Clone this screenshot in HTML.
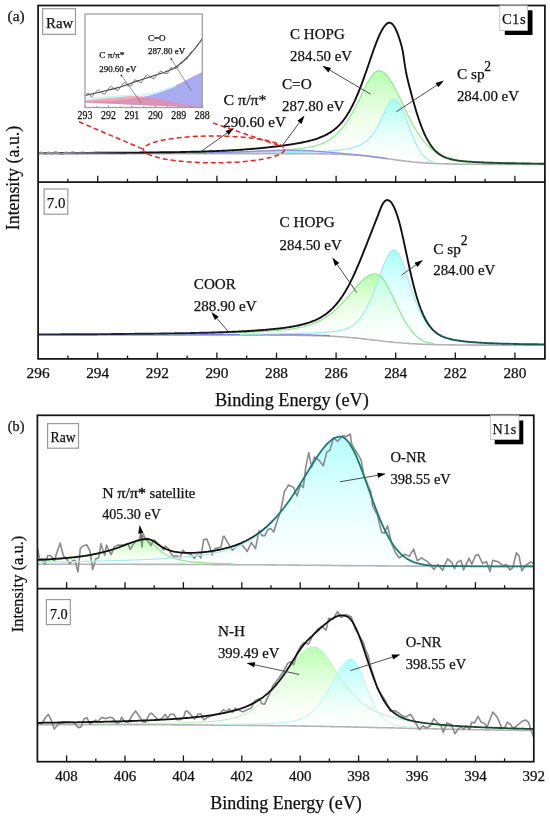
<!DOCTYPE html>
<html><head><meta charset="utf-8"><title>XPS C1s N1s</title>
<style>
html,body{margin:0;padding:0;background:#fff;}
body{width:550px;height:817px;overflow:hidden;}
svg{display:block;filter:blur(0.35px);}
text{font-family:"Liberation Serif", serif;fill:#111;stroke:#111;stroke-width:0.25px;}
</style></head><body>
<svg width="550" height="817" viewBox="0 0 550 817">
<rect x="0" y="0" width="550" height="817" fill="#fff"/>
<defs>
<linearGradient id="gG" x1="0" y1="0" x2="0" y2="1"><stop offset="0" stop-color="#a8ffa0" stop-opacity="0.85"/><stop offset="0.55" stop-color="#e2ffd8" stop-opacity="0.5"/><stop offset="1" stop-color="#ffffff" stop-opacity="0.1"/></linearGradient>
<linearGradient id="gC" x1="0" y1="0" x2="0" y2="1"><stop offset="0" stop-color="#98fffa" stop-opacity="0.85"/><stop offset="0.55" stop-color="#dafefe" stop-opacity="0.5"/><stop offset="1" stop-color="#ffffff" stop-opacity="0.1"/></linearGradient>
<linearGradient id="gCb" x1="0" y1="0" x2="0" y2="1"><stop offset="0" stop-color="#b6fcff" stop-opacity="1"/><stop offset="0.5" stop-color="#e2ffff" stop-opacity="1"/><stop offset="0.8" stop-color="#f6ffff" stop-opacity="1"/><stop offset="1" stop-color="#fdffff" stop-opacity="1"/></linearGradient>
<linearGradient id="gB" x1="0" y1="0" x2="0" y2="1"><stop offset="0" stop-color="#8c8cf0" stop-opacity="0.7"/><stop offset="1" stop-color="#c8c8f8" stop-opacity="0.4"/></linearGradient>
<linearGradient id="eA1" gradientUnits="userSpaceOnUse" x1="420" y1="0" x2="450" y2="0"><stop offset="0" stop-color="#111"/><stop offset="1" stop-color="#1c4a30"/></linearGradient>
<linearGradient id="eA2" gradientUnits="userSpaceOnUse" x1="38" y1="0" x2="545" y2="0"><stop offset="0" stop-color="#262650"/><stop offset="0.33" stop-color="#1c1c3a"/><stop offset="0.4" stop-color="#111"/><stop offset="0.743" stop-color="#111"/><stop offset="0.8" stop-color="#1e5656"/><stop offset="1" stop-color="#1e5656"/></linearGradient>
<linearGradient id="eB1" gradientUnits="userSpaceOnUse" x1="235" y1="0" x2="275" y2="0"><stop offset="0" stop-color="#111"/><stop offset="1" stop-color="#1d7a76"/></linearGradient>
<linearGradient id="eB2" gradientUnits="userSpaceOnUse" x1="385" y1="0" x2="420" y2="0"><stop offset="0" stop-color="#111"/><stop offset="1" stop-color="#1c4a2c"/></linearGradient>
<linearGradient id="gRawA" gradientUnits="userSpaceOnUse" x1="60" y1="0" x2="135" y2="0"><stop offset="0" stop-color="#929292" stop-opacity="1"/><stop offset="1" stop-color="#929292" stop-opacity="0"/></linearGradient>
<clipPath id="cA1"><rect x="38" y="5" width="507" height="177"/></clipPath>
<clipPath id="cA2"><rect x="38" y="182" width="507" height="176"/></clipPath>
<clipPath id="cB1"><rect x="37" y="415" width="496.5" height="173.4"/></clipPath>
<clipPath id="cB2"><rect x="37" y="588.4" width="496.5" height="173"/></clipPath>
<clipPath id="cIn"><rect x="85" y="14" width="117.3" height="93.5"/></clipPath>
</defs>
<g clip-path="url(#cA1)">
<path d="M166,153.3 L167,153.3 L168,153.3 L169,153.3 L170,153.3 L171,153.3 L172,153.3 L173,153.3 L174,153.3 L175,153.3 L176,153.3 L177,153.3 L178,153.3 L179,153.3 L180,153.3 L181,153.3 L182,153.2 L183,153.2 L184,153.2 L185,153.2 L186,153.2 L187,153.2 L188,153.2 L189,153.2 L190,153.2 L191,153.2 L192,153.1 L193,153.1 L194,153.1 L195,153.1 L196,153.1 L197,153.1 L198,153.1 L199,153.1 L200,153 L201,153 L202,153 L203,153 L204,153 L205,153 L206,152.9 L207,152.9 L208,152.9 L209,152.9 L210,152.9 L211,152.8 L212,152.8 L213,152.8 L214,152.8 L215,152.8 L216,152.7 L217,152.7 L218,152.7 L219,152.7 L220,152.6 L221,152.6 L222,152.6 L223,152.5 L224,152.5 L225,152.5 L226,152.4 L227,152.4 L228,152.4 L229,152.4 L230,152.3 L231,152.3 L232,152.2 L233,152.2 L234,152.2 L235,152.1 L236,152.1 L237,152.1 L238,152 L239,152 L240,151.9 L241,151.9 L242,151.9 L243,151.8 L244,151.8 L245,151.7 L246,151.7 L247,151.6 L248,151.6 L249,151.6 L250,151.5 L251,151.5 L252,151.4 L253,151.4 L254,151.3 L255,151.3 L256,151.2 L257,151.2 L258,151.1 L259,151.1 L260,151.1 L261,151 L262,151 L263,150.9 L264,150.9 L265,150.8 L266,150.8 L267,150.7 L268,150.7 L269,150.7 L270,150.6 L271,150.6 L272,150.5 L273,150.5 L274,150.5 L275,150.4 L276,150.4 L277,150.4 L278,150.3 L279,150.3 L280,150.3 L281,150.3 L282,150.3 L283,150.2 L284,150.2 L285,150.2 L286,150.2 L287,150.2 L288,150.2 L289,150.2 L290,150.2 L291,150.2 L292,150.2 L293,150.2 L294,150.2 L295,150.2 L296,150.2 L297,150.2 L298,150.3 L299,150.3 L300,150.3 L301,150.4 L302,150.4 L303,150.4 L304,150.5 L305,150.5 L306,150.6 L307,150.6 L308,150.7 L309,150.7 L310,150.8 L311,150.9 L312,150.9 L313,151 L314,151.1 L315,151.1 L316,151.2 L317,151.3 L318,151.3 L319,151.4 L320,151.5 L321,151.6 L322,151.7 L323,151.7 L324,151.8 L325,151.9 L326,152 L327,152.1 L328,152.2 L329,152.2 L330,152.3 L331,152.4 L332,152.5 L333,152.6 L334,152.7 L335,152.8 L336,152.8 L337,152.9 L338,153 L339,153.1 L340,153.2 L341,153.3 L342,153.4 L343,153.5 L344,153.6 L345,153.6 L346,153.7 L347,153.8 L348,153.9 L349,154 L350,154.1 L351,154.2 L352,154.3 L353,154.4 L354,154.5 L355,154.6 L356,154.7 L357,154.8 L358,154.9 L359,155 L360,155.1 L361,155.2 L362,155.3 L363,155.4 L364,155.5 L365,155.6 L366,155.8 L366,156 L364,155.8 L361,155.6 L358,155.3 L355,155.1 L352,154.9 L349,154.7 L346,154.6 L343,154.5 L340,154.3 L337,154.2 L334,154.1 L331,154.1 L328,154 L325,153.9 L322,153.9 L319,153.9 L316,153.8 L313,153.8 L310,153.8 L307,153.7 L304,153.7 L301,153.7 L298,153.7 L295,153.7 L292,153.7 L289,153.6 L286,153.6 L283,153.6 L280,153.6 L277,153.6 L274,153.6 L271,153.6 L268,153.6 L265,153.6 L262,153.6 L259,153.6 L256,153.6 L253,153.6 L250,153.6 L247,153.6 L244,153.6 L241,153.6 L238,153.6 L235,153.6 L232,153.6 L229,153.6 L226,153.6 L223,153.6 L220,153.6 L217,153.6 L214,153.6 L211,153.6 L208,153.6 L205,153.6 L202,153.6 L199,153.6 L196,153.6 L193,153.6 L190,153.6 L187,153.6 L184,153.6 L181,153.6 L178,153.6 L175,153.6 L172,153.6 L169,153.6 L166,153.6 Z" fill="url(#gB)" stroke="none"/>
<path d="M38,153.3 L39,153.3 L40,153.3 L41,153.3 L42,153.3 L43,153.3 L44,153.3 L45,153.3 L46,153.3 L47,153.3 L48,153.3 L49,153.3 L50,153.3 L51,153.3 L52,153.3 L53,153.3 L54,153.3 L55,153.3 L56,153.3 L57,153.2 L58,153.2 L59,153.2 L60,153.2 L61,153.2 L62,153.2 L63,153.2 L64,153.2 L65,153.2 L66,153.2 L67,153.2 L68,153.2 L69,153.2 L70,153.2 L71,153.2 L72,153.2 L73,153.2 L74,153.2 L75,153.2 L76,153.2 L77,153.2 L78,153.2 L79,153.2 L80,153.2 L81,153.2 L82,153.2 L83,153.2 L84,153.2 L85,153.2 L86,153.2 L87,153.2 L88,153.2 L89,153.2 L90,153.2 L91,153.2 L92,153.2 L93,153.2 L94,153.2 L95,153.2 L96,153.1 L97,153.1 L98,153.1 L99,153.1 L100,153.1 L101,153.1 L102,153.1 L103,153.1 L104,153.1 L105,153.1 L106,153.1 L107,153.1 L108,153.1 L109,153.1 L110,153.1 L111,153.1 L112,153.1 L113,153.1 L114,153.1 L115,153.1 L116,153.1 L117,153.1 L118,153.1 L119,153.1 L120,153.1 L121,153.1 L122,153.1 L123,153.1 L124,153 L125,153 L126,153 L127,153 L128,153 L129,153 L130,153 L131,153 L132,153 L133,153 L134,153 L135,153 L136,153 L137,153 L138,153 L139,153 L140,153 L141,153 L142,153 L143,153 L144,153 L145,152.9 L146,152.9 L147,152.9 L148,152.9 L149,152.9 L150,152.9 L151,152.9 L152,152.9 L153,152.9 L154,152.9 L155,152.9 L156,152.9 L157,152.9 L158,152.9 L159,152.9 L160,152.9 L161,152.9 L162,152.8 L163,152.8 L164,152.8 L165,152.8 L166,152.8 L167,152.8 L168,152.8 L169,152.8 L170,152.8 L171,152.8 L172,152.8 L173,152.8 L174,152.8 L175,152.7 L176,152.7 L177,152.7 L178,152.7 L179,152.7 L180,152.7 L181,152.7 L182,152.7 L183,152.7 L184,152.7 L185,152.7 L186,152.7 L187,152.6 L188,152.6 L189,152.6 L190,152.6 L191,152.6 L192,152.6 L193,152.6 L194,152.6 L195,152.6 L196,152.5 L197,152.5 L198,152.5 L199,152.5 L200,152.5 L201,152.5 L202,152.5 L203,152.5 L204,152.5 L205,152.4 L206,152.4 L207,152.4 L208,152.4 L209,152.4 L210,152.4 L211,152.4 L212,152.3 L213,152.3 L214,152.3 L215,152.3 L216,152.3 L217,152.3 L218,152.3 L219,152.2 L220,152.2 L221,152.2 L222,152.2 L223,152.2 L224,152.2 L225,152.1 L226,152.1 L227,152.1 L228,152.1 L229,152.1 L230,152 L231,152 L232,152 L233,152 L234,152 L235,151.9 L236,151.9 L237,151.9 L238,151.9 L239,151.8 L240,151.8 L241,151.8 L242,151.8 L243,151.7 L244,151.7 L245,151.7 L246,151.7 L247,151.6 L248,151.6 L249,151.6 L250,151.5 L251,151.5 L252,151.5 L253,151.5 L254,151.4 L255,151.4 L256,151.4 L257,151.3 L258,151.3 L259,151.3 L260,151.2 L261,151.2 L262,151.1 L263,151.1 L264,151.1 L265,151 L266,151 L267,150.9 L268,150.9 L269,150.8 L270,150.8 L271,150.7 L272,150.7 L273,150.6 L274,150.6 L275,150.5 L276,150.5 L277,150.4 L278,150.4 L279,150.3 L280,150.3 L281,150.2 L282,150.1 L283,150.1 L284,150 L285,149.9 L286,149.8 L287,149.8 L288,149.7 L289,149.6 L290,149.5 L291,149.4 L292,149.4 L293,149.3 L294,149.2 L295,149.1 L296,149 L297,148.9 L298,148.8 L299,148.6 L300,148.5 L301,148.4 L302,148.3 L303,148.1 L304,148 L305,147.8 L306,147.7 L307,147.5 L308,147.4 L309,147.2 L310,147 L311,146.8 L312,146.6 L313,146.3 L314,146.1 L315,145.8 L316,145.6 L317,145.3 L318,145 L319,144.7 L320,144.3 L321,144 L322,143.6 L323,143.2 L324,142.7 L325,142.3 L326,141.8 L327,141.2 L328,140.7 L329,140.1 L330,139.5 L331,138.8 L332,138.1 L333,137.3 L334,136.5 L335,135.7 L336,134.8 L337,133.9 L338,132.9 L339,131.9 L340,130.8 L341,129.6 L342,128.4 L343,127.2 L344,125.9 L345,124.5 L346,123.1 L347,121.6 L348,120.1 L349,118.5 L350,116.8 L351,115.1 L352,113.4 L353,111.6 L354,109.7 L355,107.9 L356,105.9 L357,104 L358,102 L359,100 L360,97.9 L361,95.9 L362,93.8 L363,91.8 L364,89.8 L365,87.8 L366,85.8 L367,83.9 L368,82.1 L369,80.4 L370,78.7 L371,77.2 L372,75.8 L373,74.6 L374,73.5 L375,72.5 L376,71.8 L377,71.3 L378,70.9 L379,70.8 L380,70.9 L381,71.1 L382,71.5 L383,72.1 L384,72.8 L385,73.7 L386,74.6 L387,75.8 L388,77 L389,78.4 L390,79.9 L391,81.4 L392,83.1 L393,84.8 L394,86.7 L395,88.5 L396,90.5 L397,92.5 L398,94.5 L399,96.5 L400,98.6 L401,100.7 L402,102.8 L403,104.9 L404,107 L405,109 L406,111.1 L407,113.1 L408,115.2 L409,117.1 L410,119.1 L411,121 L412,122.9 L413,124.7 L414,126.5 L415,128.2 L416,129.9 L417,131.5 L418,133.1 L419,134.7 L420,136.1 L421,137.5 L422,138.9 L423,140.2 L424,141.5 L425,142.7 L426,143.8 L427,144.9 L428,145.9 L429,146.9 L430,147.9 L431,148.7 L432,149.6 L433,150.4 L434,151.1 L435,151.8 L436,152.5 L437,153.1 L438,153.7 L439,154.3 L440,154.8 L441,155.3 L442,155.8 L443,156.2 L444,156.6 L445,157 L446,157.3 L447,157.7 L448,158 L449,158.3 L450,158.5 L451,158.8 L452,159 L453,159.3 L454,159.5 L455,159.7 L456,159.8 L457,160 L458,160.2 L459,160.3 L460,160.5 L461,160.6 L462,160.7 L463,160.8 L464,160.9 L465,161 L466,161.1 L467,161.2 L468,161.3 L469,161.4 L470,161.5 L471,161.5 L472,161.6 L473,161.7 L474,161.8 L475,161.8 L476,161.9 L477,161.9 L478,162 L479,162 L480,162.1 L481,162.1 L482,162.2 L483,162.2 L484,162.3 L485,162.3 L486,162.4 L487,162.4 L488,162.4 L489,162.5 L490,162.5 L491,162.5 L492,162.6 L493,162.6 L494,162.6 L495,162.7 L496,162.7 L497,162.7 L498,162.8 L499,162.8 L500,162.8 L501,162.8 L502,162.9 L503,162.9 L504,162.9 L505,162.9 L506,163 L507,163 L508,163 L509,163 L510,163 L511,163.1 L512,163.1 L513,163.1 L514,163.1 L515,163.1 L516,163.2 L517,163.2 L518,163.2 L519,163.2 L520,163.2 L521,163.3 L522,163.3 L523,163.3 L524,163.3 L525,163.3 L526,163.3 L527,163.3 L528,163.4 L529,163.4 L530,163.4 L531,163.4 L532,163.4 L533,163.4 L534,163.4 L535,163.5 L536,163.5 L537,163.5 L538,163.5 L539,163.5 L540,163.5 L541,163.5 L542,163.5 L543,163.5 L544,163.6 L545,163.6 L545,164.4 L545,164.4 L542,164.4 L539,164.4 L536,164.4 L533,164.4 L530,164.4 L527,164.4 L524,164.4 L521,164.4 L518,164.4 L515,164.4 L512,164.4 L509,164.4 L506,164.4 L503,164.4 L500,164.4 L497,164.4 L494,164.4 L491,164.4 L488,164.4 L485,164.4 L482,164.3 L479,164.3 L476,164.3 L473,164.3 L470,164.3 L467,164.2 L464,164.2 L461,164.2 L458,164.1 L455,164.1 L452,164 L449,164 L446,163.9 L443,163.8 L440,163.7 L437,163.6 L434,163.5 L431,163.3 L428,163.1 L425,162.9 L422,162.7 L419,162.5 L416,162.2 L413,161.9 L410,161.6 L407,161.3 L404,160.9 L401,160.6 L398,160.2 L395,159.7 L392,159.3 L389,158.9 L386,158.5 L383,158.1 L380,157.6 L377,157.3 L374,156.9 L371,156.5 L368,156.2 L365,155.9 L362,155.6 L359,155.4 L356,155.2 L353,155 L350,154.8 L347,154.6 L344,154.5 L341,154.4 L338,154.3 L335,154.2 L332,154.1 L329,154 L326,154 L323,153.9 L320,153.9 L317,153.8 L314,153.8 L311,153.8 L308,153.7 L305,153.7 L302,153.7 L299,153.7 L296,153.7 L293,153.7 L290,153.7 L287,153.6 L284,153.6 L281,153.6 L278,153.6 L275,153.6 L272,153.6 L269,153.6 L266,153.6 L263,153.6 L260,153.6 L257,153.6 L254,153.6 L251,153.6 L248,153.6 L245,153.6 L242,153.6 L239,153.6 L236,153.6 L233,153.6 L230,153.6 L227,153.6 L224,153.6 L221,153.6 L218,153.6 L215,153.6 L212,153.6 L209,153.6 L206,153.6 L203,153.6 L200,153.6 L197,153.6 L194,153.6 L191,153.6 L188,153.6 L185,153.6 L182,153.6 L179,153.6 L176,153.6 L173,153.6 L170,153.6 L167,153.6 L164,153.6 L161,153.6 L158,153.6 L155,153.6 L152,153.6 L149,153.6 L146,153.6 L143,153.6 L140,153.6 L137,153.6 L134,153.6 L131,153.6 L128,153.6 L125,153.6 L122,153.6 L119,153.6 L116,153.6 L113,153.6 L110,153.6 L107,153.6 L104,153.6 L101,153.6 L98,153.6 L95,153.6 L92,153.6 L89,153.6 L86,153.6 L83,153.6 L80,153.6 L77,153.6 L74,153.6 L71,153.6 L68,153.6 L65,153.6 L62,153.6 L59,153.6 L56,153.6 L53,153.6 L50,153.6 L47,153.6 L44,153.6 L41,153.6 L38,153.6 Z" fill="url(#gG)"/>
<path d="M157,153.3 L158,153.3 L159,153.3 L160,153.3 L161,153.3 L162,153.3 L163,153.3 L164,153.3 L165,153.3 L166,153.3 L167,153.3 L168,153.3 L169,153.3 L170,153.3 L171,153.3 L172,153.3 L173,153.3 L174,153.3 L175,153.3 L176,153.3 L177,153.3 L178,153.3 L179,153.3 L180,153.3 L181,153.3 L182,153.3 L183,153.3 L184,153.3 L185,153.3 L186,153.3 L187,153.3 L188,153.3 L189,153.3 L190,153.3 L191,153.3 L192,153.2 L193,153.2 L194,153.2 L195,153.2 L196,153.2 L197,153.2 L198,153.2 L199,153.2 L200,153.2 L201,153.2 L202,153.2 L203,153.2 L204,153.2 L205,153.2 L206,153.2 L207,153.2 L208,153.2 L209,153.2 L210,153.2 L211,153.2 L212,153.2 L213,153.2 L214,153.2 L215,153.2 L216,153.2 L217,153.1 L218,153.1 L219,153.1 L220,153.1 L221,153.1 L222,153.1 L223,153.1 L224,153.1 L225,153.1 L226,153.1 L227,153.1 L228,153.1 L229,153.1 L230,153.1 L231,153.1 L232,153.1 L233,153.1 L234,153 L235,153 L236,153 L237,153 L238,153 L239,153 L240,153 L241,153 L242,153 L243,153 L244,153 L245,153 L246,153 L247,153 L248,152.9 L249,152.9 L250,152.9 L251,152.9 L252,152.9 L253,152.9 L254,152.9 L255,152.9 L256,152.9 L257,152.9 L258,152.9 L259,152.8 L260,152.8 L261,152.8 L262,152.8 L263,152.8 L264,152.8 L265,152.8 L266,152.8 L267,152.8 L268,152.7 L269,152.7 L270,152.7 L271,152.7 L272,152.7 L273,152.7 L274,152.7 L275,152.6 L276,152.6 L277,152.6 L278,152.6 L279,152.6 L280,152.6 L281,152.5 L282,152.5 L283,152.5 L284,152.5 L285,152.5 L286,152.5 L287,152.4 L288,152.4 L289,152.4 L290,152.4 L291,152.4 L292,152.3 L293,152.3 L294,152.3 L295,152.3 L296,152.2 L297,152.2 L298,152.2 L299,152.2 L300,152.1 L301,152.1 L302,152.1 L303,152.1 L304,152 L305,152 L306,152 L307,151.9 L308,151.9 L309,151.9 L310,151.8 L311,151.8 L312,151.8 L313,151.7 L314,151.7 L315,151.6 L316,151.6 L317,151.6 L318,151.5 L319,151.5 L320,151.4 L321,151.4 L322,151.3 L323,151.3 L324,151.2 L325,151.2 L326,151.1 L327,151 L328,151 L329,150.9 L330,150.8 L331,150.8 L332,150.7 L333,150.6 L334,150.5 L335,150.4 L336,150.3 L337,150.3 L338,150.2 L339,150 L340,149.9 L341,149.8 L342,149.7 L343,149.6 L344,149.4 L345,149.3 L346,149.1 L347,149 L348,148.8 L349,148.6 L350,148.4 L351,148.1 L352,147.9 L353,147.6 L354,147.4 L355,147.1 L356,146.7 L357,146.4 L358,146 L359,145.6 L360,145.1 L361,144.6 L362,144 L363,143.4 L364,142.8 L365,142.1 L366,141.3 L367,140.5 L368,139.5 L369,138.6 L370,137.5 L371,136.3 L372,135.1 L373,133.8 L374,132.4 L375,130.8 L376,129.2 L377,127.5 L378,125.7 L379,123.8 L380,121.9 L381,119.8 L382,117.7 L383,115.5 L384,113.4 L385,111.2 L386,109.1 L387,107.1 L388,105.2 L389,103.5 L390,102 L391,100.8 L392,100 L393,99.5 L394,99.4 L395,99.6 L396,100.2 L397,101 L398,102.1 L399,103.5 L400,105.1 L401,107 L402,109.1 L403,111.3 L404,113.7 L405,116.2 L406,118.8 L407,121.4 L408,124.1 L409,126.8 L410,129.4 L411,132 L412,134.6 L413,137 L414,139.4 L415,141.7 L416,143.8 L417,145.8 L418,147.7 L419,149.4 L420,151 L421,152.5 L422,153.9 L423,155.1 L424,156.2 L425,157.2 L426,158 L427,158.8 L428,159.5 L429,160.1 L430,160.6 L431,161.1 L432,161.5 L433,161.8 L434,162.1 L435,162.4 L436,162.6 L437,162.8 L438,163 L439,163.1 L440,163.2 L441,163.4 L442,163.4 L443,163.5 L443,163.8 L442,163.8 L439,163.7 L436,163.5 L433,163.4 L430,163.2 L427,163.1 L424,162.9 L421,162.7 L418,162.4 L415,162.1 L412,161.8 L409,161.5 L406,161.2 L403,160.8 L400,160.4 L397,160 L394,159.6 L391,159.2 L388,158.8 L385,158.3 L382,157.9 L379,157.5 L376,157.1 L373,156.8 L370,156.4 L367,156.1 L364,155.8 L361,155.6 L358,155.3 L355,155.1 L352,154.9 L349,154.7 L346,154.6 L343,154.5 L340,154.3 L337,154.2 L334,154.1 L331,154.1 L328,154 L325,153.9 L322,153.9 L319,153.9 L316,153.8 L313,153.8 L310,153.8 L307,153.7 L304,153.7 L301,153.7 L298,153.7 L295,153.7 L292,153.7 L289,153.6 L286,153.6 L283,153.6 L280,153.6 L277,153.6 L274,153.6 L271,153.6 L268,153.6 L265,153.6 L262,153.6 L259,153.6 L256,153.6 L253,153.6 L250,153.6 L247,153.6 L244,153.6 L241,153.6 L238,153.6 L235,153.6 L232,153.6 L229,153.6 L226,153.6 L223,153.6 L220,153.6 L217,153.6 L214,153.6 L211,153.6 L208,153.6 L205,153.6 L202,153.6 L199,153.6 L196,153.6 L193,153.6 L190,153.6 L187,153.6 L184,153.6 L181,153.6 L178,153.6 L175,153.6 L172,153.6 L169,153.6 L166,153.6 L163,153.6 L160,153.6 L157,153.6 Z" fill="url(#gC)"/>
<path d="M38,153.6 L40,153.6 L42,153.6 L44,153.6 L46,153.6 L48,153.6 L50,153.6 L52,153.6 L54,153.6 L56,153.6 L58,153.6 L60,153.6 L62,153.6 L64,153.6 L66,153.6 L68,153.6 L70,153.6 L72,153.6 L74,153.6 L76,153.6 L78,153.6 L80,153.6 L82,153.6 L84,153.6 L86,153.6 L88,153.6 L90,153.6 L92,153.6 L94,153.6 L96,153.6 L98,153.6 L100,153.6 L102,153.6 L104,153.6 L106,153.6 L108,153.6 L110,153.6 L112,153.6 L114,153.6 L116,153.6 L118,153.6 L120,153.6 L122,153.6 L124,153.6 L126,153.6 L128,153.6 L130,153.6 L132,153.6 L134,153.6 L136,153.6 L138,153.6 L140,153.6 L142,153.6 L144,153.6 L146,153.6 L148,153.6 L150,153.6 L152,153.6 L154,153.6 L156,153.6 L158,153.6 L160,153.6 L162,153.6 L164,153.6 L166,153.6 L168,153.6 L170,153.6 L172,153.6 L174,153.6 L176,153.6 L178,153.6 L180,153.6 L182,153.6 L184,153.6 L186,153.6 L188,153.6 L190,153.6 L192,153.6 L194,153.6 L196,153.6 L198,153.6 L200,153.6 L202,153.6 L204,153.6 L206,153.6 L208,153.6 L210,153.6 L212,153.6 L214,153.6 L216,153.6 L218,153.6 L220,153.6 L222,153.6 L224,153.6 L226,153.6 L228,153.6 L230,153.6 L232,153.6 L234,153.6 L236,153.6 L238,153.6 L240,153.6 L242,153.6 L244,153.6 L246,153.6 L248,153.6 L250,153.6 L252,153.6 L254,153.6 L256,153.6 L258,153.6 L260,153.6 L262,153.6 L264,153.6 L266,153.6 L268,153.6 L270,153.6 L272,153.6 L274,153.6 L276,153.6 L278,153.6 L280,153.6 L282,153.6 L284,153.6 L286,153.6 L288,153.6 L290,153.7 L292,153.7 L294,153.7 L296,153.7 L298,153.7 L300,153.7 L302,153.7 L304,153.7 L306,153.7 L308,153.7 L310,153.8 L312,153.8 L314,153.8 L316,153.8 L318,153.8 L320,153.9 L322,153.9 L324,153.9 L326,154 L328,154 L330,154 L332,154.1 L334,154.1 L336,154.2 L338,154.3 L340,154.3 L342,154.4 L344,154.5 L346,154.6 L348,154.7 L350,154.8 L352,154.9 L354,155 L356,155.2 L358,155.3 L360,155.5 L362,155.6 L364,155.8 L366,156 L368,156.2 L370,156.4 L372,156.7 L374,156.9 L376,157.1 L378,157.4 L380,157.6 L382,157.9 L384,158.2 L386,158.5 L388,158.8 L390,159 L392,159.3 L394,159.6 L396,159.9 L398,160.2 L400,160.4 L402,160.7 L404,160.9 L406,161.2 L408,161.4 L410,161.6 L412,161.8 L414,162 L416,162.2 L418,162.4 L420,162.6 L422,162.7 L424,162.9 L426,163 L428,163.1 L430,163.2 L432,163.4 L434,163.5 L436,163.5 L438,163.6 L440,163.7 L442,163.8 L444,163.8 L446,163.9 L448,163.9 L450,164 L452,164 L454,164.1 L456,164.1 L458,164.1 L460,164.2 L462,164.2 L464,164.2 L466,164.2 L468,164.3 L470,164.3 L472,164.3 L474,164.3 L476,164.3 L478,164.3 L480,164.3 L482,164.3 L484,164.4 L486,164.4 L488,164.4 L490,164.4 L492,164.4 L494,164.4 L496,164.4 L498,164.4 L500,164.4 L502,164.4 L504,164.4 L506,164.4 L508,164.4 L510,164.4 L512,164.4 L514,164.4 L516,164.4 L518,164.4 L520,164.4 L522,164.4 L524,164.4 L526,164.4 L528,164.4 L530,164.4 L532,164.4 L534,164.4 L536,164.4 L538,164.4 L540,164.4 L542,164.4 L544,164.4" fill="none" stroke="#b4b4b4" stroke-width="1.6"/>
<path d="M192,152.6 L193,152.6 L194,152.6 L195,152.6 L196,152.5 L197,152.5 L198,152.5 L199,152.5 L200,152.5 L201,152.5 L202,152.5 L203,152.5 L204,152.5 L205,152.4 L206,152.4 L207,152.4 L208,152.4 L209,152.4 L210,152.4 L211,152.4 L212,152.3 L213,152.3 L214,152.3 L215,152.3 L216,152.3 L217,152.3 L218,152.3 L219,152.2 L220,152.2 L221,152.2 L222,152.2 L223,152.2 L224,152.2 L225,152.1 L226,152.1 L227,152.1 L228,152.1 L229,152.1 L230,152 L231,152 L232,152 L233,152 L234,152 L235,151.9 L236,151.9 L237,151.9 L238,151.9 L239,151.8 L240,151.8 L241,151.8 L242,151.8 L243,151.7 L244,151.7 L245,151.7 L246,151.7 L247,151.6 L248,151.6 L249,151.6 L250,151.5 L251,151.5 L252,151.5 L253,151.5 L254,151.4 L255,151.4 L256,151.4 L257,151.3 L258,151.3 L259,151.3 L260,151.2 L261,151.2 L262,151.1 L263,151.1 L264,151.1 L265,151 L266,151 L267,150.9 L268,150.9 L269,150.8 L270,150.8 L271,150.7 L272,150.7 L273,150.6 L274,150.6 L275,150.5 L276,150.5 L277,150.4 L278,150.4 L279,150.3 L280,150.3 L281,150.2 L282,150.1 L283,150.1 L284,150 L285,149.9 L286,149.8 L287,149.8 L288,149.7 L289,149.6 L290,149.5 L291,149.4 L292,149.4 L293,149.3 L294,149.2 L295,149.1 L296,149 L297,148.9 L298,148.8 L299,148.6 L300,148.5 L301,148.4 L302,148.3 L303,148.1 L304,148 L305,147.8 L306,147.7 L307,147.5 L308,147.4 L309,147.2 L310,147 L311,146.8 L312,146.6 L313,146.3 L314,146.1 L315,145.8 L316,145.6 L317,145.3 L318,145 L319,144.7 L320,144.3 L321,144 L322,143.6 L323,143.2 L324,142.7 L325,142.3 L326,141.8 L327,141.2 L328,140.7 L329,140.1 L330,139.5 L331,138.8 L332,138.1 L333,137.3 L334,136.5 L335,135.7 L336,134.8 L337,133.9 L338,132.9 L339,131.9 L340,130.8 L341,129.6 L342,128.4 L343,127.2 L344,125.9 L345,124.5 L346,123.1 L347,121.6 L348,120.1 L349,118.5 L350,116.8 L351,115.1 L352,113.4 L353,111.6 L354,109.7 L355,107.9 L356,105.9 L357,104 L358,102 L359,100 L360,97.9 L361,95.9 L362,93.8 L363,91.8 L364,89.8 L365,87.8 L366,85.8 L367,83.9 L368,82.1 L369,80.4 L370,78.7 L371,77.2 L372,75.8 L373,74.6 L374,73.5 L375,72.5 L376,71.8 L377,71.3 L378,70.9 L379,70.8 L380,70.9 L381,71.1 L382,71.5 L383,72.1 L384,72.8 L385,73.7 L386,74.6 L387,75.8 L388,77 L389,78.4 L390,79.9 L391,81.4 L392,83.1 L393,84.8 L394,86.7 L395,88.5 L396,90.5 L397,92.5 L398,94.5 L399,96.5 L400,98.6 L401,100.7 L402,102.8 L403,104.9 L404,107 L405,109 L406,111.1 L407,113.1 L408,115.2 L409,117.1 L410,119.1 L411,121 L412,122.9 L413,124.7 L414,126.5 L415,128.2 L416,129.9 L417,131.5 L418,133.1 L419,134.7 L420,136.1 L421,137.5 L422,138.9 L423,140.2 L424,141.5 L425,142.7 L426,143.8 L427,144.9 L428,145.9 L429,146.9 L430,147.9 L431,148.7 L432,149.6 L433,150.4 L434,151.1 L435,151.8 L436,152.5 L437,153.1 L438,153.7 L439,154.3 L440,154.8 L441,155.3 L442,155.8 L443,156.2 L444,156.6 L445,157 L446,157.3 L447,157.7 L448,158 L449,158.3 L450,158.5 L451,158.8 L452,159 L453,159.3 L454,159.5 L455,159.7 L456,159.8 L457,160 L458,160.2 L459,160.3 L460,160.5 L461,160.6 L462,160.7 L463,160.8 L464,160.9 L465,161 L466,161.1 L467,161.2 L468,161.3 L469,161.4 L470,161.5 L471,161.5 L472,161.6 L473,161.7 L474,161.8 L475,161.8 L476,161.9 L477,161.9 L478,162 L479,162 L480,162.1 L481,162.1 L482,162.2 L483,162.2 L484,162.3 L485,162.3 L486,162.4 L487,162.4 L488,162.4 L489,162.5 L490,162.5 L491,162.5 L492,162.6 L493,162.6 L494,162.6 L495,162.7 L496,162.7 L497,162.7 L498,162.8 L499,162.8 L500,162.8 L501,162.8 L502,162.9 L503,162.9 L504,162.9 L505,162.9 L506,163 L507,163 L508,163 L509,163 L510,163 L511,163.1 L512,163.1 L513,163.1 L514,163.1 L515,163.1 L516,163.2 L517,163.2 L518,163.2 L519,163.2 L520,163.2 L521,163.3 L522,163.3 L523,163.3 L524,163.3 L525,163.3 L526,163.3 L527,163.3 L528,163.4 L529,163.4 L530,163.4 L531,163.4 L532,163.4" fill="none" stroke="#8ee88e" stroke-width="1.2"/>
<path d="M277,152.6 L278,152.6 L279,152.6 L280,152.6 L281,152.5 L282,152.5 L283,152.5 L284,152.5 L285,152.5 L286,152.5 L287,152.4 L288,152.4 L289,152.4 L290,152.4 L291,152.4 L292,152.3 L293,152.3 L294,152.3 L295,152.3 L296,152.2 L297,152.2 L298,152.2 L299,152.2 L300,152.1 L301,152.1 L302,152.1 L303,152.1 L304,152 L305,152 L306,152 L307,151.9 L308,151.9 L309,151.9 L310,151.8 L311,151.8 L312,151.8 L313,151.7 L314,151.7 L315,151.6 L316,151.6 L317,151.6 L318,151.5 L319,151.5 L320,151.4 L321,151.4 L322,151.3 L323,151.3 L324,151.2 L325,151.2 L326,151.1 L327,151 L328,151 L329,150.9 L330,150.8 L331,150.8 L332,150.7 L333,150.6 L334,150.5 L335,150.4 L336,150.3 L337,150.3 L338,150.2 L339,150 L340,149.9 L341,149.8 L342,149.7 L343,149.6 L344,149.4 L345,149.3 L346,149.1 L347,149 L348,148.8 L349,148.6 L350,148.4 L351,148.1 L352,147.9 L353,147.6 L354,147.4 L355,147.1 L356,146.7 L357,146.4 L358,146 L359,145.6 L360,145.1 L361,144.6 L362,144 L363,143.4 L364,142.8 L365,142.1 L366,141.3 L367,140.5 L368,139.5 L369,138.6 L370,137.5 L371,136.3 L372,135.1 L373,133.8 L374,132.4 L375,130.8 L376,129.2 L377,127.5 L378,125.7 L379,123.8 L380,121.9 L381,119.8 L382,117.7 L383,115.5 L384,113.4 L385,111.2 L386,109.1 L387,107.1 L388,105.2 L389,103.5 L390,102 L391,100.8 L392,100 L393,99.5 L394,99.4 L395,99.6 L396,100.2 L397,101 L398,102.1 L399,103.5 L400,105.1 L401,107 L402,109.1 L403,111.3 L404,113.7 L405,116.2 L406,118.8 L407,121.4 L408,124.1 L409,126.8 L410,129.4 L411,132 L412,134.6 L413,137 L414,139.4 L415,141.7 L416,143.8 L417,145.8 L418,147.7 L419,149.4 L420,151 L421,152.5 L422,153.9 L423,155.1 L424,156.2 L425,157.2 L426,158 L427,158.8 L428,159.5 L429,160.1 L430,160.6 L431,161.1 L432,161.5 L433,161.8 L434,162.1 L435,162.4" fill="none" stroke="#9eeeee" stroke-width="1.2"/>
<path d="M38,153.5 L39,153.5 L40,153.5 L41,153.5 L42,153.5 L43,153.5 L44,153.5 L45,153.5 L46,153.5 L47,153.5 L48,153.5 L49,153.5 L50,153.5 L51,153.5 L52,153.5 L53,153.5 L54,153.5 L55,153.5 L56,153.5 L57,153.5 L58,153.5 L59,153.5 L60,153.5 L61,153.5 L62,153.5 L63,153.5 L64,153.5 L65,153.5 L66,153.5 L67,153.5 L68,153.5 L69,153.5 L70,153.5 L71,153.5 L72,153.5 L73,153.5 L74,153.5 L75,153.5 L76,153.5 L77,153.5 L78,153.5 L79,153.5 L80,153.5 L81,153.5 L82,153.5 L83,153.5 L84,153.5 L85,153.5 L86,153.5 L87,153.5 L88,153.5 L89,153.5 L90,153.5 L91,153.5 L92,153.5 L93,153.5 L94,153.5 L95,153.5 L96,153.5 L97,153.5 L98,153.5 L99,153.5 L100,153.5 L101,153.5 L102,153.5 L103,153.5 L104,153.5 L105,153.5 L106,153.5 L107,153.5 L108,153.5 L109,153.5 L110,153.5 L111,153.5 L112,153.5 L113,153.5 L114,153.5 L115,153.5 L116,153.5 L117,153.5 L118,153.5 L119,153.5 L120,153.5 L121,153.5 L122,153.5 L123,153.5 L124,153.5 L125,153.5 L126,153.5 L127,153.4 L128,153.4 L129,153.4 L130,153.4 L131,153.4 L132,153.4 L133,153.4 L134,153.4 L135,153.4 L136,153.4 L137,153.4 L138,153.4 L139,153.4 L140,153.4 L141,153.4 L142,153.4 L143,153.4 L144,153.4 L145,153.4 L146,153.4 L147,153.4 L148,153.4 L149,153.4 L150,153.4 L151,153.4 L152,153.4 L153,153.4 L154,153.4 L155,153.4 L156,153.4 L157,153.4 L158,153.4 L159,153.4 L160,153.4 L161,153.4 L162,153.4 L163,153.4 L164,153.3 L165,153.3 L166,153.3 L167,153.3 L168,153.3 L169,153.3 L170,153.3 L171,153.3 L172,153.3 L173,153.3 L174,153.3 L175,153.3 L176,153.3 L177,153.3 L178,153.3 L179,153.3 L180,153.3 L181,153.3 L182,153.2 L183,153.2 L184,153.2 L185,153.2 L186,153.2 L187,153.2 L188,153.2 L189,153.2 L190,153.2 L191,153.2 L192,153.1 L193,153.1 L194,153.1 L195,153.1 L196,153.1 L197,153.1 L198,153.1 L199,153.1 L200,153 L201,153 L202,153 L203,153 L204,153 L205,153 L206,152.9 L207,152.9 L208,152.9 L209,152.9 L210,152.9 L211,152.8 L212,152.8 L213,152.8 L214,152.8 L215,152.8 L216,152.7 L217,152.7 L218,152.7 L219,152.7 L220,152.6 L221,152.6 L222,152.6 L223,152.5 L224,152.5 L225,152.5 L226,152.4 L227,152.4 L228,152.4 L229,152.4 L230,152.3 L231,152.3 L232,152.2 L233,152.2 L234,152.2 L235,152.1 L236,152.1 L237,152.1 L238,152 L239,152 L240,151.9 L241,151.9 L242,151.9 L243,151.8 L244,151.8 L245,151.7 L246,151.7 L247,151.6 L248,151.6 L249,151.6 L250,151.5 L251,151.5 L252,151.4 L253,151.4 L254,151.3 L255,151.3 L256,151.2 L257,151.2 L258,151.1 L259,151.1 L260,151.1 L261,151 L262,151 L263,150.9 L264,150.9 L265,150.8 L266,150.8 L267,150.7 L268,150.7 L269,150.7 L270,150.6 L271,150.6 L272,150.5 L273,150.5 L274,150.5 L275,150.4 L276,150.4 L277,150.4 L278,150.3 L279,150.3 L280,150.3 L281,150.3 L282,150.3 L283,150.2 L284,150.2 L285,150.2 L286,150.2 L287,150.2 L288,150.2 L289,150.2 L290,150.2 L291,150.2 L292,150.2 L293,150.2 L294,150.2 L295,150.2 L296,150.2 L297,150.2 L298,150.3 L299,150.3 L300,150.3 L301,150.4 L302,150.4 L303,150.4 L304,150.5 L305,150.5 L306,150.6 L307,150.6 L308,150.7 L309,150.7 L310,150.8 L311,150.9 L312,150.9 L313,151 L314,151.1 L315,151.1 L316,151.2 L317,151.3 L318,151.3 L319,151.4 L320,151.5 L321,151.6 L322,151.7 L323,151.7 L324,151.8 L325,151.9 L326,152 L327,152.1 L328,152.2 L329,152.2 L330,152.3 L331,152.4 L332,152.5 L333,152.6 L334,152.7 L335,152.8 L336,152.8 L337,152.9 L338,153 L339,153.1 L340,153.2 L341,153.3 L342,153.4 L343,153.5 L344,153.6 L345,153.6 L346,153.7 L347,153.8 L348,153.9 L349,154 L350,154.1 L351,154.2 L352,154.3 L353,154.4 L354,154.5 L355,154.6 L356,154.7 L357,154.8 L358,154.9 L359,155 L360,155.1 L361,155.2 L362,155.3 L363,155.4 L364,155.5 L365,155.6 L366,155.8 L367,155.9 L368,156 L369,156.1 L370,156.2 L371,156.4 L372,156.5 L373,156.6 L374,156.8 L375,156.9 L376,157 L377,157.2 L378,157.3 L379,157.4 L380,157.6 L381,157.7 L382,157.8 L383,158 L384,158.1 L385,158.3 L386,158.4 L387,158.6 L388,158.7" fill="none" stroke="#9090e6" stroke-width="1.3"/>
<path d="M38,153.1 L39,153.1 L40,153.1 L41,153.1 L42,153.1 L43,153 L44,153 L45,153 L46,153 L47,153 L48,153 L49,153 L50,153 L51,153 L52,153 L53,153 L54,153 L55,153 L56,153 L57,153 L58,153 L59,153 L60,153 L61,153 L62,153 L63,153 L64,153 L65,153 L66,153 L67,153 L68,153 L69,153 L70,153 L71,152.9 L72,152.9 L73,152.9 L74,152.9 L75,152.9 L76,152.9 L77,152.9 L78,152.9 L79,152.9 L80,152.9 L81,152.9 L82,152.9 L83,152.9 L84,152.9 L85,152.9 L86,152.9 L87,152.9 L88,152.9 L89,152.9 L90,152.9 L91,152.9 L92,152.9 L93,152.9 L94,152.8 L95,152.8 L96,152.8 L97,152.8 L98,152.8 L99,152.8 L100,152.8 L101,152.8 L102,152.8 L103,152.8 L104,152.8 L105,152.8 L106,152.8 L107,152.8 L108,152.8 L109,152.8 L110,152.8 L111,152.8 L112,152.7 L113,152.7 L114,152.7 L115,152.7 L116,152.7 L117,152.7 L118,152.7 L119,152.7 L120,152.7 L121,152.7 L122,152.7 L123,152.7 L124,152.7 L125,152.7 L126,152.7 L127,152.6 L128,152.6 L129,152.6 L130,152.6 L131,152.6 L132,152.6 L133,152.6 L134,152.6 L135,152.6 L136,152.6 L137,152.6 L138,152.6 L139,152.6 L140,152.5 L141,152.5 L142,152.5 L143,152.5 L144,152.5 L145,152.5 L146,152.5 L147,152.5 L148,152.5 L149,152.5 L150,152.4 L151,152.4 L152,152.4 L153,152.4 L154,152.4 L155,152.4 L156,152.4 L157,152.4 L158,152.4 L159,152.4 L160,152.3 L161,152.3 L162,152.3 L163,152.3 L164,152.3 L165,152.3 L166,152.3 L167,152.3 L168,152.2 L169,152.2 L170,152.2 L171,152.2 L172,152.2 L173,152.2 L174,152.1 L175,152.1 L176,152.1 L177,152.1 L178,152.1 L179,152.1 L180,152.1 L181,152 L182,152 L183,152 L184,152 L185,152 L186,151.9 L187,151.9 L188,151.9 L189,151.9 L190,151.9 L191,151.8 L192,151.8 L193,151.8 L194,151.8 L195,151.7 L196,151.7 L197,151.7 L198,151.7 L199,151.6 L200,151.6 L201,151.6 L202,151.5 L203,151.5 L204,151.5 L205,151.5 L206,151.4 L207,151.4 L208,151.4 L209,151.3 L210,151.3 L211,151.3 L212,151.2 L213,151.2 L214,151.1 L215,151.1 L216,151.1 L217,151 L218,151 L219,150.9 L220,150.9 L221,150.9 L222,150.8 L223,150.8 L224,150.7 L225,150.7 L226,150.6 L227,150.6 L228,150.5 L229,150.5 L230,150.4 L231,150.4 L232,150.3 L233,150.2 L234,150.2 L235,150.1 L236,150.1 L237,150 L238,149.9 L239,149.9 L240,149.8 L241,149.7 L242,149.7 L243,149.6 L244,149.5 L245,149.4 L246,149.4 L247,149.3 L248,149.2 L249,149.1 L250,149.1 L251,149 L252,148.9 L253,148.8 L254,148.7 L255,148.6 L256,148.6 L257,148.5 L258,148.4 L259,148.3 L260,148.2 L261,148.1 L262,148 L263,147.9 L264,147.8 L265,147.7 L266,147.6 L267,147.5 L268,147.4 L269,147.3 L270,147.1 L271,147 L272,146.9 L273,146.8 L274,146.7 L275,146.6 L276,146.5 L277,146.3 L278,146.2 L279,146.1 L280,146 L281,145.8 L282,145.7 L283,145.6 L284,145.4 L285,145.3 L286,145.1 L287,145 L288,144.9 L289,144.7 L290,144.6 L291,144.4 L292,144.2 L293,144.1 L294,143.9 L295,143.8 L296,143.6 L297,143.4 L298,143.2 L299,143.1 L300,142.9 L301,142.7 L302,142.5 L303,142.3 L304,142.1 L305,141.9 L306,141.7 L307,141.4 L308,141.2 L309,141 L310,140.7 L311,140.4 L312,140.2 L313,139.9 L314,139.6 L315,139.3 L316,139 L317,138.6 L318,138.3 L319,137.9 L320,137.5 L321,137.1 L322,136.7 L323,136.2 L324,135.8 L325,135.3 L326,134.8 L327,134.3 L328,133.7 L329,133.2 L330,132.6 L331,131.9 L332,131.3 L333,130.6 L334,129.8 L335,129 L336,128.2 L337,127.3 L338,126.4 L339,125.4 L340,124.4 L341,123.2 L342,122.1 L343,120.8 L344,119.5 L345,118.2 L346,116.7 L347,115.2 L348,113.6 L349,112 L350,110.2 L351,108.4 L352,106.5 L353,104.5 L354,102.4 L355,100.3 L356,98 L357,95.7 L358,93.3 L359,90.9 L360,88.4 L361,85.8 L362,83.1 L363,80.4 L364,77.6 L365,74.8 L366,72 L367,69.1 L368,66.2 L369,63.2 L370,60.3 L371,57.4 L372,54.5 L373,51.6 L374,48.8 L375,46.1 L376,43.4 L377,40.8 L378,38.4 L379,36 L380,33.8 L381,31.8 L382,29.9 L383,28.2 L384,26.7 L385,25.5 L386,24.4 L387,23.6 L388,23 L389,22.7 L390,22.8 L391,23.1 L392,23.8 L393,24.8 L394,26.2 L395,27.8 L396,29.8 L397,32.1 L398,34.6 L399,37.5 L400,40.6 L401,44 L402,47.6 L403,52.6 L404,59.4 L405,66.2 L406,72 L407,76.8 L408,81 L409,84.9 L410,88.8 L411,92.6 L412,96.4 L413,100.1 L414,103.6 L415,107.1 L416,110.5 L417,113.7 L418,116.8 L419,119.8 L420,122.7 L421,125.4 L422,128 L423,130.5 L424,132.8 L425,135 L426,137.1 L427,139 L428,140.8 L429,142.5 L430,144.1 L431,145.6 L432,146.9 L433,148.2 L434,149.4 L435,150.4 L436,151.4 L437,152.3 L438,153.2 L439,153.9 L440,154.6 L441,155.3 L442,155.9 L443,156.4 L444,156.9 L445,157.3 L446,157.7 L447,158.1 L448,158.4 L449,158.7 L450,159 L451,159.3 L452,159.5 L453,159.7 L454,159.9 L455,160.1 L456,160.3 L457,160.5 L458,160.6 L459,160.7 L460,160.9 L461,161 L462,161.1 L463,161.2 L464,161.3 L465,161.4 L466,161.5 L467,161.6 L468,161.6 L469,161.7 L470,161.8 L471,161.8 L472,161.9 L473,162 L474,162 L475,162.1 L476,162.1 L477,162.2 L478,162.2 L479,162.3 L480,162.3 L481,162.4 L482,162.4 L483,162.5 L484,162.5 L485,162.6 L486,162.6 L487,162.6 L488,162.7 L489,162.7 L490,162.7 L491,162.8 L492,162.8 L493,162.8 L494,162.9 L495,162.9 L496,162.9 L497,162.9 L498,163 L499,163 L500,163 L501,163.1 L502,163.1 L503,163.1 L504,163.1 L505,163.1 L506,163.2 L507,163.2 L508,163.2 L509,163.2 L510,163.2 L511,163.3 L512,163.3 L513,163.3 L514,163.3 L515,163.3 L516,163.4 L517,163.4 L518,163.4 L519,163.4 L520,163.4 L521,163.4 L522,163.5 L523,163.5 L524,163.5 L525,163.5 L526,163.5 L527,163.5 L528,163.5 L529,163.5 L530,163.6 L531,163.6 L532,163.6 L533,163.6 L534,163.6 L535,163.6 L536,163.6 L537,163.6 L538,163.6 L539,163.7 L540,163.7 L541,163.7 L542,163.7 L543,163.7 L544,163.7 L545,163.7" fill="none" stroke="url(#eA1)" stroke-width="1.9"/>
<path d="M38,153.7 L41.5,152.7 L45,153.9 L48.5,152.8 L52,153.5 L55.5,152.3 L59,153.3 L62.5,153.8 L66,152.7 L69.5,153.4 L73,152.3 L76.5,153.6 L80,153 L83.5,152.4 L87,153.5 L90.5,152.7 L94,153.2 L97.5,152.4 L101,153.1 L104.5,152.7 L108,153 L111.5,152.4 L115,152.9 L118.5,152.6 L122,153.3 L125.5,152.3 L129,153.5 L132.5,152.4" fill="none" stroke="url(#gRawA)" stroke-width="2.3"/>
</g>
<g clip-path="url(#cA2)">
<path d="M38,334.6 L39,334.6 L40,334.6 L41,334.6 L42,334.6 L43,334.6 L44,334.6 L45,334.6 L46,334.6 L47,334.6 L48,334.6 L49,334.6 L50,334.6 L51,334.6 L52,334.6 L53,334.6 L54,334.6 L55,334.6 L56,334.6 L57,334.6 L58,334.6 L59,334.6 L60,334.6 L61,334.6 L62,334.6 L63,334.6 L64,334.6 L65,334.6 L66,334.6 L67,334.6 L68,334.6 L69,334.6 L70,334.6 L71,334.5 L72,334.5 L73,334.5 L74,334.5 L75,334.5 L76,334.5 L77,334.5 L78,334.5 L79,334.5 L80,334.5 L81,334.5 L82,334.5 L83,334.5 L84,334.5 L85,334.5 L86,334.5 L87,334.5 L88,334.5 L89,334.5 L90,334.5 L91,334.5 L92,334.5 L93,334.5 L94,334.5 L95,334.5 L96,334.5 L97,334.4 L98,334.4 L99,334.4 L100,334.4 L101,334.4 L102,334.4 L103,334.4 L104,334.4 L105,334.4 L106,334.4 L107,334.4 L108,334.4 L109,334.4 L110,334.4 L111,334.4 L112,334.4 L113,334.4 L114,334.4 L115,334.4 L116,334.4 L117,334.3 L118,334.3 L119,334.3 L120,334.3 L121,334.3 L122,334.3 L123,334.3 L124,334.3 L125,334.3 L126,334.3 L127,334.3 L128,334.3 L129,334.3 L130,334.3 L131,334.3 L132,334.3 L133,334.3 L134,334.2 L135,334.2 L136,334.2 L137,334.2 L138,334.2 L139,334.2 L140,334.2 L141,334.2 L142,334.2 L143,334.2 L144,334.2 L145,334.2 L146,334.2 L147,334.2 L148,334.1 L149,334.1 L150,334.1 L151,334.1 L152,334.1 L153,334.1 L154,334.1 L155,334.1 L156,334.1 L157,334.1 L158,334.1 L159,334 L160,334 L161,334 L162,334 L163,334 L164,334 L165,334 L166,334 L167,334 L168,334 L169,334 L170,333.9 L171,333.9 L172,333.9 L173,333.9 L174,333.9 L175,333.9 L176,333.9 L177,333.9 L178,333.8 L179,333.8 L180,333.8 L181,333.8 L182,333.8 L183,333.8 L184,333.8 L185,333.8 L186,333.7 L187,333.7 L188,333.7 L189,333.7 L190,333.7 L191,333.7 L192,333.7 L193,333.6 L194,333.6 L195,333.6 L196,333.6 L197,333.6 L198,333.6 L199,333.6 L200,333.5 L201,333.5 L202,333.5 L203,333.5 L204,333.5 L205,333.4 L206,333.4 L207,333.4 L208,333.4 L209,333.4 L210,333.4 L211,333.3 L212,333.3 L213,333.3 L214,333.3 L215,333.3 L216,333.2 L217,333.2 L218,333.2 L219,333.2 L220,333.1 L221,333.1 L222,333.1 L223,333.1 L224,333 L225,333 L226,333 L227,333 L228,332.9 L229,332.9 L230,332.9 L231,332.9 L232,332.8 L233,332.8 L234,332.8 L235,332.7 L236,332.7 L237,332.7 L238,332.6 L239,332.6 L240,332.6 L241,332.5 L242,332.5 L243,332.5 L244,332.4 L245,332.4 L246,332.4 L247,332.3 L248,332.3 L249,332.2 L250,332.2 L251,332.1 L252,332.1 L253,332.1 L254,332 L255,332 L256,331.9 L257,331.9 L258,331.8 L259,331.8 L260,331.7 L261,331.7 L262,331.6 L263,331.6 L264,331.5 L265,331.4 L266,331.4 L267,331.3 L268,331.3 L269,331.2 L270,331.1 L271,331 L272,331 L273,330.9 L274,330.8 L275,330.7 L276,330.7 L277,330.6 L278,330.5 L279,330.4 L280,330.3 L281,330.2 L282,330.1 L283,330 L284,329.9 L285,329.8 L286,329.7 L287,329.6 L288,329.4 L289,329.3 L290,329.2 L291,329 L292,328.9 L293,328.7 L294,328.6 L295,328.4 L296,328.2 L297,328.1 L298,327.9 L299,327.7 L300,327.5 L301,327.3 L302,327 L303,326.8 L304,326.5 L305,326.3 L306,326 L307,325.7 L308,325.4 L309,325.1 L310,324.8 L311,324.5 L312,324.1 L313,323.7 L314,323.3 L315,322.9 L316,322.5 L317,322.1 L318,321.6 L319,321.1 L320,320.6 L321,320.1 L322,319.5 L323,319 L324,318.4 L325,317.8 L326,317.1 L327,316.5 L328,315.8 L329,315.1 L330,314.3 L331,313.6 L332,312.8 L333,312 L334,311.1 L335,310.3 L336,309.4 L337,308.5 L338,307.5 L339,306.6 L340,305.6 L341,304.6 L342,303.5 L343,302.5 L344,301.4 L345,300.3 L346,299.2 L347,298 L348,296.9 L349,295.7 L350,294.6 L351,293.4 L352,292.2 L353,291 L354,289.8 L355,288.7 L356,287.5 L357,286.3 L358,285.2 L359,284.1 L360,283 L361,282 L362,280.9 L363,280 L364,279 L365,278.2 L366,277.4 L367,276.7 L368,276 L369,275.4 L370,274.9 L371,274.5 L372,274.2 L373,274 L374,273.9 L375,273.9 L376,274 L377,274.3 L378,274.7 L379,275.3 L380,276 L381,276.9 L382,278 L383,279.2 L384,280.5 L385,282 L386,283.6 L387,285.3 L388,287.1 L389,288.9 L390,290.9 L391,292.9 L392,295 L393,297 L394,299.2 L395,301.3 L396,303.4 L397,305.6 L398,307.7 L399,309.8 L400,311.8 L401,313.8 L402,315.8 L403,317.7 L404,319.5 L405,321.3 L406,322.9 L407,324.6 L408,326.1 L409,327.6 L410,329 L411,330.3 L412,331.5 L413,332.7 L414,333.8 L415,334.8 L416,335.7 L417,336.6 L418,337.4 L419,338.1 L420,338.8 L421,339.4 L422,340 L423,340.5 L424,341 L425,341.4 L426,341.8 L427,342.1 L428,342.5 L429,342.7 L430,343 L431,343.2 L432,343.4 L433,343.6 L434,343.8 L435,343.9 L436,344 L437,344.1 L438,344.2 L439,344.3 L440,344.4 L441,344.5 L441,344.7 L440,344.7 L437,344.7 L434,344.6 L431,344.5 L428,344.4 L425,344.3 L422,344.2 L419,344.1 L416,343.9 L413,343.7 L410,343.6 L407,343.4 L404,343.2 L401,342.9 L398,342.7 L395,342.4 L392,342.1 L389,341.8 L386,341.5 L383,341.1 L380,340.8 L377,340.4 L374,340.1 L371,339.7 L368,339.4 L365,339 L362,338.7 L359,338.4 L356,338.1 L353,337.8 L350,337.5 L347,337.3 L344,337 L341,336.8 L338,336.6 L335,336.5 L332,336.3 L329,336.2 L326,336 L323,335.9 L320,335.8 L317,335.7 L314,335.6 L311,335.6 L308,335.5 L305,335.5 L302,335.4 L299,335.4 L296,335.3 L293,335.3 L290,335.3 L287,335.2 L284,335.2 L281,335.2 L278,335.2 L275,335.2 L272,335.2 L269,335.1 L266,335.1 L263,335.1 L260,335.1 L257,335.1 L254,335.1 L251,335.1 L248,335.1 L245,335.1 L242,335.1 L239,335.1 L236,335.1 L233,335.1 L230,335.1 L227,335.1 L224,335.1 L221,335.1 L218,335.1 L215,335.1 L212,335.1 L209,335.1 L206,335.1 L203,335.1 L200,335.1 L197,335.1 L194,335.1 L191,335.1 L188,335.1 L185,335.1 L182,335.1 L179,335.1 L176,335.1 L173,335.1 L170,335.1 L167,335.1 L164,335.1 L161,335.1 L158,335.1 L155,335.1 L152,335.1 L149,335.1 L146,335.1 L143,335.1 L140,335.1 L137,335.1 L134,335.1 L131,335.1 L128,335.1 L125,335.1 L122,335.1 L119,335.1 L116,335.1 L113,335.1 L110,335.1 L107,335.1 L104,335.1 L101,335.1 L98,335.1 L95,335.1 L92,335.1 L89,335.1 L86,335.1 L83,335.1 L80,335.1 L77,335.1 L74,335.1 L71,335.1 L68,335.1 L65,335.1 L62,335.1 L59,335.1 L56,335.1 L53,335.1 L50,335.1 L47,335.1 L44,335.1 L41,335.1 L38,335.1 Z" fill="url(#gG)"/>
<path d="M116,334.8 L117,334.8 L118,334.8 L119,334.8 L120,334.8 L121,334.8 L122,334.8 L123,334.8 L124,334.8 L125,334.8 L126,334.8 L127,334.8 L128,334.8 L129,334.8 L130,334.8 L131,334.8 L132,334.8 L133,334.8 L134,334.8 L135,334.8 L136,334.8 L137,334.8 L138,334.8 L139,334.8 L140,334.8 L141,334.8 L142,334.8 L143,334.8 L144,334.8 L145,334.8 L146,334.8 L147,334.8 L148,334.8 L149,334.8 L150,334.8 L151,334.7 L152,334.7 L153,334.7 L154,334.7 L155,334.7 L156,334.7 L157,334.7 L158,334.7 L159,334.7 L160,334.7 L161,334.7 L162,334.7 L163,334.7 L164,334.7 L165,334.7 L166,334.7 L167,334.7 L168,334.7 L169,334.7 L170,334.7 L171,334.7 L172,334.7 L173,334.7 L174,334.7 L175,334.7 L176,334.7 L177,334.7 L178,334.7 L179,334.7 L180,334.7 L181,334.7 L182,334.6 L183,334.6 L184,334.6 L185,334.6 L186,334.6 L187,334.6 L188,334.6 L189,334.6 L190,334.6 L191,334.6 L192,334.6 L193,334.6 L194,334.6 L195,334.6 L196,334.6 L197,334.6 L198,334.6 L199,334.6 L200,334.6 L201,334.6 L202,334.6 L203,334.6 L204,334.5 L205,334.5 L206,334.5 L207,334.5 L208,334.5 L209,334.5 L210,334.5 L211,334.5 L212,334.5 L213,334.5 L214,334.5 L215,334.5 L216,334.5 L217,334.5 L218,334.5 L219,334.5 L220,334.4 L221,334.4 L222,334.4 L223,334.4 L224,334.4 L225,334.4 L226,334.4 L227,334.4 L228,334.4 L229,334.4 L230,334.4 L231,334.4 L232,334.4 L233,334.4 L234,334.3 L235,334.3 L236,334.3 L237,334.3 L238,334.3 L239,334.3 L240,334.3 L241,334.3 L242,334.3 L243,334.3 L244,334.3 L245,334.2 L246,334.2 L247,334.2 L248,334.2 L249,334.2 L250,334.2 L251,334.2 L252,334.2 L253,334.2 L254,334.1 L255,334.1 L256,334.1 L257,334.1 L258,334.1 L259,334.1 L260,334.1 L261,334.1 L262,334 L263,334 L264,334 L265,334 L266,334 L267,334 L268,334 L269,333.9 L270,333.9 L271,333.9 L272,333.9 L273,333.9 L274,333.9 L275,333.8 L276,333.8 L277,333.8 L278,333.8 L279,333.8 L280,333.8 L281,333.7 L282,333.7 L283,333.7 L284,333.7 L285,333.7 L286,333.6 L287,333.6 L288,333.6 L289,333.6 L290,333.5 L291,333.5 L292,333.5 L293,333.5 L294,333.4 L295,333.4 L296,333.4 L297,333.4 L298,333.3 L299,333.3 L300,333.3 L301,333.3 L302,333.2 L303,333.2 L304,333.2 L305,333.1 L306,333.1 L307,333.1 L308,333 L309,333 L310,333 L311,332.9 L312,332.9 L313,332.9 L314,332.8 L315,332.8 L316,332.7 L317,332.7 L318,332.6 L319,332.6 L320,332.5 L321,332.5 L322,332.4 L323,332.4 L324,332.3 L325,332.2 L326,332.2 L327,332.1 L328,332 L329,331.9 L330,331.9 L331,331.8 L332,331.7 L333,331.6 L334,331.4 L335,331.3 L336,331.2 L337,331 L338,330.9 L339,330.7 L340,330.5 L341,330.3 L342,330 L343,329.8 L344,329.5 L345,329.2 L346,328.8 L347,328.4 L348,328 L349,327.5 L350,327 L351,326.5 L352,325.8 L353,325.2 L354,324.4 L355,323.6 L356,322.7 L357,321.8 L358,320.8 L359,319.6 L360,318.4 L361,317.1 L362,315.8 L363,314.3 L364,312.7 L365,311 L366,309.2 L367,307.3 L368,305.3 L369,303.2 L370,301 L371,298.7 L372,296.4 L373,293.9 L374,291.4 L375,288.8 L376,286.1 L377,283.4 L378,280.6 L379,277.9 L380,275.1 L381,272.4 L382,269.7 L383,267 L384,264.5 L385,262.1 L386,259.8 L387,257.7 L388,255.7 L389,254.1 L390,252.7 L391,251.5 L392,250.7 L393,250.3 L394,250.1 L395,250.3 L396,250.9 L397,251.9 L398,253.2 L399,254.9 L400,256.8 L401,259 L402,261.5 L403,264.1 L404,266.9 L405,269.9 L406,272.8 L407,275.9 L408,279 L409,282 L410,285.1 L411,288.1 L412,291.1 L413,294 L414,296.8 L415,299.5 L416,302.1 L417,304.7 L418,307.1 L419,309.4 L420,311.6 L421,313.6 L422,315.6 L423,317.5 L424,319.2 L425,320.9 L426,322.4 L427,323.8 L428,325.2 L429,326.4 L430,327.6 L431,328.6 L432,329.6 L433,330.5 L434,331.4 L435,332.2 L436,332.9 L437,333.6 L438,334.2 L439,334.7 L440,335.3 L441,335.7 L442,336.2 L443,336.6 L444,337 L445,337.3 L446,337.7 L447,338 L448,338.3 L449,338.5 L450,338.8 L451,339 L452,339.2 L453,339.4 L454,339.6 L455,339.8 L456,340 L457,340.1 L458,340.3 L459,340.4 L460,340.6 L461,340.7 L462,340.8 L463,341 L464,341.1 L465,341.2 L466,341.3 L467,341.4 L468,341.5 L469,341.6 L470,341.7 L471,341.8 L472,341.8 L473,341.9 L474,342 L475,342.1 L476,342.2 L477,342.2 L478,342.3 L479,342.4 L480,342.4 L481,342.5 L482,342.5 L483,342.6 L484,342.7 L485,342.7 L486,342.8 L487,342.8 L488,342.9 L489,342.9 L490,343 L491,343 L492,343 L493,343.1 L494,343.1 L495,343.2 L496,343.2 L497,343.2 L498,343.3 L499,343.3 L500,343.4 L501,343.4 L502,343.4 L503,343.5 L504,343.5 L505,343.5 L506,343.5 L507,343.6 L508,343.6 L509,343.6 L510,343.7 L511,343.7 L512,343.7 L513,343.7 L514,343.8 L515,343.8 L516,343.8 L517,343.8 L518,343.8 L519,343.9 L520,343.9 L521,343.9 L522,343.9 L523,343.9 L524,344 L525,344 L526,344 L527,344 L528,344 L529,344 L530,344.1 L531,344.1 L532,344.1 L533,344.1 L534,344.1 L535,344.1 L536,344.2 L537,344.2 L538,344.2 L539,344.2 L540,344.2 L541,344.2 L542,344.2 L543,344.3 L544,344.3 L545,344.3 L545,345.2 L545,345.2 L542,345.2 L539,345.2 L536,345.2 L533,345.2 L530,345.2 L527,345.2 L524,345.2 L521,345.2 L518,345.2 L515,345.2 L512,345.2 L509,345.2 L506,345.2 L503,345.2 L500,345.2 L497,345.1 L494,345.1 L491,345.1 L488,345.1 L485,345.1 L482,345.1 L479,345.1 L476,345.1 L473,345.1 L470,345.1 L467,345 L464,345 L461,345 L458,345 L455,345 L452,344.9 L449,344.9 L446,344.8 L443,344.8 L440,344.7 L437,344.7 L434,344.6 L431,344.5 L428,344.4 L425,344.3 L422,344.2 L419,344.1 L416,343.9 L413,343.7 L410,343.6 L407,343.4 L404,343.2 L401,342.9 L398,342.7 L395,342.4 L392,342.1 L389,341.8 L386,341.5 L383,341.1 L380,340.8 L377,340.4 L374,340.1 L371,339.7 L368,339.4 L365,339 L362,338.7 L359,338.4 L356,338.1 L353,337.8 L350,337.5 L347,337.3 L344,337 L341,336.8 L338,336.6 L335,336.5 L332,336.3 L329,336.2 L326,336 L323,335.9 L320,335.8 L317,335.7 L314,335.6 L311,335.6 L308,335.5 L305,335.5 L302,335.4 L299,335.4 L296,335.3 L293,335.3 L290,335.3 L287,335.2 L284,335.2 L281,335.2 L278,335.2 L275,335.2 L272,335.2 L269,335.1 L266,335.1 L263,335.1 L260,335.1 L257,335.1 L254,335.1 L251,335.1 L248,335.1 L245,335.1 L242,335.1 L239,335.1 L236,335.1 L233,335.1 L230,335.1 L227,335.1 L224,335.1 L221,335.1 L218,335.1 L215,335.1 L212,335.1 L209,335.1 L206,335.1 L203,335.1 L200,335.1 L197,335.1 L194,335.1 L191,335.1 L188,335.1 L185,335.1 L182,335.1 L179,335.1 L176,335.1 L173,335.1 L170,335.1 L167,335.1 L164,335.1 L161,335.1 L158,335.1 L155,335.1 L152,335.1 L149,335.1 L146,335.1 L143,335.1 L140,335.1 L137,335.1 L134,335.1 L131,335.1 L128,335.1 L125,335.1 L122,335.1 L119,335.1 L116,335.1 Z" fill="url(#gC)"/>
<path d="M38,335.1 L40,335.1 L42,335.1 L44,335.1 L46,335.1 L48,335.1 L50,335.1 L52,335.1 L54,335.1 L56,335.1 L58,335.1 L60,335.1 L62,335.1 L64,335.1 L66,335.1 L68,335.1 L70,335.1 L72,335.1 L74,335.1 L76,335.1 L78,335.1 L80,335.1 L82,335.1 L84,335.1 L86,335.1 L88,335.1 L90,335.1 L92,335.1 L94,335.1 L96,335.1 L98,335.1 L100,335.1 L102,335.1 L104,335.1 L106,335.1 L108,335.1 L110,335.1 L112,335.1 L114,335.1 L116,335.1 L118,335.1 L120,335.1 L122,335.1 L124,335.1 L126,335.1 L128,335.1 L130,335.1 L132,335.1 L134,335.1 L136,335.1 L138,335.1 L140,335.1 L142,335.1 L144,335.1 L146,335.1 L148,335.1 L150,335.1 L152,335.1 L154,335.1 L156,335.1 L158,335.1 L160,335.1 L162,335.1 L164,335.1 L166,335.1 L168,335.1 L170,335.1 L172,335.1 L174,335.1 L176,335.1 L178,335.1 L180,335.1 L182,335.1 L184,335.1 L186,335.1 L188,335.1 L190,335.1 L192,335.1 L194,335.1 L196,335.1 L198,335.1 L200,335.1 L202,335.1 L204,335.1 L206,335.1 L208,335.1 L210,335.1 L212,335.1 L214,335.1 L216,335.1 L218,335.1 L220,335.1 L222,335.1 L224,335.1 L226,335.1 L228,335.1 L230,335.1 L232,335.1 L234,335.1 L236,335.1 L238,335.1 L240,335.1 L242,335.1 L244,335.1 L246,335.1 L248,335.1 L250,335.1 L252,335.1 L254,335.1 L256,335.1 L258,335.1 L260,335.1 L262,335.1 L264,335.1 L266,335.1 L268,335.1 L270,335.2 L272,335.2 L274,335.2 L276,335.2 L278,335.2 L280,335.2 L282,335.2 L284,335.2 L286,335.2 L288,335.2 L290,335.3 L292,335.3 L294,335.3 L296,335.3 L298,335.4 L300,335.4 L302,335.4 L304,335.4 L306,335.5 L308,335.5 L310,335.5 L312,335.6 L314,335.6 L316,335.7 L318,335.7 L320,335.8 L322,335.9 L324,335.9 L326,336 L328,336.1 L330,336.2 L332,336.3 L334,336.4 L336,336.5 L338,336.6 L340,336.8 L342,336.9 L344,337 L346,337.2 L348,337.4 L350,337.5 L352,337.7 L354,337.9 L356,338.1 L358,338.3 L360,338.5 L362,338.7 L364,338.9 L366,339.1 L368,339.4 L370,339.6 L372,339.8 L374,340.1 L376,340.3 L378,340.5 L380,340.8 L382,341 L384,341.2 L386,341.5 L388,341.7 L390,341.9 L392,342.1 L394,342.3 L396,342.5 L398,342.7 L400,342.8 L402,343 L404,343.2 L406,343.3 L408,343.4 L410,343.6 L412,343.7 L414,343.8 L416,343.9 L418,344 L420,344.1 L422,344.2 L424,344.3 L426,344.3 L428,344.4 L430,344.5 L432,344.5 L434,344.6 L436,344.6 L438,344.7 L440,344.7 L442,344.8 L444,344.8 L446,344.8 L448,344.9 L450,344.9 L452,344.9 L454,344.9 L456,345 L458,345 L460,345 L462,345 L464,345 L466,345 L468,345.1 L470,345.1 L472,345.1 L474,345.1 L476,345.1 L478,345.1 L480,345.1 L482,345.1 L484,345.1 L486,345.1 L488,345.1 L490,345.1 L492,345.1 L494,345.1 L496,345.1 L498,345.1 L500,345.2 L502,345.2 L504,345.2 L506,345.2 L508,345.2 L510,345.2 L512,345.2 L514,345.2 L516,345.2 L518,345.2 L520,345.2 L522,345.2 L524,345.2 L526,345.2 L528,345.2 L530,345.2 L532,345.2 L534,345.2 L536,345.2 L538,345.2 L540,345.2 L542,345.2 L544,345.2" fill="none" stroke="#b4b4b4" stroke-width="1.6"/>
<path d="M38,334.5 L40,334.5 L42,334.5 L44,334.5 L46,334.5 L48,334.5 L50,334.5 L52,334.5 L54,334.5 L56,334.5 L58,334.5 L60,334.5 L62,334.5 L64,334.5 L66,334.5 L68,334.5 L70,334.5 L72,334.5 L74,334.5 L76,334.5 L78,334.5 L80,334.5 L82,334.5 L84,334.5 L86,334.5 L88,334.5 L90,334.5 L92,334.5 L94,334.5 L96,334.5 L98,334.5 L100,334.5 L102,334.5 L104,334.5 L106,334.5 L108,334.5 L110,334.5 L112,334.5 L114,334.5 L116,334.5 L118,334.5 L120,334.5 L122,334.5 L124,334.5 L126,334.5 L128,334.5 L130,334.5 L132,334.5 L134,334.5 L136,334.5 L138,334.5 L140,334.5 L142,334.5 L144,334.5 L146,334.5 L148,334.5 L150,334.5 L152,334.5 L154,334.5 L156,334.5 L158,334.5 L160,334.5 L162,334.5 L164,334.5 L166,334.5 L168,334.5 L170,334.5 L172,334.5 L174,334.5 L176,334.5 L178,334.5 L180,334.5 L182,334.5 L184,334.5 L186,334.5 L188,334.5 L190,334.5 L192,334.5 L194,334.5 L196,334.5 L198,334.5 L200,334.5 L202,334.5 L204,334.5 L206,334.5 L208,334.5 L210,334.5 L212,334.5 L214,334.5 L216,334.5 L218,334.5 L220,334.5 L222,334.5 L224,334.5 L226,334.5 L228,334.5 L230,334.5 L232,334.5 L234,334.5 L236,334.5 L238,334.5 L240,334.5 L242,334.5 L244,334.5 L246,334.5 L248,334.5 L250,334.5 L252,334.5 L254,334.5 L256,334.5 L258,334.5 L260,334.5 L262,334.5 L264,334.5 L266,334.5 L268,334.5 L270,334.6 L272,334.6 L274,334.6 L276,334.6 L278,334.6 L280,334.6 L282,334.6 L284,334.6 L286,334.6 L288,334.6 L290,334.7 L292,334.7 L294,334.7 L296,334.7 L298,334.8 L300,334.8 L302,334.8 L304,334.8 L306,334.9 L308,334.9 L310,334.9 L312,335 L314,335 L316,335.1 L318,335.1 L320,335.2 L322,335.3 L324,335.3 L326,335.4 L328,335.5 L330,335.6" fill="none" stroke="#7c7cec" stroke-width="1.1"/>
<path d="M130,334.3 L131,334.3 L132,334.3 L133,334.3 L134,334.2 L135,334.2 L136,334.2 L137,334.2 L138,334.2 L139,334.2 L140,334.2 L141,334.2 L142,334.2 L143,334.2 L144,334.2 L145,334.2 L146,334.2 L147,334.2 L148,334.1 L149,334.1 L150,334.1 L151,334.1 L152,334.1 L153,334.1 L154,334.1 L155,334.1 L156,334.1 L157,334.1 L158,334.1 L159,334 L160,334 L161,334 L162,334 L163,334 L164,334 L165,334 L166,334 L167,334 L168,334 L169,334 L170,333.9 L171,333.9 L172,333.9 L173,333.9 L174,333.9 L175,333.9 L176,333.9 L177,333.9 L178,333.8 L179,333.8 L180,333.8 L181,333.8 L182,333.8 L183,333.8 L184,333.8 L185,333.8 L186,333.7 L187,333.7 L188,333.7 L189,333.7 L190,333.7 L191,333.7 L192,333.7 L193,333.6 L194,333.6 L195,333.6 L196,333.6 L197,333.6 L198,333.6 L199,333.6 L200,333.5 L201,333.5 L202,333.5 L203,333.5 L204,333.5 L205,333.4 L206,333.4 L207,333.4 L208,333.4 L209,333.4 L210,333.4 L211,333.3 L212,333.3 L213,333.3 L214,333.3 L215,333.3 L216,333.2 L217,333.2 L218,333.2 L219,333.2 L220,333.1 L221,333.1 L222,333.1 L223,333.1 L224,333 L225,333 L226,333 L227,333 L228,332.9 L229,332.9 L230,332.9 L231,332.9 L232,332.8 L233,332.8 L234,332.8 L235,332.7 L236,332.7 L237,332.7 L238,332.6 L239,332.6 L240,332.6 L241,332.5 L242,332.5 L243,332.5 L244,332.4 L245,332.4 L246,332.4 L247,332.3 L248,332.3 L249,332.2 L250,332.2 L251,332.1 L252,332.1 L253,332.1 L254,332 L255,332 L256,331.9 L257,331.9 L258,331.8 L259,331.8 L260,331.7 L261,331.7 L262,331.6 L263,331.6 L264,331.5 L265,331.4 L266,331.4 L267,331.3 L268,331.3 L269,331.2 L270,331.1 L271,331 L272,331 L273,330.9 L274,330.8 L275,330.7 L276,330.7 L277,330.6 L278,330.5 L279,330.4 L280,330.3 L281,330.2 L282,330.1 L283,330 L284,329.9 L285,329.8 L286,329.7 L287,329.6 L288,329.4 L289,329.3 L290,329.2 L291,329 L292,328.9 L293,328.7 L294,328.6 L295,328.4 L296,328.2 L297,328.1 L298,327.9 L299,327.7 L300,327.5 L301,327.3 L302,327 L303,326.8 L304,326.5 L305,326.3 L306,326 L307,325.7 L308,325.4 L309,325.1 L310,324.8 L311,324.5 L312,324.1 L313,323.7 L314,323.3 L315,322.9 L316,322.5 L317,322.1 L318,321.6 L319,321.1 L320,320.6 L321,320.1 L322,319.5 L323,319 L324,318.4 L325,317.8 L326,317.1 L327,316.5 L328,315.8 L329,315.1 L330,314.3 L331,313.6 L332,312.8 L333,312 L334,311.1 L335,310.3 L336,309.4 L337,308.5 L338,307.5 L339,306.6 L340,305.6 L341,304.6 L342,303.5 L343,302.5 L344,301.4 L345,300.3 L346,299.2 L347,298 L348,296.9 L349,295.7 L350,294.6 L351,293.4 L352,292.2 L353,291 L354,289.8 L355,288.7 L356,287.5 L357,286.3 L358,285.2 L359,284.1 L360,283 L361,282 L362,280.9 L363,280 L364,279 L365,278.2 L366,277.4 L367,276.7 L368,276 L369,275.4 L370,274.9 L371,274.5 L372,274.2 L373,274 L374,273.9 L375,273.9 L376,274 L377,274.3 L378,274.7 L379,275.3 L380,276 L381,276.9 L382,278 L383,279.2 L384,280.5 L385,282 L386,283.6 L387,285.3 L388,287.1 L389,288.9 L390,290.9 L391,292.9 L392,295 L393,297 L394,299.2 L395,301.3 L396,303.4 L397,305.6 L398,307.7 L399,309.8 L400,311.8 L401,313.8 L402,315.8 L403,317.7 L404,319.5 L405,321.3 L406,322.9 L407,324.6 L408,326.1 L409,327.6 L410,329 L411,330.3 L412,331.5 L413,332.7 L414,333.8 L415,334.8 L416,335.7 L417,336.6 L418,337.4 L419,338.1 L420,338.8 L421,339.4 L422,340 L423,340.5 L424,341 L425,341.4 L426,341.8 L427,342.1 L428,342.5 L429,342.7 L430,343 L431,343.2 L432,343.4 L433,343.6 L434,343.8" fill="none" stroke="#8ee88e" stroke-width="1.2"/>
<path d="M240,334.3 L241,334.3 L242,334.3 L243,334.3 L244,334.3 L245,334.2 L246,334.2 L247,334.2 L248,334.2 L249,334.2 L250,334.2 L251,334.2 L252,334.2 L253,334.2 L254,334.1 L255,334.1 L256,334.1 L257,334.1 L258,334.1 L259,334.1 L260,334.1 L261,334.1 L262,334 L263,334 L264,334 L265,334 L266,334 L267,334 L268,334 L269,333.9 L270,333.9 L271,333.9 L272,333.9 L273,333.9 L274,333.9 L275,333.8 L276,333.8 L277,333.8 L278,333.8 L279,333.8 L280,333.8 L281,333.7 L282,333.7 L283,333.7 L284,333.7 L285,333.7 L286,333.6 L287,333.6 L288,333.6 L289,333.6 L290,333.5 L291,333.5 L292,333.5 L293,333.5 L294,333.4 L295,333.4 L296,333.4 L297,333.4 L298,333.3 L299,333.3 L300,333.3 L301,333.3 L302,333.2 L303,333.2 L304,333.2 L305,333.1 L306,333.1 L307,333.1 L308,333 L309,333 L310,333 L311,332.9 L312,332.9 L313,332.9 L314,332.8 L315,332.8 L316,332.7 L317,332.7 L318,332.6 L319,332.6 L320,332.5 L321,332.5 L322,332.4 L323,332.4 L324,332.3 L325,332.2 L326,332.2 L327,332.1 L328,332 L329,331.9 L330,331.9 L331,331.8 L332,331.7 L333,331.6 L334,331.4 L335,331.3 L336,331.2 L337,331 L338,330.9 L339,330.7 L340,330.5 L341,330.3 L342,330 L343,329.8 L344,329.5 L345,329.2 L346,328.8 L347,328.4 L348,328 L349,327.5 L350,327 L351,326.5 L352,325.8 L353,325.2 L354,324.4 L355,323.6 L356,322.7 L357,321.8 L358,320.8 L359,319.6 L360,318.4 L361,317.1 L362,315.8 L363,314.3 L364,312.7 L365,311 L366,309.2 L367,307.3 L368,305.3 L369,303.2 L370,301 L371,298.7 L372,296.4 L373,293.9 L374,291.4 L375,288.8 L376,286.1 L377,283.4 L378,280.6 L379,277.9 L380,275.1 L381,272.4 L382,269.7 L383,267 L384,264.5 L385,262.1 L386,259.8 L387,257.7 L388,255.7 L389,254.1 L390,252.7 L391,251.5 L392,250.7 L393,250.3 L394,250.1 L395,250.3 L396,250.9 L397,251.9 L398,253.2 L399,254.9 L400,256.8 L401,259 L402,261.5 L403,264.1 L404,266.9 L405,269.9 L406,272.8 L407,275.9 L408,279 L409,282 L410,285.1 L411,288.1 L412,291.1 L413,294 L414,296.8 L415,299.5 L416,302.1 L417,304.7 L418,307.1 L419,309.4 L420,311.6 L421,313.6 L422,315.6 L423,317.5 L424,319.2 L425,320.9 L426,322.4 L427,323.8 L428,325.2 L429,326.4 L430,327.6 L431,328.6 L432,329.6 L433,330.5 L434,331.4 L435,332.2 L436,332.9 L437,333.6 L438,334.2 L439,334.7 L440,335.3 L441,335.7 L442,336.2 L443,336.6 L444,337 L445,337.3 L446,337.7 L447,338 L448,338.3 L449,338.5 L450,338.8 L451,339 L452,339.2 L453,339.4 L454,339.6 L455,339.8 L456,340 L457,340.1 L458,340.3 L459,340.4 L460,340.6 L461,340.7 L462,340.8 L463,341 L464,341.1 L465,341.2 L466,341.3 L467,341.4 L468,341.5 L469,341.6 L470,341.7 L471,341.8 L472,341.8 L473,341.9 L474,342 L475,342.1 L476,342.2 L477,342.2 L478,342.3 L479,342.4 L480,342.4 L481,342.5 L482,342.5 L483,342.6 L484,342.7 L485,342.7 L486,342.8 L487,342.8 L488,342.9 L489,342.9 L490,343 L491,343 L492,343 L493,343.1 L494,343.1 L495,343.2 L496,343.2 L497,343.2 L498,343.3 L499,343.3 L500,343.4 L501,343.4 L502,343.4 L503,343.5 L504,343.5 L505,343.5 L506,343.5 L507,343.6 L508,343.6 L509,343.6 L510,343.7 L511,343.7 L512,343.7 L513,343.7 L514,343.8 L515,343.8 L516,343.8 L517,343.8 L518,343.8 L519,343.9 L520,343.9 L521,343.9 L522,343.9 L523,343.9 L524,344 L525,344 L526,344 L527,344 L528,344 L529,344 L530,344.1 L531,344.1 L532,344.1 L533,344.1 L534,344.1 L535,344.1 L536,344.2 L537,344.2 L538,344.2 L539,344.2 L540,344.2 L541,344.2 L542,344.2 L543,344.3 L544,344.3 L545,344.3" fill="none" stroke="#9eeeee" stroke-width="1.2"/>
<path d="M38,334.4 L39,334.4 L40,334.4 L41,334.4 L42,334.4 L43,334.4 L44,334.4 L45,334.4 L46,334.4 L47,334.4 L48,334.4 L49,334.4 L50,334.4 L51,334.4 L52,334.4 L53,334.4 L54,334.4 L55,334.4 L56,334.4 L57,334.4 L58,334.4 L59,334.4 L60,334.4 L61,334.3 L62,334.3 L63,334.3 L64,334.3 L65,334.3 L66,334.3 L67,334.3 L68,334.3 L69,334.3 L70,334.3 L71,334.3 L72,334.3 L73,334.3 L74,334.3 L75,334.3 L76,334.3 L77,334.3 L78,334.3 L79,334.3 L80,334.3 L81,334.2 L82,334.2 L83,334.2 L84,334.2 L85,334.2 L86,334.2 L87,334.2 L88,334.2 L89,334.2 L90,334.2 L91,334.2 L92,334.2 L93,334.2 L94,334.2 L95,334.2 L96,334.2 L97,334.2 L98,334.1 L99,334.1 L100,334.1 L101,334.1 L102,334.1 L103,334.1 L104,334.1 L105,334.1 L106,334.1 L107,334.1 L108,334.1 L109,334.1 L110,334.1 L111,334.1 L112,334 L113,334 L114,334 L115,334 L116,334 L117,334 L118,334 L119,334 L120,334 L121,334 L122,334 L123,334 L124,334 L125,333.9 L126,333.9 L127,333.9 L128,333.9 L129,333.9 L130,333.9 L131,333.9 L132,333.9 L133,333.9 L134,333.9 L135,333.8 L136,333.8 L137,333.8 L138,333.8 L139,333.8 L140,333.8 L141,333.8 L142,333.8 L143,333.8 L144,333.8 L145,333.7 L146,333.7 L147,333.7 L148,333.7 L149,333.7 L150,333.7 L151,333.7 L152,333.7 L153,333.7 L154,333.6 L155,333.6 L156,333.6 L157,333.6 L158,333.6 L159,333.6 L160,333.6 L161,333.5 L162,333.5 L163,333.5 L164,333.5 L165,333.5 L166,333.5 L167,333.5 L168,333.4 L169,333.4 L170,333.4 L171,333.4 L172,333.4 L173,333.4 L174,333.4 L175,333.3 L176,333.3 L177,333.3 L178,333.3 L179,333.3 L180,333.3 L181,333.2 L182,333.2 L183,333.2 L184,333.2 L185,333.2 L186,333.1 L187,333.1 L188,333.1 L189,333.1 L190,333.1 L191,333 L192,333 L193,333 L194,333 L195,333 L196,332.9 L197,332.9 L198,332.9 L199,332.9 L200,332.8 L201,332.8 L202,332.8 L203,332.8 L204,332.7 L205,332.7 L206,332.7 L207,332.7 L208,332.6 L209,332.6 L210,332.6 L211,332.5 L212,332.5 L213,332.5 L214,332.5 L215,332.4 L216,332.4 L217,332.4 L218,332.3 L219,332.3 L220,332.3 L221,332.2 L222,332.2 L223,332.2 L224,332.1 L225,332.1 L226,332.1 L227,332 L228,332 L229,331.9 L230,331.9 L231,331.9 L232,331.8 L233,331.8 L234,331.7 L235,331.7 L236,331.6 L237,331.6 L238,331.6 L239,331.5 L240,331.5 L241,331.4 L242,331.4 L243,331.3 L244,331.3 L245,331.2 L246,331.2 L247,331.1 L248,331 L249,331 L250,330.9 L251,330.9 L252,330.8 L253,330.7 L254,330.7 L255,330.6 L256,330.5 L257,330.5 L258,330.4 L259,330.3 L260,330.3 L261,330.2 L262,330.1 L263,330 L264,329.9 L265,329.9 L266,329.8 L267,329.7 L268,329.6 L269,329.5 L270,329.4 L271,329.3 L272,329.2 L273,329.1 L274,329 L275,328.9 L276,328.8 L277,328.7 L278,328.6 L279,328.5 L280,328.4 L281,328.2 L282,328.1 L283,328 L284,327.9 L285,327.7 L286,327.6 L287,327.4 L288,327.3 L289,327.1 L290,327 L291,326.8 L292,326.6 L293,326.5 L294,326.3 L295,326.1 L296,325.9 L297,325.7 L298,325.5 L299,325.3 L300,325 L301,324.8 L302,324.6 L303,324.3 L304,324 L305,323.8 L306,323.5 L307,323.2 L308,322.9 L309,322.6 L310,322.2 L311,321.9 L312,321.5 L313,321.1 L314,320.7 L315,320.3 L316,319.8 L317,319.4 L318,318.9 L319,318.3 L320,317.8 L321,317.2 L322,316.6 L323,316 L324,315.4 L325,314.7 L326,314 L327,313.2 L328,312.4 L329,311.6 L330,310.7 L331,309.8 L332,308.9 L333,307.9 L334,306.8 L335,305.7 L336,304.6 L337,303.4 L338,302.2 L339,300.9 L340,299.5 L341,298.1 L342,296.7 L343,295.2 L344,293.6 L345,292 L346,290.3 L347,288.5 L348,286.7 L349,284.9 L350,282.9 L351,280.9 L352,278.9 L353,276.8 L354,274.7 L355,272.5 L356,270.2 L357,267.9 L358,265.6 L359,263.2 L360,260.8 L361,258.4 L362,255.9 L363,253.4 L364,250.9 L365,248.4 L366,245.8 L367,243.3 L368,240.7 L369,238.2 L370,235.6 L371,233.1 L372,230.6 L373,228 L374,225.5 L375,222.9 L376,220.4 L377,217.9 L378,215.3 L379,212.7 L380,210.1 L381,207.5 L382,205.3 L383,203.5 L384,202 L385,201 L386,200.3 L387,200 L388,200.1 L389,200.5 L390,201.2 L391,202.2 L392,203.5 L393,205.2 L394,207.1 L395,209.3 L396,211.9 L397,214.7 L398,217.9 L399,221.3 L400,225.1 L401,229.1 L402,233.4 L403,237.8 L404,242.4 L405,247 L406,251.7 L407,256.4 L408,261.1 L409,265.7 L410,270.3 L411,274.7 L412,279 L413,283.1 L414,287 L415,290.8 L416,294.4 L417,297.8 L418,301 L419,304 L420,306.8 L421,309.5 L422,312 L423,314.3 L424,316.4 L425,318.5 L426,320.3 L427,322.1 L428,323.7 L429,325.1 L430,326.5 L431,327.7 L432,328.9 L433,330 L434,330.9 L435,331.8 L436,332.6 L437,333.4 L438,334.1 L439,334.7 L440,335.2 L441,335.8 L442,336.3 L443,336.7 L444,337.1 L445,337.5 L446,337.8 L447,338.2 L448,338.4 L449,338.7 L450,339 L451,339.2 L452,339.5 L453,339.7 L454,339.9 L455,340.1 L456,340.2 L457,340.4 L458,340.6 L459,340.7 L460,340.8 L461,341 L462,341.1 L463,341.2 L464,341.4 L465,341.5 L466,341.6 L467,341.7 L468,341.8 L469,341.9 L470,342 L471,342.1 L472,342.1 L473,342.2 L474,342.3 L475,342.4 L476,342.4 L477,342.5 L478,342.6 L479,342.6 L480,342.7 L481,342.8 L482,342.8 L483,342.9 L484,342.9 L485,343 L486,343 L487,343.1 L488,343.1 L489,343.2 L490,343.2 L491,343.3 L492,343.3 L493,343.3 L494,343.4 L495,343.4 L496,343.5 L497,343.5 L498,343.5 L499,343.6 L500,343.6 L501,343.6 L502,343.7 L503,343.7 L504,343.7 L505,343.7 L506,343.8 L507,343.8 L508,343.8 L509,343.8 L510,343.9 L511,343.9 L512,343.9 L513,343.9 L514,344 L515,344 L516,344 L517,344 L518,344 L519,344.1 L520,344.1 L521,344.1 L522,344.1 L523,344.1 L524,344.2 L525,344.2 L526,344.2 L527,344.2 L528,344.2 L529,344.2 L530,344.2 L531,344.3 L532,344.3 L533,344.3 L534,344.3 L535,344.3 L536,344.3 L537,344.3 L538,344.4 L539,344.4 L540,344.4 L541,344.4 L542,344.4 L543,344.4 L544,344.4 L545,344.4" fill="none" stroke="url(#eA2)" stroke-width="1.9"/>
</g>
<g clip-path="url(#cB1)">
<path d="M37,562.2 L38,562.2 L39,562.2 L40,562.2 L41,562.2 L42,562.1 L43,562.1 L44,562.1 L45,562.1 L46,562.1 L47,562.1 L48,562.1 L49,562 L50,562 L51,562 L52,562 L53,562 L54,562 L55,562 L56,561.9 L57,561.9 L58,561.9 L59,561.9 L60,561.9 L61,561.9 L62,561.8 L63,561.8 L64,561.8 L65,561.8 L66,561.8 L67,561.8 L68,561.7 L69,561.7 L70,561.7 L71,561.7 L72,561.7 L73,561.7 L74,561.6 L75,561.6 L76,561.6 L77,561.6 L78,561.6 L79,561.5 L80,561.5 L81,561.5 L82,561.5 L83,561.5 L84,561.4 L85,561.4 L86,561.4 L87,561.4 L88,561.3 L89,561.3 L90,561.3 L91,561.3 L92,561.3 L93,561.2 L94,561.2 L95,561.2 L96,561.2 L97,561.1 L98,561.1 L99,561.1 L100,561.1 L101,561 L102,561 L103,561 L104,561 L105,560.9 L106,560.9 L107,560.9 L108,560.9 L109,560.8 L110,560.8 L111,560.8 L112,560.7 L113,560.7 L114,560.7 L115,560.6 L116,560.6 L117,560.6 L118,560.6 L119,560.5 L120,560.5 L121,560.5 L122,560.4 L123,560.4 L124,560.4 L125,560.3 L126,560.3 L127,560.3 L128,560.2 L129,560.2 L130,560.1 L131,560.1 L132,560.1 L133,560 L134,560 L135,560 L136,559.9 L137,559.9 L138,559.8 L139,559.8 L140,559.8 L141,559.7 L142,559.7 L143,559.6 L144,559.6 L145,559.5 L146,559.5 L147,559.4 L148,559.4 L149,559.4 L150,559.3 L151,559.3 L152,559.2 L153,559.2 L154,559.1 L155,559.1 L156,559 L157,558.9 L158,558.9 L159,558.8 L160,558.8 L161,558.7 L162,558.7 L163,558.6 L164,558.6 L165,558.5 L166,558.4 L167,558.4 L168,558.3 L169,558.2 L170,558.2 L171,558.1 L172,558 L173,558 L174,557.9 L175,557.8 L176,557.7 L177,557.7 L178,557.6 L179,557.5 L180,557.4 L181,557.3 L182,557.3 L183,557.2 L184,557.1 L185,557 L186,556.9 L187,556.8 L188,556.7 L189,556.6 L190,556.5 L191,556.4 L192,556.3 L193,556.2 L194,556.1 L195,556 L196,555.9 L197,555.8 L198,555.6 L199,555.5 L200,555.4 L201,555.2 L202,555.1 L203,555 L204,554.8 L205,554.7 L206,554.5 L207,554.4 L208,554.2 L209,554 L210,553.9 L211,553.7 L212,553.5 L213,553.3 L214,553.1 L215,553 L216,552.7 L217,552.5 L218,552.3 L219,552.1 L220,551.9 L221,551.6 L222,551.4 L223,551.1 L224,550.9 L225,550.6 L226,550.3 L227,550 L228,549.7 L229,549.4 L230,549.1 L231,548.8 L232,548.5 L233,548.1 L234,547.8 L235,547.4 L236,547 L237,546.6 L238,546.2 L239,545.8 L240,545.3 L241,544.9 L242,544.4 L243,544 L244,543.5 L245,543 L246,542.4 L247,541.9 L248,541.3 L249,540.8 L250,540.2 L251,539.6 L252,538.9 L253,538.3 L254,537.6 L255,537 L256,536.3 L257,535.5 L258,534.8 L259,534 L260,533.2 L261,532.4 L262,531.6 L263,530.8 L264,529.9 L265,529 L266,528.1 L267,527.2 L268,526.2 L269,525.2 L270,524.2 L271,523.2 L272,522.1 L273,521.1 L274,520 L275,518.9 L276,517.7 L277,516.5 L278,515.4 L279,514.1 L280,512.9 L281,511.6 L282,510.4 L283,509.1 L284,507.7 L285,506.4 L286,505 L287,503.6 L288,502.2 L289,500.8 L290,499.3 L291,497.9 L292,496.4 L293,494.9 L294,493.3 L295,491.8 L296,490.3 L297,488.7 L298,487.1 L299,485.5 L300,483.9 L301,482.3 L302,480.7 L303,479.1 L304,477.4 L305,475.8 L306,474.2 L307,472.6 L308,470.9 L309,469.3 L310,467.7 L311,466.1 L312,464.5 L313,463 L314,461.4 L315,459.9 L316,458.4 L317,456.9 L318,455.4 L319,454 L320,452.6 L321,451.3 L322,450 L323,448.7 L324,447.5 L325,446.3 L326,445.2 L327,444.2 L328,443.2 L329,442.2 L330,441.4 L331,440.6 L332,439.9 L333,439.2 L334,438.7 L335,438.2 L336,437.8 L337,437.4 L338,437.2 L339,437 L340,436.9 L341,436.9 L342,437.1 L343,437.4 L344,437.9 L345,438.6 L346,439.4 L347,440.4 L348,441.5 L349,442.8 L350,444.3 L351,445.8 L352,447.5 L353,449.4 L354,451.3 L355,453.4 L356,455.6 L357,457.9 L358,460.2 L359,462.7 L360,465.2 L361,467.8 L362,470.4 L363,473.1 L364,475.9 L365,478.7 L366,481.4 L367,484.3 L368,487.1 L369,489.9 L370,492.7 L371,495.5 L372,498.3 L373,501.1 L374,503.8 L375,506.5 L376,509.2 L377,511.8 L378,514.3 L379,516.8 L380,519.3 L381,521.7 L382,524 L383,526.2 L384,528.4 L385,530.5 L386,532.5 L387,534.5 L388,536.3 L389,538.1 L390,539.9 L391,541.5 L392,543.1 L393,544.6 L394,546 L395,547.4 L396,548.7 L397,549.9 L398,551.1 L399,552.2 L400,553.2 L401,554.2 L402,555.1 L403,555.9 L404,556.7 L405,557.5 L406,558.2 L407,558.9 L408,559.5 L409,560 L410,560.6 L411,561 L412,561.5 L413,561.9 L414,562.3 L415,562.7 L416,563 L417,563.3 L418,563.6 L419,563.8 L420,564 L421,564.3 L422,564.4 L423,564.6 L424,564.8 L425,564.9 L426,565.1 L427,565.2 L428,565.3 L429,565.4 L430,565.5 L431,565.6 L432,565.6 L433,565.7 L434,565.8 L435,565.8 L436,565.9 L437,565.9 L438,566 L438,566.2 L436,566.2 L433,566.2 L430,566.2 L427,566.2 L424,566.2 L421,566.1 L418,566.1 L415,566.1 L412,566.1 L409,566.1 L406,566.1 L403,566 L400,566 L397,566 L394,566 L391,566 L388,565.9 L385,565.9 L382,565.9 L379,565.9 L376,565.9 L373,565.8 L370,565.8 L367,565.8 L364,565.8 L361,565.7 L358,565.7 L355,565.7 L352,565.7 L349,565.6 L346,565.6 L343,565.6 L340,565.5 L337,565.5 L334,565.5 L331,565.5 L328,565.4 L325,565.4 L322,565.4 L319,565.3 L316,565.3 L313,565.3 L310,565.2 L307,565.2 L304,565.2 L301,565.2 L298,565.1 L295,565.1 L292,565.1 L289,565 L286,565 L283,565 L280,565 L277,564.9 L274,564.9 L271,564.9 L268,564.9 L265,564.8 L262,564.8 L259,564.8 L256,564.8 L253,564.8 L250,564.7 L247,564.7 L244,564.7 L241,564.7 L238,564.7 L235,564.7 L232,564.6 L229,564.6 L226,564.6 L223,564.6 L220,564.6 L217,564.6 L214,564.5 L211,564.5 L208,564.5 L205,564.5 L202,564.5 L199,564.5 L196,564.5 L193,564.5 L190,564.5 L187,564.5 L184,564.4 L181,564.4 L178,564.4 L175,564.4 L172,564.4 L169,564.4 L166,564.4 L163,564.4 L160,564.4 L157,564.4 L154,564.4 L151,564.4 L148,564.4 L145,564.4 L142,564.4 L139,564.4 L136,564.4 L133,564.4 L130,564.3 L127,564.3 L124,564.3 L121,564.3 L118,564.3 L115,564.3 L112,564.3 L109,564.3 L106,564.3 L103,564.3 L100,564.3 L97,564.3 L94,564.3 L91,564.3 L88,564.3 L85,564.3 L82,564.3 L79,564.3 L76,564.3 L73,564.3 L70,564.3 L67,564.3 L64,564.3 L61,564.3 L58,564.3 L55,564.3 L52,564.3 L49,564.3 L46,564.3 L43,564.3 L40,564.3 L37,564.3 Z" fill="url(#gCb)"/>
<path d="M37,561 L38,560.9 L39,560.9 L40,560.8 L41,560.8 L42,560.7 L43,560.7 L44,560.6 L45,560.5 L46,560.5 L47,560.4 L48,560.3 L49,560.3 L50,560.2 L51,560.1 L52,560.1 L53,560 L54,559.9 L55,559.8 L56,559.8 L57,559.7 L58,559.6 L59,559.5 L60,559.4 L61,559.3 L62,559.2 L63,559.1 L64,559 L65,558.9 L66,558.8 L67,558.7 L68,558.6 L69,558.5 L70,558.4 L71,558.3 L72,558.1 L73,558 L74,557.9 L75,557.8 L76,557.6 L77,557.5 L78,557.3 L79,557.2 L80,557.1 L81,556.9 L82,556.7 L83,556.6 L84,556.4 L85,556.2 L86,556.1 L87,555.9 L88,555.7 L89,555.5 L90,555.3 L91,555.1 L92,554.9 L93,554.7 L94,554.5 L95,554.2 L96,554 L97,553.8 L98,553.5 L99,553.3 L100,553 L101,552.8 L102,552.5 L103,552.2 L104,552 L105,551.7 L106,551.4 L107,551.1 L108,550.8 L109,550.5 L110,550.2 L111,549.9 L112,549.5 L113,549.2 L114,548.9 L115,548.5 L116,548.2 L117,547.8 L118,547.5 L119,547.1 L120,546.8 L121,546.4 L122,546.1 L123,545.7 L124,545.4 L125,545 L126,544.7 L127,544.4 L128,544 L129,543.7 L130,543.4 L131,543.1 L132,542.8 L133,542.5 L134,542.2 L135,542 L136,541.8 L137,541.5 L138,541.3 L139,541.2 L140,541 L141,540.9 L142,540.8 L143,540.7 L144,540.6 L145,540.6 L146,540.5 L147,540.6 L148,540.8 L149,541.2 L150,541.7 L151,542.4 L152,543.2 L153,544 L154,544.9 L155,545.9 L156,546.8 L157,547.8 L158,548.7 L159,549.6 L160,550.5 L161,551.3 L162,552.1 L163,552.8 L164,553.5 L165,554.1 L166,554.7 L167,555.3 L168,555.8 L169,556.3 L170,556.8 L171,557.2 L172,557.6 L173,558 L174,558.3 L175,558.6 L176,558.9 L177,559.2 L178,559.5 L179,559.7 L180,559.9 L181,560.1 L182,560.3 L183,560.5 L184,560.7 L185,560.9 L186,561 L187,561.2 L188,561.3 L189,561.4 L190,561.6 L191,561.7 L192,561.8 L193,561.9 L194,562 L195,562.1 L196,562.2 L197,562.3 L198,562.3 L199,562.4 L200,562.5 L201,562.6 L202,562.6 L203,562.7 L204,562.8 L205,562.8 L206,562.9 L207,562.9 L208,563 L209,563 L210,563.1 L211,563.1 L212,563.2 L213,563.2 L214,563.2 L215,563.3 L216,563.3 L217,563.4 L218,563.4 L219,563.4 L220,563.5 L221,563.5 L222,563.5 L223,563.6 L224,563.6 L225,563.6 L226,563.6 L227,563.7 L228,563.7 L229,563.7 L230,563.8 L231,563.8 L232,563.8 L233,563.8 L234,563.9 L235,563.9 L236,563.9 L237,563.9 L238,563.9 L239,564 L240,564 L241,564 L242,564 L243,564 L244,564.1 L245,564.1 L246,564.1 L247,564.1 L248,564.1 L249,564.1 L250,564.2 L251,564.2 L252,564.2 L253,564.2 L254,564.2 L255,564.3 L256,564.3 L257,564.3 L258,564.3 L259,564.3 L260,564.3 L261,564.3 L262,564.4 L263,564.4 L264,564.4 L265,564.4 L266,564.4 L267,564.4 L268,564.5 L269,564.5 L270,564.5 L271,564.5 L272,564.5 L273,564.5 L274,564.5 L275,564.6 L276,564.6 L277,564.6 L278,564.6 L279,564.6 L280,564.6 L281,564.6 L282,564.6 L283,564.7 L284,564.7 L285,564.7 L286,564.7 L287,564.7 L288,564.7 L289,564.7 L290,564.8 L291,564.8 L292,564.8 L293,564.8 L294,564.8 L295,564.8 L296,564.8 L297,564.8 L298,564.9 L299,564.9 L300,564.9 L301,564.9 L302,564.9 L303,564.9 L304,564.9 L304,565.2 L304,565.2 L301,565.2 L298,565.1 L295,565.1 L292,565.1 L289,565 L286,565 L283,565 L280,565 L277,564.9 L274,564.9 L271,564.9 L268,564.9 L265,564.8 L262,564.8 L259,564.8 L256,564.8 L253,564.8 L250,564.7 L247,564.7 L244,564.7 L241,564.7 L238,564.7 L235,564.7 L232,564.6 L229,564.6 L226,564.6 L223,564.6 L220,564.6 L217,564.6 L214,564.5 L211,564.5 L208,564.5 L205,564.5 L202,564.5 L199,564.5 L196,564.5 L193,564.5 L190,564.5 L187,564.5 L184,564.4 L181,564.4 L178,564.4 L175,564.4 L172,564.4 L169,564.4 L166,564.4 L163,564.4 L160,564.4 L157,564.4 L154,564.4 L151,564.4 L148,564.4 L145,564.4 L142,564.4 L139,564.4 L136,564.4 L133,564.4 L130,564.3 L127,564.3 L124,564.3 L121,564.3 L118,564.3 L115,564.3 L112,564.3 L109,564.3 L106,564.3 L103,564.3 L100,564.3 L97,564.3 L94,564.3 L91,564.3 L88,564.3 L85,564.3 L82,564.3 L79,564.3 L76,564.3 L73,564.3 L70,564.3 L67,564.3 L64,564.3 L61,564.3 L58,564.3 L55,564.3 L52,564.3 L49,564.3 L46,564.3 L43,564.3 L40,564.3 L37,564.3 Z" fill="url(#gG)"/>
<path d="M37,564.3 L39,564.3 L41,564.3 L43,564.3 L45,564.3 L47,564.3 L49,564.3 L51,564.3 L53,564.3 L55,564.3 L57,564.3 L59,564.3 L61,564.3 L63,564.3 L65,564.3 L67,564.3 L69,564.3 L71,564.3 L73,564.3 L75,564.3 L77,564.3 L79,564.3 L81,564.3 L83,564.3 L85,564.3 L87,564.3 L89,564.3 L91,564.3 L93,564.3 L95,564.3 L97,564.3 L99,564.3 L101,564.3 L103,564.3 L105,564.3 L107,564.3 L109,564.3 L111,564.3 L113,564.3 L115,564.3 L117,564.3 L119,564.3 L121,564.3 L123,564.3 L125,564.3 L127,564.3 L129,564.3 L131,564.3 L133,564.4 L135,564.4 L137,564.4 L139,564.4 L141,564.4 L143,564.4 L145,564.4 L147,564.4 L149,564.4 L151,564.4 L153,564.4 L155,564.4 L157,564.4 L159,564.4 L161,564.4 L163,564.4 L165,564.4 L167,564.4 L169,564.4 L171,564.4 L173,564.4 L175,564.4 L177,564.4 L179,564.4 L181,564.4 L183,564.4 L185,564.4 L187,564.5 L189,564.5 L191,564.5 L193,564.5 L195,564.5 L197,564.5 L199,564.5 L201,564.5 L203,564.5 L205,564.5 L207,564.5 L209,564.5 L211,564.5 L213,564.5 L215,564.6 L217,564.6 L219,564.6 L221,564.6 L223,564.6 L225,564.6 L227,564.6 L229,564.6 L231,564.6 L233,564.6 L235,564.7 L237,564.7 L239,564.7 L241,564.7 L243,564.7 L245,564.7 L247,564.7 L249,564.7 L251,564.7 L253,564.8 L255,564.8 L257,564.8 L259,564.8 L261,564.8 L263,564.8 L265,564.8 L267,564.9 L269,564.9 L271,564.9 L273,564.9 L275,564.9 L277,564.9 L279,565 L281,565 L283,565 L285,565 L287,565 L289,565 L291,565.1 L293,565.1 L295,565.1 L297,565.1 L299,565.1 L301,565.2 L303,565.2 L305,565.2 L307,565.2 L309,565.2 L311,565.3 L313,565.3 L315,565.3 L317,565.3 L319,565.3 L321,565.4 L323,565.4 L325,565.4 L327,565.4 L329,565.4 L331,565.5 L333,565.5 L335,565.5 L337,565.5 L339,565.5 L341,565.5 L343,565.6 L345,565.6 L347,565.6 L349,565.6 L351,565.6 L353,565.7 L355,565.7 L357,565.7 L359,565.7 L361,565.7 L363,565.7 L365,565.8 L367,565.8 L369,565.8 L371,565.8 L373,565.8 L375,565.8 L377,565.9 L379,565.9 L381,565.9 L383,565.9 L385,565.9 L387,565.9 L389,566 L391,566 L393,566 L395,566 L397,566 L399,566 L401,566 L403,566 L405,566.1 L407,566.1 L409,566.1 L411,566.1 L413,566.1 L415,566.1 L417,566.1 L419,566.1 L421,566.1 L423,566.1 L425,566.2 L427,566.2 L429,566.2 L431,566.2 L433,566.2 L435,566.2 L437,566.2 L439,566.2 L441,566.2 L443,566.2 L445,566.2 L447,566.2 L449,566.3 L451,566.3 L453,566.3 L455,566.3 L457,566.3 L459,566.3 L461,566.3 L463,566.3 L465,566.3 L467,566.3 L469,566.3 L471,566.3 L473,566.3 L475,566.3 L477,566.3 L479,566.3 L481,566.3 L483,566.3 L485,566.3 L487,566.3 L489,566.3 L491,566.3 L493,566.4 L495,566.4 L497,566.4 L499,566.4 L501,566.4 L503,566.4 L505,566.4 L507,566.4 L509,566.4 L511,566.4 L513,566.4 L515,566.4 L517,566.4 L519,566.4 L521,566.4 L523,566.4 L525,566.4 L527,566.4 L529,566.4 L531,566.4 L533,566.4" fill="none" stroke="#b4b4b4" stroke-width="1.6"/>
<path d="M37,561 L38,560.9 L39,560.9 L40,560.8 L41,560.8 L42,560.7 L43,560.7 L44,560.6 L45,560.5 L46,560.5 L47,560.4 L48,560.3 L49,560.3 L50,560.2 L51,560.1 L52,560.1 L53,560 L54,559.9 L55,559.8 L56,559.8 L57,559.7 L58,559.6 L59,559.5 L60,559.4 L61,559.3 L62,559.2 L63,559.1 L64,559 L65,558.9 L66,558.8 L67,558.7 L68,558.6 L69,558.5 L70,558.4 L71,558.3 L72,558.1 L73,558 L74,557.9 L75,557.8 L76,557.6 L77,557.5 L78,557.3 L79,557.2 L80,557.1 L81,556.9 L82,556.7 L83,556.6 L84,556.4 L85,556.2 L86,556.1 L87,555.9 L88,555.7 L89,555.5 L90,555.3 L91,555.1 L92,554.9 L93,554.7 L94,554.5 L95,554.2 L96,554 L97,553.8 L98,553.5 L99,553.3 L100,553 L101,552.8 L102,552.5 L103,552.2 L104,552 L105,551.7 L106,551.4 L107,551.1 L108,550.8 L109,550.5 L110,550.2 L111,549.9 L112,549.5 L113,549.2 L114,548.9 L115,548.5 L116,548.2 L117,547.8 L118,547.5 L119,547.1 L120,546.8 L121,546.4 L122,546.1 L123,545.7 L124,545.4 L125,545 L126,544.7 L127,544.4 L128,544 L129,543.7 L130,543.4 L131,543.1 L132,542.8 L133,542.5 L134,542.2 L135,542 L136,541.8 L137,541.5 L138,541.3 L139,541.2 L140,541 L141,540.9 L142,540.8 L143,540.7 L144,540.6 L145,540.6 L146,540.5 L147,540.6 L148,540.8 L149,541.2 L150,541.7 L151,542.4 L152,543.2 L153,544 L154,544.9 L155,545.9 L156,546.8 L157,547.8 L158,548.7 L159,549.6 L160,550.5 L161,551.3 L162,552.1 L163,552.8 L164,553.5 L165,554.1 L166,554.7 L167,555.3 L168,555.8 L169,556.3 L170,556.8 L171,557.2 L172,557.6 L173,558 L174,558.3 L175,558.6 L176,558.9 L177,559.2 L178,559.5 L179,559.7 L180,559.9 L181,560.1 L182,560.3 L183,560.5 L184,560.7 L185,560.9 L186,561 L187,561.2 L188,561.3 L189,561.4 L190,561.6 L191,561.7 L192,561.8 L193,561.9 L194,562 L195,562.1 L196,562.2 L197,562.3 L198,562.3 L199,562.4 L200,562.5 L201,562.6 L202,562.6 L203,562.7 L204,562.8 L205,562.8 L206,562.9 L207,562.9 L208,563 L209,563 L210,563.1 L211,563.1 L212,563.2 L213,563.2 L214,563.2 L215,563.3 L216,563.3 L217,563.4 L218,563.4 L219,563.4 L220,563.5 L221,563.5 L222,563.5 L223,563.6 L224,563.6 L225,563.6 L226,563.6 L227,563.7 L228,563.7 L229,563.7 L230,563.8 L231,563.8 L232,563.8 L233,563.8" fill="none" stroke="#8ee88e" stroke-width="1.2"/>
<path d="M37,548 L37.8,549.5 L39.5,559 L41.9,559 L44.9,564.3 L47.8,555.5 L50.2,555.5 L52.5,557.6 L54.3,560.8 L56.7,553.1 L60.2,543 L63.2,555.5 L66.7,559 L69.7,563.7 L72.6,560.8 L75,560.2 L78,572 L80.3,548.4 L83.3,546 L86.8,544.8 L89.8,550.7 L92.7,569.6 L95.7,559 L98.6,557.8 L101,543.6 L103,550.5 L104.7,555.2 L106.5,545.1 L108.9,550.5 L111.2,554.6 L114.2,546.9 L117.7,545.1 L121.3,545.1 L125.4,544.6 L127.8,543.4 L130.1,549.3 L133.1,544.6 L135.5,541.6 L139,540.4 L140.8,533.9 L142,546.9 L143.1,533.9 L145.5,538.6 L148.5,541.6 L150.8,545.7 L153.8,539.8 L156.7,542.2 L159.1,544.6 L161.5,546.9 L163.2,549.9 L165.3,546.1 L168.3,548.5 L171.2,553.8 L173.6,556.7 L176.5,555.6 L180.1,557.9 L183,550.2 L185.4,552.6 L188.4,553.8 L191.3,554.4 L194.3,558.5 L196.6,555 L199,555.6 L200.8,557.9 L203.7,539.6 L206.7,539 L209.6,546.1 L212,555 L215,548.5 L217.9,547.9 L220.9,547.3 L223.2,536.6 L224.1,536.1 L227.7,542.6 L232.4,550.3 L236.5,546.2 L241.3,543.8 L247.2,551.5 L251.3,542.6 L255.5,548.6 L259,530.8 L262,535.6 L264.9,535.6 L267.9,529.6 L270.8,528.5 L273.8,532 L276.7,522.6 L280.3,511.9 L282.6,501.3 L284.4,491.2 L285.5,489.9 L288.6,485 L293.5,487.4 L297.1,496 L300.2,485 L303.3,487.4 L305.8,467.2 L308.7,452.6 L311.6,467.2 L314.5,457 L319.2,460.5 L323.3,465.7 L326.9,451.9 L329.8,450.5 L333.5,438.1 L337.8,441.3 L342.2,435.9 L346.5,436.6 L350.2,434 L351.6,443.9 L355,450 L358.2,454.8 L361.1,459.9 L363.9,475.1 L368.2,486.1 L370.6,491 L372.6,506 L377.3,514.9 L381.6,532.4 L384.5,533.1 L387.5,525.8 L391.8,544 L395.5,552.7 L399.1,557.8 L404.9,554.2 L409.3,556.4 L413.6,549.1 L417.3,560.7 L421.6,557.8 L428.2,562.2 L434,569.5 L437.6,564.4 L442.7,570.2 L447.6,558.8 L451.8,562.7 L454.5,568.7 L457.3,562.2 L460.9,560.4 L463.6,570 L469.1,558.2 L471.8,564.5 L475.5,555.5 L478.2,554.5 L482.7,563.6 L486.4,561.5 L490,571.5 L492.7,560.4 L498.2,561.8 L502.7,565.5 L506.4,564.5 L510,570 L512.7,567.6 L516.4,552.7 L519.1,556 L521.8,570.9 L525.5,565.5 L530.9,561.8 L533.5,563.6" fill="none" stroke="#8a8a8a" stroke-width="1.6" stroke-linejoin="round"/>
<path d="M37,562.2 L38,562.2 L39,562.2 L40,562.2 L41,562.2 L42,562.1 L43,562.1 L44,562.1 L45,562.1 L46,562.1 L47,562.1 L48,562.1 L49,562 L50,562 L51,562 L52,562 L53,562 L54,562 L55,562 L56,561.9 L57,561.9 L58,561.9 L59,561.9 L60,561.9 L61,561.9 L62,561.8 L63,561.8 L64,561.8 L65,561.8 L66,561.8 L67,561.8 L68,561.7 L69,561.7 L70,561.7 L71,561.7 L72,561.7 L73,561.7 L74,561.6 L75,561.6 L76,561.6 L77,561.6 L78,561.6 L79,561.5 L80,561.5 L81,561.5 L82,561.5 L83,561.5 L84,561.4 L85,561.4 L86,561.4 L87,561.4 L88,561.3 L89,561.3 L90,561.3 L91,561.3 L92,561.3 L93,561.2 L94,561.2 L95,561.2 L96,561.2 L97,561.1 L98,561.1 L99,561.1 L100,561.1 L101,561 L102,561 L103,561 L104,561 L105,560.9 L106,560.9 L107,560.9 L108,560.9 L109,560.8 L110,560.8 L111,560.8 L112,560.7 L113,560.7 L114,560.7 L115,560.6 L116,560.6 L117,560.6 L118,560.6 L119,560.5 L120,560.5 L121,560.5 L122,560.4 L123,560.4 L124,560.4 L125,560.3 L126,560.3 L127,560.3 L128,560.2 L129,560.2 L130,560.1 L131,560.1 L132,560.1 L133,560 L134,560 L135,560 L136,559.9 L137,559.9 L138,559.8 L139,559.8 L140,559.8 L141,559.7 L142,559.7 L143,559.6 L144,559.6 L145,559.5 L146,559.5 L147,559.4 L148,559.4 L149,559.4 L150,559.3 L151,559.3 L152,559.2 L153,559.2 L154,559.1 L155,559.1 L156,559 L157,558.9 L158,558.9 L159,558.8 L160,558.8 L161,558.7 L162,558.7 L163,558.6 L164,558.6 L165,558.5 L166,558.4 L167,558.4 L168,558.3 L169,558.2 L170,558.2 L171,558.1 L172,558 L173,558 L174,557.9 L175,557.8 L176,557.7 L177,557.7 L178,557.6 L179,557.5 L180,557.4 L181,557.3 L182,557.3 L183,557.2 L184,557.1 L185,557 L186,556.9 L187,556.8 L188,556.7 L189,556.6 L190,556.5 L191,556.4 L192,556.3 L193,556.2 L194,556.1 L195,556 L196,555.9 L197,555.8 L198,555.6 L199,555.5 L200,555.4 L201,555.2 L202,555.1 L203,555 L204,554.8 L205,554.7 L206,554.5 L207,554.4 L208,554.2 L209,554 L210,553.9 L211,553.7 L212,553.5 L213,553.3 L214,553.1 L215,553 L216,552.7 L217,552.5 L218,552.3 L219,552.1 L220,551.9 L221,551.6 L222,551.4 L223,551.1 L224,550.9 L225,550.6 L226,550.3 L227,550 L228,549.7 L229,549.4 L230,549.1 L231,548.8 L232,548.5 L233,548.1 L234,547.8 L235,547.4 L236,547 L237,546.6 L238,546.2 L239,545.8 L240,545.3 L241,544.9 L242,544.4 L243,544 L244,543.5 L245,543 L246,542.4 L247,541.9 L248,541.3 L249,540.8 L250,540.2 L251,539.6 L252,538.9 L253,538.3 L254,537.6 L255,537 L256,536.3 L257,535.5 L258,534.8 L259,534 L260,533.2 L261,532.4 L262,531.6 L263,530.8 L264,529.9 L265,529 L266,528.1 L267,527.2 L268,526.2 L269,525.2 L270,524.2 L271,523.2 L272,522.1 L273,521.1 L274,520 L275,518.9 L276,517.7 L277,516.5 L278,515.4 L279,514.1 L280,512.9 L281,511.6 L282,510.4 L283,509.1 L284,507.7 L285,506.4 L286,505 L287,503.6 L288,502.2 L289,500.8 L290,499.3 L291,497.9 L292,496.4 L293,494.9 L294,493.3 L295,491.8 L296,490.3 L297,488.7 L298,487.1 L299,485.5 L300,483.9 L301,482.3 L302,480.7 L303,479.1 L304,477.4 L305,475.8 L306,474.2 L307,472.6 L308,470.9 L309,469.3 L310,467.7 L311,466.1 L312,464.5 L313,463 L314,461.4 L315,459.9 L316,458.4 L317,456.9 L318,455.4 L319,454 L320,452.6 L321,451.3 L322,450 L323,448.7 L324,447.5 L325,446.3 L326,445.2 L327,444.2 L328,443.2 L329,442.2 L330,441.4 L331,440.6 L332,439.9 L333,439.2 L334,438.7 L335,438.2 L336,437.8 L337,437.4 L338,437.2 L339,437 L340,436.9 L341,436.9 L342,437.1 L343,437.4 L344,437.9 L345,438.6 L346,439.4 L347,440.4 L348,441.5 L349,442.8 L350,444.3 L351,445.8 L352,447.5 L353,449.4 L354,451.3 L355,453.4 L356,455.6 L357,457.9 L358,460.2 L359,462.7 L360,465.2 L361,467.8 L362,470.4 L363,473.1 L364,475.9 L365,478.7 L366,481.4 L367,484.3 L368,487.1 L369,489.9 L370,492.7 L371,495.5 L372,498.3 L373,501.1 L374,503.8 L375,506.5 L376,509.2 L377,511.8 L378,514.3 L379,516.8 L380,519.3 L381,521.7 L382,524 L383,526.2 L384,528.4 L385,530.5 L386,532.5 L387,534.5 L388,536.3 L389,538.1 L390,539.9 L391,541.5 L392,543.1 L393,544.6 L394,546 L395,547.4 L396,548.7 L397,549.9 L398,551.1 L399,552.2 L400,553.2 L401,554.2 L402,555.1 L403,555.9 L404,556.7 L405,557.5 L406,558.2 L407,558.9 L408,559.5 L409,560 L410,560.6 L411,561 L412,561.5 L413,561.9 L414,562.3 L415,562.7 L416,563 L417,563.3 L418,563.6 L419,563.8 L420,564 L421,564.3 L422,564.4 L423,564.6 L424,564.8 L425,564.9 L426,565.1 L427,565.2 L428,565.3" fill="none" stroke="#a6ecf0" stroke-width="1.2"/>
<path d="M37,559.9 L38,559.9 L39,559.8 L40,559.8 L41,559.7 L42,559.7 L43,559.6 L44,559.5 L45,559.5 L46,559.4 L47,559.4 L48,559.3 L49,559.3 L50,559.2 L51,559.1 L52,559.1 L53,559 L54,558.9 L55,558.9 L56,558.8 L57,558.7 L58,558.6 L59,558.6 L60,558.5 L61,558.4 L62,558.3 L63,558.2 L64,558.2 L65,558.1 L66,558 L67,557.9 L68,557.8 L69,557.7 L70,557.6 L71,557.5 L72,557.4 L73,557.3 L74,557.2 L75,557.1 L76,557 L77,556.8 L78,556.7 L79,556.6 L80,556.5 L81,556.3 L82,556.2 L83,556.1 L84,555.9 L85,555.8 L86,555.6 L87,555.5 L88,555.3 L89,555.1 L90,555 L91,554.8 L92,554.6 L93,554.4 L94,554.2 L95,554 L96,553.8 L97,553.6 L98,553.4 L99,553.2 L100,553 L101,552.7 L102,552.5 L103,552.2 L104,552 L105,551.7 L106,551.5 L107,551.2 L108,550.9 L109,550.6 L110,550.3 L111,550 L112,549.7 L113,549.4 L114,549 L115,548.7 L116,548.4 L117,548 L118,547.6 L119,547.3 L120,546.9 L121,546.5 L122,546.2 L123,545.8 L124,545.4 L125,545 L126,544.6 L127,544.2 L128,543.9 L129,543.5 L130,543.1 L131,542.7 L132,542.4 L133,542 L134,541.7 L135,541.3 L136,541 L137,540.7 L138,540.4 L139,540.2 L140,539.9 L141,539.7 L142,539.5 L143,539.3 L144,539.2 L145,539.1 L146,539 L147,538.9 L148,539 L149,539.2 L150,539.5 L151,539.9 L152,540.4 L153,541 L154,541.6 L155,542.3 L156,543 L157,543.7 L158,544.4 L159,545.1 L160,545.8 L161,546.4 L162,547 L163,547.6 L164,548.1 L165,548.6 L166,549 L167,549.5 L168,549.8 L169,550.2 L170,550.5 L171,550.8 L172,551.1 L173,551.3 L174,551.6 L175,551.8 L176,551.9 L177,552.1 L178,552.2 L179,552.4 L180,552.5 L181,552.6 L182,552.6 L183,552.7 L184,552.8 L185,552.8 L186,552.9 L187,552.9 L188,552.9 L189,552.9 L190,552.9 L191,552.9 L192,552.9 L193,552.8 L194,552.8 L195,552.8 L196,552.7 L197,552.7 L198,552.6 L199,552.5 L200,552.5 L201,552.4 L202,552.3 L203,552.2 L204,552.1 L205,552 L206,551.9 L207,551.8 L208,551.6 L209,551.5 L210,551.4 L211,551.2 L212,551.1 L213,550.9 L214,550.7 L215,550.6 L216,550.4 L217,550.2 L218,550 L219,549.8 L220,549.6 L221,549.4 L222,549.2 L223,548.9 L224,548.7 L225,548.4 L226,548.2 L227,547.9 L228,547.6 L229,547.4 L230,547.1 L231,546.8 L232,546.4 L233,546.1 L234,545.8 L235,545.4 L236,545.1 L237,544.7 L238,544.3 L239,543.9 L240,543.5 L241,543.1 L242,542.6 L243,542.2 L244,541.7 L245,541.2 L246,540.8 L247,540.2 L248,539.7 L249,539.2 L250,538.6 L251,538 L252,537.4 L253,536.8 L254,536.2 L255,535.6 L256,534.9 L257,534.2 L258,533.5 L259,532.8 L260,532.1 L261,531.3 L262,530.5 L263,529.7 L264,528.9 L265,528 L266,527.2 L267,526.3 L268,525.4 L269,524.4 L270,523.5 L271,522.5 L272,521.5 L273,520.5 L274,519.4 L275,518.4 L276,517.3 L277,516.2 L278,515 L279,513.8 L280,512.7 L281,511.4 L282,510.2 L283,509 L284,507.7 L285,506.4 L286,505 L287,503.7 L288,502.3 L289,500.9 L290,499.5 L291,498.1 L292,496.6 L293,495.1 L294,493.7 L295,492.1 L296,490.6 L297,489.1 L298,487.5 L299,485.9 L300,484.4 L301,482.8 L302,481.1 L303,479.5 L304,477.9 L305,476.3 L306,474.6 L307,473 L308,471.4 L309,469.7 L310,468.1 L311,466.5 L312,464.9 L313,463.3 L314,461.7 L315,460.2 L316,458.6 L317,457.1 L318,455.6 L319,454.2 L320,452.7 L321,451.3 L322,450 L323,448.7 L324,447.5 L325,446.3 L326,445.1 L327,444 L328,443 L329,442.1 L330,441.2 L331,440.4 L332,439.6 L333,439 L334,438.4 L335,437.9 L336,437.5 L337,437.1 L338,436.9 L339,436.7 L340,436.7 L341,436.7 L342,436.9 L343,437.3 L344,437.8 L345,438.5 L346,439.4 L347,440.4 L348,441.5 L349,442.8 L350,444.3 L351,445.9 L352,447.6 L353,449.5 L354,451.4 L355,453.5 L356,455.7 L357,458 L358,460.3 L359,462.8 L360,465.3 L361,467.9 L362,470.6 L363,473.3 L364,476 L365,478.8 L366,481.6 L367,484.4 L368,487.2 L369,490 L370,492.8 L371,495.6 L372,498.4 L373,501.2 L374,503.9 L375,506.6 L376,509.2 L377,511.8 L378,514.3 L379,516.8 L380,519.3 L381,521.6 L382,523.9 L383,526.2 L384,528.3 L385,530.4 L386,532.4 L387,534.4 L388,536.2 L389,538 L390,539.8 L391,541.4 L392,543 L393,544.5 L394,545.9 L395,547.3 L396,548.6 L397,549.8 L398,551 L399,552 L400,553.1 L401,554.1 L402,555 L403,555.8 L404,556.6 L405,557.4 L406,558.1 L407,558.7 L408,559.3 L409,559.9 L410,560.4 L411,560.9 L412,561.4 L413,561.8 L414,562.2 L415,562.5 L416,562.9 L417,563.2 L418,563.5 L419,563.7 L420,563.9 L421,564.2 L422,564.4 L423,564.5 L424,564.7 L425,564.8 L426,565 L427,565.1 L428,565.2 L429,565.3 L430,565.4 L431,565.5 L432,565.6 L433,565.6 L434,565.7 L435,565.7 L436,565.8 L437,565.8 L438,565.9 L439,565.9 L440,565.9 L441,566 L442,566 L443,566 L444,566 L445,566.1 L446,566.1 L447,566.1 L448,566.1 L449,566.1 L450,566.1 L451,566.2 L452,566.2 L453,566.2 L454,566.2 L455,566.2 L456,566.2 L457,566.2 L458,566.2 L459,566.2 L460,566.2 L461,566.2 L462,566.2 L463,566.2 L464,566.2 L465,566.2 L466,566.2 L467,566.2 L468,566.2 L469,566.2 L470,566.3 L471,566.3 L472,566.3 L473,566.3 L474,566.3 L475,566.3 L476,566.3 L477,566.3 L478,566.3 L479,566.3 L480,566.3 L481,566.3 L482,566.3 L483,566.3 L484,566.3 L485,566.3 L486,566.3 L487,566.3 L488,566.3 L489,566.3 L490,566.3 L491,566.3 L492,566.3 L493,566.3 L494,566.3 L495,566.3 L496,566.3 L497,566.3 L498,566.3 L499,566.3 L500,566.3 L501,566.3 L502,566.3 L503,566.3 L504,566.3 L505,566.3 L506,566.3 L507,566.3 L508,566.3 L509,566.3 L510,566.3 L511,566.3 L512,566.3 L513,566.3 L514,566.3 L515,566.3 L516,566.3 L517,566.3 L518,566.3 L519,566.3 L520,566.3 L521,566.3 L522,566.4 L523,566.4 L524,566.4 L525,566.4 L526,566.4 L527,566.4 L528,566.4 L529,566.4 L530,566.4 L531,566.4 L532,566.4 L533,566.4 L534,566.4" fill="none" stroke="url(#eB1)" stroke-width="1.8"/>
</g>
<g clip-path="url(#cB2)">
<path d="M37,724.1 L38,724.1 L39,724.1 L40,724.1 L41,724.1 L42,724.1 L43,724.1 L44,724.1 L45,724 L46,724 L47,724 L48,724 L49,724 L50,724 L51,724 L52,724 L53,724 L54,724 L55,724 L56,724 L57,724 L58,724 L59,724 L60,724 L61,724 L62,724 L63,724 L64,724 L65,724 L66,724 L67,724 L68,724 L69,724 L70,724 L71,724 L72,724 L73,723.9 L74,723.9 L75,723.9 L76,723.9 L77,723.9 L78,723.9 L79,723.9 L80,723.9 L81,723.9 L82,723.9 L83,723.9 L84,723.9 L85,723.9 L86,723.9 L87,723.9 L88,723.9 L89,723.9 L90,723.9 L91,723.9 L92,723.9 L93,723.9 L94,723.8 L95,723.8 L96,723.8 L97,723.8 L98,723.8 L99,723.8 L100,723.8 L101,723.8 L102,723.8 L103,723.8 L104,723.8 L105,723.8 L106,723.8 L107,723.8 L108,723.8 L109,723.8 L110,723.8 L111,723.7 L112,723.7 L113,723.7 L114,723.7 L115,723.7 L116,723.7 L117,723.7 L118,723.7 L119,723.7 L120,723.7 L121,723.7 L122,723.7 L123,723.7 L124,723.6 L125,723.6 L126,723.6 L127,723.6 L128,723.6 L129,723.6 L130,723.6 L131,723.6 L132,723.6 L133,723.6 L134,723.6 L135,723.5 L136,723.5 L137,723.5 L138,723.5 L139,723.5 L140,723.5 L141,723.5 L142,723.5 L143,723.5 L144,723.5 L145,723.4 L146,723.4 L147,723.4 L148,723.4 L149,723.4 L150,723.4 L151,723.4 L152,723.4 L153,723.3 L154,723.3 L155,723.3 L156,723.3 L157,723.3 L158,723.3 L159,723.3 L160,723.2 L161,723.2 L162,723.2 L163,723.2 L164,723.2 L165,723.2 L166,723.1 L167,723.1 L168,723.1 L169,723.1 L170,723.1 L171,723 L172,723 L173,723 L174,723 L175,723 L176,722.9 L177,722.9 L178,722.9 L179,722.9 L180,722.8 L181,722.8 L182,722.8 L183,722.8 L184,722.7 L185,722.7 L186,722.7 L187,722.7 L188,722.6 L189,722.6 L190,722.6 L191,722.5 L192,722.5 L193,722.5 L194,722.4 L195,722.4 L196,722.3 L197,722.3 L198,722.3 L199,722.2 L200,722.2 L201,722.1 L202,722.1 L203,722 L204,722 L205,721.9 L206,721.8 L207,721.8 L208,721.7 L209,721.6 L210,721.6 L211,721.5 L212,721.4 L213,721.3 L214,721.2 L215,721.1 L216,721 L217,720.9 L218,720.8 L219,720.7 L220,720.6 L221,720.5 L222,720.3 L223,720.2 L224,720 L225,719.9 L226,719.7 L227,719.5 L228,719.3 L229,719.1 L230,718.9 L231,718.7 L232,718.4 L233,718.2 L234,717.9 L235,717.6 L236,717.3 L237,717 L238,716.7 L239,716.4 L240,716 L241,715.6 L242,715.2 L243,714.8 L244,714.4 L245,713.9 L246,713.4 L247,712.9 L248,712.4 L249,711.8 L250,711.2 L251,710.6 L252,710 L253,709.3 L254,708.7 L255,707.9 L256,707.2 L257,706.4 L258,705.6 L259,704.8 L260,704 L261,703.1 L262,702.2 L263,701.2 L264,700.3 L265,699.3 L266,698.2 L267,697.2 L268,696.1 L269,695 L270,693.8 L271,692.7 L272,691.5 L273,690.3 L274,689 L275,687.8 L276,686.5 L277,685.2 L278,683.9 L279,682.5 L280,681.2 L281,679.8 L282,678.4 L283,677.1 L284,675.7 L285,674.3 L286,672.9 L287,671.5 L288,670.1 L289,668.7 L290,667.4 L291,666 L292,664.7 L293,663.3 L294,662 L295,660.8 L296,659.5 L297,658.3 L298,657.2 L299,656.1 L300,655 L301,654 L302,653 L303,652.1 L304,651.3 L305,650.5 L306,649.8 L307,649.2 L308,648.6 L309,648.2 L310,647.8 L311,647.5 L312,647.3 L313,647.2 L314,647.1 L315,647.2 L316,647.4 L317,647.7 L318,648.2 L319,648.8 L320,649.6 L321,650.4 L322,651.4 L323,652.4 L324,653.6 L325,654.8 L326,656.1 L327,657.5 L328,658.9 L329,660.3 L330,661.9 L331,663.4 L332,664.9 L333,666.5 L334,668.1 L335,669.6 L336,671.2 L337,672.8 L338,674.3 L339,675.9 L340,677.4 L341,678.9 L342,680.3 L343,681.8 L344,683.2 L345,684.5 L346,685.9 L347,687.2 L348,688.5 L349,689.7 L350,690.9 L351,692.1 L352,693.2 L353,694.3 L354,695.4 L355,696.4 L356,697.4 L357,698.4 L358,699.3 L359,700.2 L360,701.1 L361,701.9 L362,702.8 L363,703.5 L364,704.3 L365,705 L366,705.7 L367,706.4 L368,707.1 L369,707.7 L370,708.3 L371,708.9 L372,709.5 L373,710 L374,710.6 L375,711.1 L376,711.5 L377,712 L378,712.5 L379,712.9 L380,713.3 L381,713.7 L382,714.1 L383,714.5 L384,714.9 L385,715.2 L386,715.6 L387,715.9 L388,716.2 L389,716.5 L390,716.8 L391,717.1 L392,717.4 L393,717.6 L394,717.9 L395,718.1 L396,718.4 L397,718.6 L398,718.8 L399,719.1 L400,719.3 L401,719.5 L402,719.7 L403,719.9 L404,720.1 L405,720.3 L406,720.4 L407,720.6 L408,720.8 L409,721 L410,721.1 L411,721.3 L412,721.4 L413,721.6 L414,721.7 L415,721.9 L416,722 L417,722.2 L418,722.3 L419,722.4 L420,722.6 L421,722.7 L422,722.8 L423,722.9 L424,723 L425,723.2 L426,723.3 L427,723.4 L428,723.5 L429,723.6 L430,723.7 L431,723.8 L432,723.9 L433,724 L434,724.1 L435,724.2 L436,724.3 L437,724.4 L438,724.5 L439,724.6 L440,724.6 L441,724.7 L442,724.8 L443,724.9 L444,725 L445,725.1 L446,725.1 L447,725.2 L448,725.3 L449,725.4 L450,725.4 L451,725.5 L452,725.6 L453,725.7 L454,725.7 L455,725.8 L456,725.9 L457,725.9 L458,726 L459,726.1 L460,726.1 L461,726.2 L462,726.2 L463,726.3 L464,726.4 L465,726.4 L466,726.5 L467,726.5 L468,726.6 L469,726.6 L470,726.7 L471,726.7 L472,726.8 L473,726.9 L474,726.9 L475,727 L476,727 L477,727.1 L478,727.1 L479,727.2 L480,727.2 L481,727.2 L482,727.3 L483,727.3 L484,727.4 L485,727.4 L486,727.5 L487,727.5 L488,727.6 L489,727.6 L490,727.6 L491,727.7 L492,727.7 L493,727.8 L494,727.8 L495,727.8 L496,727.9 L497,727.9 L498,728 L499,728 L500,728 L501,728.1 L502,728.1 L503,728.1 L504,728.2 L505,728.2 L506,728.2 L507,728.3 L508,728.3 L509,728.3 L510,728.4 L511,728.4 L512,728.4 L513,728.5 L514,728.5 L515,728.5 L516,728.6 L517,728.6 L518,728.6 L519,728.6 L520,728.7 L521,728.7 L522,728.7 L523,728.8 L524,728.8 L525,728.8 L526,728.8 L527,728.9 L528,728.9 L529,728.9 L530,728.9 L531,729 L532,729 L533,729 L534,729 L534,730.5 L532,730.5 L529,730.5 L526,730.4 L523,730.4 L520,730.4 L517,730.3 L514,730.3 L511,730.3 L508,730.2 L505,730.2 L502,730.1 L499,730.1 L496,730 L493,730 L490,729.9 L487,729.9 L484,729.8 L481,729.8 L478,729.7 L475,729.7 L472,729.6 L469,729.6 L466,729.5 L463,729.5 L460,729.4 L457,729.4 L454,729.3 L451,729.2 L448,729.2 L445,729.1 L442,729 L439,729 L436,728.9 L433,728.9 L430,728.8 L427,728.7 L424,728.7 L421,728.6 L418,728.5 L415,728.4 L412,728.4 L409,728.3 L406,728.2 L403,728.2 L400,728.1 L397,728 L394,728 L391,727.9 L388,727.8 L385,727.7 L382,727.7 L379,727.6 L376,727.5 L373,727.5 L370,727.4 L367,727.3 L364,727.3 L361,727.2 L358,727.1 L355,727.1 L352,727 L349,726.9 L346,726.9 L343,726.8 L340,726.8 L337,726.7 L334,726.6 L331,726.6 L328,726.5 L325,726.5 L322,726.4 L319,726.3 L316,726.3 L313,726.2 L310,726.2 L307,726.1 L304,726.1 L301,726 L298,726 L295,725.9 L292,725.9 L289,725.9 L286,725.8 L283,725.8 L280,725.7 L277,725.7 L274,725.7 L271,725.6 L268,725.6 L265,725.5 L262,725.5 L259,725.5 L256,725.4 L253,725.4 L250,725.4 L247,725.3 L244,725.3 L241,725.3 L238,725.3 L235,725.2 L232,725.2 L229,725.2 L226,725.2 L223,725.1 L220,725.1 L217,725.1 L214,725.1 L211,725.1 L208,725 L205,725 L202,725 L199,725 L196,725 L193,724.9 L190,724.9 L187,724.9 L184,724.9 L181,724.9 L178,724.9 L175,724.9 L172,724.8 L169,724.8 L166,724.8 L163,724.8 L160,724.8 L157,724.8 L154,724.8 L151,724.8 L148,724.8 L145,724.8 L142,724.7 L139,724.7 L136,724.7 L133,724.7 L130,724.7 L127,724.7 L124,724.7 L121,724.7 L118,724.7 L115,724.7 L112,724.7 L109,724.7 L106,724.7 L103,724.7 L100,724.6 L97,724.6 L94,724.6 L91,724.6 L88,724.6 L85,724.6 L82,724.6 L79,724.6 L76,724.6 L73,724.6 L70,724.6 L67,724.6 L64,724.6 L61,724.6 L58,724.6 L55,724.6 L52,724.6 L49,724.6 L46,724.6 L43,724.6 L40,724.6 L37,724.6 Z" fill="url(#gG)"/>
<path d="M101,724.4 L102,724.4 L103,724.4 L104,724.4 L105,724.4 L106,724.4 L107,724.4 L108,724.4 L109,724.4 L110,724.4 L111,724.4 L112,724.4 L113,724.4 L114,724.4 L115,724.4 L116,724.4 L117,724.4 L118,724.4 L119,724.4 L120,724.4 L121,724.4 L122,724.4 L123,724.4 L124,724.4 L125,724.4 L126,724.4 L127,724.4 L128,724.4 L129,724.4 L130,724.4 L131,724.4 L132,724.4 L133,724.4 L134,724.4 L135,724.4 L136,724.4 L137,724.4 L138,724.4 L139,724.4 L140,724.4 L141,724.4 L142,724.4 L143,724.4 L144,724.4 L145,724.4 L146,724.4 L147,724.4 L148,724.4 L149,724.4 L150,724.4 L151,724.4 L152,724.4 L153,724.4 L154,724.4 L155,724.4 L156,724.4 L157,724.4 L158,724.4 L159,724.4 L160,724.4 L161,724.4 L162,724.4 L163,724.4 L164,724.4 L165,724.4 L166,724.4 L167,724.4 L168,724.4 L169,724.4 L170,724.4 L171,724.4 L172,724.4 L173,724.4 L174,724.4 L175,724.4 L176,724.4 L177,724.4 L178,724.4 L179,724.4 L180,724.3 L181,724.3 L182,724.3 L183,724.3 L184,724.3 L185,724.3 L186,724.3 L187,724.3 L188,724.3 L189,724.3 L190,724.3 L191,724.3 L192,724.3 L193,724.3 L194,724.3 L195,724.3 L196,724.3 L197,724.3 L198,724.3 L199,724.3 L200,724.3 L201,724.3 L202,724.3 L203,724.3 L204,724.3 L205,724.3 L206,724.3 L207,724.3 L208,724.3 L209,724.3 L210,724.3 L211,724.3 L212,724.3 L213,724.3 L214,724.3 L215,724.2 L216,724.2 L217,724.2 L218,724.2 L219,724.2 L220,724.2 L221,724.2 L222,724.2 L223,724.2 L224,724.2 L225,724.2 L226,724.2 L227,724.2 L228,724.2 L229,724.2 L230,724.2 L231,724.1 L232,724.1 L233,724.1 L234,724.1 L235,724.1 L236,724.1 L237,724.1 L238,724.1 L239,724.1 L240,724.1 L241,724 L242,724 L243,724 L244,724 L245,724 L246,724 L247,724 L248,723.9 L249,723.9 L250,723.9 L251,723.9 L252,723.9 L253,723.8 L254,723.8 L255,723.8 L256,723.8 L257,723.8 L258,723.7 L259,723.7 L260,723.7 L261,723.7 L262,723.6 L263,723.6 L264,723.6 L265,723.5 L266,723.5 L267,723.5 L268,723.4 L269,723.4 L270,723.4 L271,723.3 L272,723.3 L273,723.2 L274,723.2 L275,723.1 L276,723.1 L277,723 L278,722.9 L279,722.9 L280,722.8 L281,722.7 L282,722.6 L283,722.6 L284,722.5 L285,722.4 L286,722.2 L287,722.1 L288,722 L289,721.9 L290,721.7 L291,721.5 L292,721.4 L293,721.2 L294,720.9 L295,720.7 L296,720.5 L297,720.2 L298,719.9 L299,719.6 L300,719.2 L301,718.8 L302,718.4 L303,718 L304,717.5 L305,717 L306,716.4 L307,715.8 L308,715.2 L309,714.5 L310,713.7 L311,712.9 L312,712.1 L313,711.2 L314,710.2 L315,709.2 L316,708.1 L317,707 L318,705.8 L319,704.5 L320,703.2 L321,701.8 L322,700.3 L323,698.9 L324,697.3 L325,695.7 L326,694 L327,692.3 L328,690.6 L329,688.8 L330,687 L331,685.2 L332,683.3 L333,681.5 L334,679.6 L335,677.7 L336,675.9 L337,674.1 L338,672.3 L339,670.6 L340,668.9 L341,667.4 L342,665.9 L343,664.5 L344,663.3 L345,662.2 L346,661.2 L347,660.4 L348,659.8 L349,659.3 L350,659.1 L351,659 L352,659.2 L353,659.7 L354,660.5 L355,661.6 L356,662.9 L357,664.5 L358,666.4 L359,668.4 L360,670.6 L361,672.9 L362,675.3 L363,677.8 L364,680.4 L365,683 L366,685.6 L367,688.2 L368,690.8 L369,693.3 L370,695.7 L371,698.1 L372,700.4 L373,702.6 L374,704.7 L375,706.6 L376,708.5 L377,710.2 L378,711.8 L379,713.3 L380,714.7 L381,716 L382,717.2 L383,718.2 L384,719.2 L385,720.1 L386,720.8 L387,721.6 L388,722.2 L389,722.8 L390,723.3 L391,723.7 L392,724.1 L393,724.5 L394,724.8 L395,725.1 L396,725.3 L397,725.6 L398,725.8 L399,725.9 L400,726.1 L401,726.2 L402,726.4 L403,726.5 L404,726.6 L405,726.7 L406,726.8 L407,726.9 L408,727 L409,727 L410,727.1 L411,727.2 L412,727.2 L413,727.3 L414,727.3 L415,727.4 L416,727.5 L417,727.5 L418,727.6 L419,727.6 L420,727.7 L421,727.7 L422,727.8 L423,727.8 L424,727.8 L425,727.9 L426,727.9 L427,728 L428,728 L429,728 L430,728.1 L431,728.1 L432,728.2 L433,728.2 L434,728.2 L435,728.3 L436,728.3 L437,728.3 L438,728.4 L439,728.4 L440,728.4 L441,728.5 L442,728.5 L443,728.5 L444,728.6 L445,728.6 L446,728.6 L447,728.7 L448,728.7 L449,728.7 L450,728.8 L451,728.8 L452,728.8 L453,728.8 L454,728.9 L455,728.9 L456,728.9 L457,729 L458,729 L459,729 L460,729 L461,729.1 L462,729.1 L463,729.1 L464,729.1 L465,729.2 L466,729.2 L467,729.2 L468,729.2 L469,729.3 L470,729.3 L471,729.3 L472,729.3 L473,729.4 L474,729.4 L475,729.4 L476,729.4 L477,729.4 L478,729.5 L479,729.5 L480,729.5 L481,729.5 L482,729.5 L483,729.6 L484,729.6 L485,729.6 L485,729.9 L485,729.9 L482,729.8 L479,729.8 L476,729.7 L473,729.7 L470,729.6 L467,729.5 L464,729.5 L461,729.4 L458,729.4 L455,729.3 L452,729.3 L449,729.2 L446,729.1 L443,729.1 L440,729 L437,728.9 L434,728.9 L431,728.8 L428,728.7 L425,728.7 L422,728.6 L419,728.5 L416,728.5 L413,728.4 L410,728.3 L407,728.3 L404,728.2 L401,728.1 L398,728.1 L395,728 L392,727.9 L389,727.8 L386,727.8 L383,727.7 L380,727.6 L377,727.6 L374,727.5 L371,727.4 L368,727.4 L365,727.3 L362,727.2 L359,727.2 L356,727.1 L353,727 L350,727 L347,726.9 L344,726.8 L341,726.8 L338,726.7 L335,726.7 L332,726.6 L329,726.5 L326,726.5 L323,726.4 L320,726.4 L317,726.3 L314,726.3 L311,726.2 L308,726.2 L305,726.1 L302,726.1 L299,726 L296,726 L293,725.9 L290,725.9 L287,725.8 L284,725.8 L281,725.7 L278,725.7 L275,725.7 L272,725.6 L269,725.6 L266,725.6 L263,725.5 L260,725.5 L257,725.5 L254,725.4 L251,725.4 L248,725.4 L245,725.3 L242,725.3 L239,725.3 L236,725.2 L233,725.2 L230,725.2 L227,725.2 L224,725.1 L221,725.1 L218,725.1 L215,725.1 L212,725.1 L209,725 L206,725 L203,725 L200,725 L197,725 L194,725 L191,724.9 L188,724.9 L185,724.9 L182,724.9 L179,724.9 L176,724.9 L173,724.9 L170,724.8 L167,724.8 L164,724.8 L161,724.8 L158,724.8 L155,724.8 L152,724.8 L149,724.8 L146,724.8 L143,724.7 L140,724.7 L137,724.7 L134,724.7 L131,724.7 L128,724.7 L125,724.7 L122,724.7 L119,724.7 L116,724.7 L113,724.7 L110,724.7 L107,724.7 L104,724.7 L101,724.6 Z" fill="url(#gC)"/>
<path d="M37,724.6 L39,724.6 L41,724.6 L43,724.6 L45,724.6 L47,724.6 L49,724.6 L51,724.6 L53,724.6 L55,724.6 L57,724.6 L59,724.6 L61,724.6 L63,724.6 L65,724.6 L67,724.6 L69,724.6 L71,724.6 L73,724.6 L75,724.6 L77,724.6 L79,724.6 L81,724.6 L83,724.6 L85,724.6 L87,724.6 L89,724.6 L91,724.6 L93,724.6 L95,724.6 L97,724.6 L99,724.6 L101,724.6 L103,724.7 L105,724.7 L107,724.7 L109,724.7 L111,724.7 L113,724.7 L115,724.7 L117,724.7 L119,724.7 L121,724.7 L123,724.7 L125,724.7 L127,724.7 L129,724.7 L131,724.7 L133,724.7 L135,724.7 L137,724.7 L139,724.7 L141,724.7 L143,724.7 L145,724.8 L147,724.8 L149,724.8 L151,724.8 L153,724.8 L155,724.8 L157,724.8 L159,724.8 L161,724.8 L163,724.8 L165,724.8 L167,724.8 L169,724.8 L171,724.8 L173,724.9 L175,724.9 L177,724.9 L179,724.9 L181,724.9 L183,724.9 L185,724.9 L187,724.9 L189,724.9 L191,724.9 L193,724.9 L195,725 L197,725 L199,725 L201,725 L203,725 L205,725 L207,725 L209,725 L211,725.1 L213,725.1 L215,725.1 L217,725.1 L219,725.1 L221,725.1 L223,725.1 L225,725.2 L227,725.2 L229,725.2 L231,725.2 L233,725.2 L235,725.2 L237,725.3 L239,725.3 L241,725.3 L243,725.3 L245,725.3 L247,725.3 L249,725.4 L251,725.4 L253,725.4 L255,725.4 L257,725.5 L259,725.5 L261,725.5 L263,725.5 L265,725.5 L267,725.6 L269,725.6 L271,725.6 L273,725.6 L275,725.7 L277,725.7 L279,725.7 L281,725.7 L283,725.8 L285,725.8 L287,725.8 L289,725.9 L291,725.9 L293,725.9 L295,725.9 L297,726 L299,726 L301,726 L303,726.1 L305,726.1 L307,726.1 L309,726.2 L311,726.2 L313,726.2 L315,726.3 L317,726.3 L319,726.3 L321,726.4 L323,726.4 L325,726.5 L327,726.5 L329,726.5 L331,726.6 L333,726.6 L335,726.7 L337,726.7 L339,726.7 L341,726.8 L343,726.8 L345,726.9 L347,726.9 L349,726.9 L351,727 L353,727 L355,727.1 L357,727.1 L359,727.2 L361,727.2 L363,727.2 L365,727.3 L367,727.3 L369,727.4 L371,727.4 L373,727.5 L375,727.5 L377,727.6 L379,727.6 L381,727.7 L383,727.7 L385,727.7 L387,727.8 L389,727.8 L391,727.9 L393,727.9 L395,728 L397,728 L399,728.1 L401,728.1 L403,728.2 L405,728.2 L407,728.3 L409,728.3 L411,728.4 L413,728.4 L415,728.4 L417,728.5 L419,728.5 L421,728.6 L423,728.6 L425,728.7 L427,728.7 L429,728.8 L431,728.8 L433,728.9 L435,728.9 L437,728.9 L439,729 L441,729 L443,729.1 L445,729.1 L447,729.2 L449,729.2 L451,729.2 L453,729.3 L455,729.3 L457,729.4 L459,729.4 L461,729.4 L463,729.5 L465,729.5 L467,729.5 L469,729.6 L471,729.6 L473,729.7 L475,729.7 L477,729.7 L479,729.8 L481,729.8 L483,729.8 L485,729.9 L487,729.9 L489,729.9 L491,730 L493,730 L495,730 L497,730.1 L499,730.1 L501,730.1 L503,730.1 L505,730.2 L507,730.2 L509,730.2 L511,730.3 L513,730.3 L515,730.3 L517,730.3 L519,730.4 L521,730.4 L523,730.4 L525,730.4 L527,730.5 L529,730.5 L531,730.5 L533,730.5" fill="none" stroke="#b4b4b4" stroke-width="1.6"/>
<path d="M96,723.8 L97,723.8 L98,723.8 L99,723.8 L100,723.8 L101,723.8 L102,723.8 L103,723.8 L104,723.8 L105,723.8 L106,723.8 L107,723.8 L108,723.8 L109,723.8 L110,723.8 L111,723.7 L112,723.7 L113,723.7 L114,723.7 L115,723.7 L116,723.7 L117,723.7 L118,723.7 L119,723.7 L120,723.7 L121,723.7 L122,723.7 L123,723.7 L124,723.6 L125,723.6 L126,723.6 L127,723.6 L128,723.6 L129,723.6 L130,723.6 L131,723.6 L132,723.6 L133,723.6 L134,723.6 L135,723.5 L136,723.5 L137,723.5 L138,723.5 L139,723.5 L140,723.5 L141,723.5 L142,723.5 L143,723.5 L144,723.5 L145,723.4 L146,723.4 L147,723.4 L148,723.4 L149,723.4 L150,723.4 L151,723.4 L152,723.4 L153,723.3 L154,723.3 L155,723.3 L156,723.3 L157,723.3 L158,723.3 L159,723.3 L160,723.2 L161,723.2 L162,723.2 L163,723.2 L164,723.2 L165,723.2 L166,723.1 L167,723.1 L168,723.1 L169,723.1 L170,723.1 L171,723 L172,723 L173,723 L174,723 L175,723 L176,722.9 L177,722.9 L178,722.9 L179,722.9 L180,722.8 L181,722.8 L182,722.8 L183,722.8 L184,722.7 L185,722.7 L186,722.7 L187,722.7 L188,722.6 L189,722.6 L190,722.6 L191,722.5 L192,722.5 L193,722.5 L194,722.4 L195,722.4 L196,722.3 L197,722.3 L198,722.3 L199,722.2 L200,722.2 L201,722.1 L202,722.1 L203,722 L204,722 L205,721.9 L206,721.8 L207,721.8 L208,721.7 L209,721.6 L210,721.6 L211,721.5 L212,721.4 L213,721.3 L214,721.2 L215,721.1 L216,721 L217,720.9 L218,720.8 L219,720.7 L220,720.6 L221,720.5 L222,720.3 L223,720.2 L224,720 L225,719.9 L226,719.7 L227,719.5 L228,719.3 L229,719.1 L230,718.9 L231,718.7 L232,718.4 L233,718.2 L234,717.9 L235,717.6 L236,717.3 L237,717 L238,716.7 L239,716.4 L240,716 L241,715.6 L242,715.2 L243,714.8 L244,714.4 L245,713.9 L246,713.4 L247,712.9 L248,712.4 L249,711.8 L250,711.2 L251,710.6 L252,710 L253,709.3 L254,708.7 L255,707.9 L256,707.2 L257,706.4 L258,705.6 L259,704.8 L260,704 L261,703.1 L262,702.2 L263,701.2 L264,700.3 L265,699.3 L266,698.2 L267,697.2 L268,696.1 L269,695 L270,693.8 L271,692.7 L272,691.5 L273,690.3 L274,689 L275,687.8 L276,686.5 L277,685.2 L278,683.9 L279,682.5 L280,681.2 L281,679.8 L282,678.4 L283,677.1 L284,675.7 L285,674.3 L286,672.9 L287,671.5 L288,670.1 L289,668.7 L290,667.4 L291,666 L292,664.7 L293,663.3 L294,662 L295,660.8 L296,659.5 L297,658.3 L298,657.2 L299,656.1 L300,655 L301,654 L302,653 L303,652.1 L304,651.3 L305,650.5 L306,649.8 L307,649.2 L308,648.6 L309,648.2 L310,647.8 L311,647.5 L312,647.3 L313,647.2 L314,647.1 L315,647.2 L316,647.4 L317,647.7 L318,648.2 L319,648.8 L320,649.6 L321,650.4 L322,651.4 L323,652.4 L324,653.6 L325,654.8 L326,656.1 L327,657.5 L328,658.9 L329,660.3 L330,661.9 L331,663.4 L332,664.9 L333,666.5 L334,668.1 L335,669.6 L336,671.2 L337,672.8 L338,674.3 L339,675.9 L340,677.4 L341,678.9 L342,680.3 L343,681.8 L344,683.2 L345,684.5 L346,685.9 L347,687.2 L348,688.5 L349,689.7 L350,690.9 L351,692.1 L352,693.2 L353,694.3 L354,695.4 L355,696.4 L356,697.4 L357,698.4 L358,699.3 L359,700.2 L360,701.1 L361,701.9 L362,702.8 L363,703.5 L364,704.3 L365,705 L366,705.7 L367,706.4 L368,707.1 L369,707.7 L370,708.3 L371,708.9 L372,709.5 L373,710 L374,710.6 L375,711.1 L376,711.5 L377,712 L378,712.5 L379,712.9 L380,713.3 L381,713.7 L382,714.1 L383,714.5 L384,714.9 L385,715.2 L386,715.6 L387,715.9 L388,716.2 L389,716.5 L390,716.8 L391,717.1 L392,717.4 L393,717.6 L394,717.9 L395,718.1 L396,718.4 L397,718.6 L398,718.8 L399,719.1 L400,719.3 L401,719.5 L402,719.7 L403,719.9 L404,720.1 L405,720.3 L406,720.4 L407,720.6 L408,720.8 L409,721 L410,721.1 L411,721.3 L412,721.4 L413,721.6 L414,721.7 L415,721.9 L416,722 L417,722.2 L418,722.3 L419,722.4 L420,722.6 L421,722.7 L422,722.8 L423,722.9 L424,723 L425,723.2 L426,723.3 L427,723.4 L428,723.5 L429,723.6 L430,723.7 L431,723.8 L432,723.9 L433,724 L434,724.1 L435,724.2 L436,724.3 L437,724.4 L438,724.5 L439,724.6 L440,724.6 L441,724.7 L442,724.8 L443,724.9 L444,725 L445,725.1 L446,725.1 L447,725.2 L448,725.3 L449,725.4 L450,725.4 L451,725.5 L452,725.6 L453,725.7 L454,725.7 L455,725.8 L456,725.9 L457,725.9 L458,726 L459,726.1 L460,726.1 L461,726.2 L462,726.2 L463,726.3 L464,726.4 L465,726.4 L466,726.5 L467,726.5 L468,726.6 L469,726.6 L470,726.7 L471,726.7 L472,726.8 L473,726.9 L474,726.9 L475,727 L476,727 L477,727.1 L478,727.1 L479,727.2 L480,727.2 L481,727.2 L482,727.3 L483,727.3 L484,727.4 L485,727.4 L486,727.5 L487,727.5 L488,727.6 L489,727.6 L490,727.6 L491,727.7 L492,727.7 L493,727.8 L494,727.8 L495,727.8 L496,727.9 L497,727.9 L498,728 L499,728 L500,728 L501,728.1 L502,728.1 L503,728.1 L504,728.2 L505,728.2 L506,728.2 L507,728.3 L508,728.3 L509,728.3 L510,728.4 L511,728.4 L512,728.4 L513,728.5 L514,728.5 L515,728.5 L516,728.6 L517,728.6 L518,728.6 L519,728.6 L520,728.7 L521,728.7 L522,728.7 L523,728.8 L524,728.8 L525,728.8 L526,728.8 L527,728.9 L528,728.9 L529,728.9 L530,728.9 L531,729 L532,729 L533,729 L534,729" fill="none" stroke="#b8f0b8" stroke-width="1"/>
<path d="M213,724.3 L214,724.3 L215,724.2 L216,724.2 L217,724.2 L218,724.2 L219,724.2 L220,724.2 L221,724.2 L222,724.2 L223,724.2 L224,724.2 L225,724.2 L226,724.2 L227,724.2 L228,724.2 L229,724.2 L230,724.2 L231,724.1 L232,724.1 L233,724.1 L234,724.1 L235,724.1 L236,724.1 L237,724.1 L238,724.1 L239,724.1 L240,724.1 L241,724 L242,724 L243,724 L244,724 L245,724 L246,724 L247,724 L248,723.9 L249,723.9 L250,723.9 L251,723.9 L252,723.9 L253,723.8 L254,723.8 L255,723.8 L256,723.8 L257,723.8 L258,723.7 L259,723.7 L260,723.7 L261,723.7 L262,723.6 L263,723.6 L264,723.6 L265,723.5 L266,723.5 L267,723.5 L268,723.4 L269,723.4 L270,723.4 L271,723.3 L272,723.3 L273,723.2 L274,723.2 L275,723.1 L276,723.1 L277,723 L278,722.9 L279,722.9 L280,722.8 L281,722.7 L282,722.6 L283,722.6 L284,722.5 L285,722.4 L286,722.2 L287,722.1 L288,722 L289,721.9 L290,721.7 L291,721.5 L292,721.4 L293,721.2 L294,720.9 L295,720.7 L296,720.5 L297,720.2 L298,719.9 L299,719.6 L300,719.2 L301,718.8 L302,718.4 L303,718 L304,717.5 L305,717 L306,716.4 L307,715.8 L308,715.2 L309,714.5 L310,713.7 L311,712.9 L312,712.1 L313,711.2 L314,710.2 L315,709.2 L316,708.1 L317,707 L318,705.8 L319,704.5 L320,703.2 L321,701.8 L322,700.3 L323,698.9 L324,697.3 L325,695.7 L326,694 L327,692.3 L328,690.6 L329,688.8 L330,687 L331,685.2 L332,683.3 L333,681.5 L334,679.6 L335,677.7 L336,675.9 L337,674.1 L338,672.3 L339,670.6 L340,668.9 L341,667.4 L342,665.9 L343,664.5 L344,663.3 L345,662.2 L346,661.2 L347,660.4 L348,659.8 L349,659.3 L350,659.1 L351,659 L352,659.2 L353,659.7 L354,660.5 L355,661.6 L356,662.9 L357,664.5 L358,666.4 L359,668.4 L360,670.6 L361,672.9 L362,675.3 L363,677.8 L364,680.4 L365,683 L366,685.6 L367,688.2 L368,690.8 L369,693.3 L370,695.7 L371,698.1 L372,700.4 L373,702.6 L374,704.7 L375,706.6 L376,708.5 L377,710.2 L378,711.8 L379,713.3 L380,714.7 L381,716 L382,717.2 L383,718.2 L384,719.2 L385,720.1 L386,720.8 L387,721.6 L388,722.2 L389,722.8 L390,723.3 L391,723.7 L392,724.1 L393,724.5 L394,724.8 L395,725.1 L396,725.3 L397,725.6 L398,725.8 L399,725.9 L400,726.1 L401,726.2 L402,726.4 L403,726.5 L404,726.6 L405,726.7 L406,726.8 L407,726.9 L408,727 L409,727 L410,727.1 L411,727.2 L412,727.2 L413,727.3 L414,727.3 L415,727.4 L416,727.5 L417,727.5 L418,727.6 L419,727.6 L420,727.7 L421,727.7 L422,727.8 L423,727.8 L424,727.8" fill="none" stroke="#b8f4f4" stroke-width="1"/>
<path d="M37,722 L38.2,723.3 L41.8,724 L45.5,717.5 L48.4,714.3 L51.3,720.4 L54.2,729.1 L57.8,724.7 L62.2,721.8 L68,721.8 L73.8,722.5 L78.2,727.6 L81.1,726.9 L84,718.9 L86.9,717.7 L89.8,724 L92.7,721.8 L95.6,720.1 L97.8,721.8 L101.5,717.5 L105.8,718.6 L110.2,717.2 L113.1,718.2 L116.5,723.3 L119.5,722.5 L121.6,717.2 L124.5,721.8 L128.2,722.5 L131.8,716 L135.5,710.9 L139.1,716 L142.7,721.8 L145.6,722.1 L149.3,714.5 L151.5,713.1 L154.4,716 L158,719.6 L161.6,718.9 L165.3,714.3 L167.5,718.2 L170.4,714.3 L174,714.3 L176.9,719.6 L180.5,719.6 L183.5,717.5 L185.6,711.3 L187.2,711.1 L190.8,714.7 L194.5,719.1 L198.1,714 L201,714 L203.9,719.8 L208.3,716.9 L214.1,714.7 L219.9,713.3 L223.5,709.6 L226.5,711.8 L229.4,708.9 L232.3,712.5 L235.2,708.2 L239.5,710.4 L243.2,711.8 L247.5,709.6 L251.2,708.2 L254.8,700.9 L259.2,698.7 L262.1,703.8 L264.4,704.3 L268.8,695.4 L273.2,685.2 L279.1,677.8 L283,672 L287.9,663.1 L290.8,661.7 L293.8,664.6 L297,653 L301.1,645.5 L304,642.6 L308.5,644 L311.4,638.2 L314,634 L317.3,629.4 L321.7,626.4 L326.1,630.1 L328.7,618.3 L333.1,619 L337.5,611.7 L341.1,617.5 L345.5,614.6 L351.3,616.8 L354.9,628.5 L359.3,635.7 L363.6,643 L365.1,648.8 L368,655 L371,668 L374,677 L377,688 L380,692.4 L385.8,701.1 L390.2,711.3 L394.5,710.5 L398.2,712.7 L401.8,715.6 L405.5,717.1 L410.5,714.2 L414.9,721.5 L419.3,729.5 L422.9,725.8 L426.5,728 L430.2,725.8 L433.8,718.5 L437.5,722.9 L441.1,725.8 L443.3,732.4 L446.9,722.9 L451.3,724.4 L454.9,733.8 L457.9,729.5 L460.8,726.5 L463.7,729.5 L466.6,725.8 L469.5,729.5 L471.7,722.2 L474.6,722.9 L478,716.4 L481.2,722.2 L484.8,723.6 L487,727.3 L492.8,712 L497.2,717.1 L501.5,727.3 L504.5,728 L507.4,722.2 L511,725.1 L513.2,728.7 L517.5,725.1 L521.9,721.5 L525.5,720 L528.5,722.2 L530.6,728.7 L533.5,736.7" fill="none" stroke="#8a8a8a" stroke-width="1.6" stroke-linejoin="round"/>
<path d="M37,722.8 L38,722.8 L39,722.8 L40,722.8 L41,722.8 L42,722.7 L43,722.7 L44,722.7 L45,722.7 L46,722.7 L47,722.7 L48,722.7 L49,722.7 L50,722.6 L51,722.6 L52,722.6 L53,722.6 L54,722.6 L55,722.6 L56,722.6 L57,722.6 L58,722.5 L59,722.5 L60,722.5 L61,722.5 L62,722.5 L63,722.5 L64,722.5 L65,722.4 L66,722.4 L67,722.4 L68,722.4 L69,722.4 L70,722.4 L71,722.4 L72,722.3 L73,722.3 L74,722.3 L75,722.3 L76,722.3 L77,722.3 L78,722.2 L79,722.2 L80,722.2 L81,722.2 L82,722.2 L83,722.2 L84,722.1 L85,722.1 L86,722.1 L87,722.1 L88,722.1 L89,722 L90,722 L91,722 L92,722 L93,722 L94,721.9 L95,721.9 L96,721.9 L97,721.9 L98,721.9 L99,721.8 L100,721.8 L101,721.8 L102,721.8 L103,721.8 L104,721.7 L105,721.7 L106,721.7 L107,721.7 L108,721.6 L109,721.6 L110,721.6 L111,721.6 L112,721.5 L113,721.5 L114,721.5 L115,721.5 L116,721.4 L117,721.4 L118,721.4 L119,721.3 L120,721.3 L121,721.3 L122,721.3 L123,721.2 L124,721.2 L125,721.2 L126,721.1 L127,721.1 L128,721.1 L129,721 L130,721 L131,721 L132,721 L133,720.9 L134,720.9 L135,720.8 L136,720.8 L137,720.8 L138,720.7 L139,720.7 L140,720.7 L141,720.6 L142,720.6 L143,720.5 L144,720.5 L145,720.5 L146,720.4 L147,720.4 L148,720.3 L149,720.3 L150,720.3 L151,720.2 L152,720.2 L153,720.1 L154,720.1 L155,720 L156,720 L157,719.9 L158,719.9 L159,719.8 L160,719.8 L161,719.7 L162,719.7 L163,719.6 L164,719.6 L165,719.5 L166,719.4 L167,719.4 L168,719.3 L169,719.3 L170,719.2 L171,719.1 L172,719.1 L173,719 L174,718.9 L175,718.9 L176,718.8 L177,718.7 L178,718.7 L179,718.6 L180,718.5 L181,718.4 L182,718.4 L183,718.3 L184,718.2 L185,718.1 L186,718 L187,718 L188,717.9 L189,717.8 L190,717.7 L191,717.6 L192,717.5 L193,717.4 L194,717.3 L195,717.2 L196,717.1 L197,717 L198,716.9 L199,716.8 L200,716.7 L201,716.6 L202,716.5 L203,716.3 L204,716.2 L205,716.1 L206,716 L207,715.8 L208,715.7 L209,715.6 L210,715.4 L211,715.3 L212,715.1 L213,715 L214,714.8 L215,714.7 L216,714.5 L217,714.3 L218,714.2 L219,714 L220,713.8 L221,713.6 L222,713.4 L223,713.2 L224,713 L225,712.8 L226,712.6 L227,712.4 L228,712.2 L229,711.9 L230,711.7 L231,711.5 L232,711.2 L233,710.9 L234,710.7 L235,710.4 L236,710.1 L237,709.8 L238,709.5 L239,709.2 L240,708.9 L241,708.5 L242,708.2 L243,707.8 L244,707.4 L245,707.1 L246,706.7 L247,706.2 L248,705.8 L249,705.4 L250,704.9 L251,704.4 L252,703.9 L253,703.4 L254,702.9 L255,702.4 L256,701.8 L257,701.2 L258,700.6 L259,699.9 L260,699.3 L261,698.6 L262,697.9 L263,697.2 L264,696.4 L265,695.6 L266,694.8 L267,694 L268,693.1 L269,692.2 L270,691.2 L271,690.3 L272,689.3 L273,688.2 L274,687.2 L275,686.1 L276,684.9 L277,683.7 L278,682.5 L279,681.3 L280,680 L281,678.7 L282,677.3 L283,675.9 L284,674.5 L285,673.1 L286,671.6 L287,670.1 L288,668.5 L289,667 L290,665.4 L291,663.8 L292,662.2 L293,660.6 L294,659 L295,657.4 L296,655.8 L297,654.2 L298,652.7 L299,651.2 L300,649.7 L301,648.3 L302,646.9 L303,645.6 L304,644.3 L305,643.1 L306,642 L307,640.9 L308,639.9 L309,638.9 L310,638 L311,637 L312,636.1 L313,635.1 L314,634.2 L315,633.2 L316,632.3 L317,631.4 L318,630.5 L319,629.5 L320,628.6 L321,627.7 L322,626.8 L323,626 L324,625.1 L325,624.2 L326,623.4 L327,622.6 L328,621.8 L329,621 L330,620.3 L331,619.6 L332,618.9 L333,618.3 L334,617.7 L335,617.1 L336,616.7 L337,616.3 L338,615.9 L339,615.6 L340,615.5 L341,615.3 L342,615.3 L343,615.4 L344,615.5 L345,615.8 L346,616.1 L347,616.5 L348,617.1 L349,617.8 L350,618.7 L351,619.8 L352,621.1 L353,622.7 L354,624.4 L355,626.3 L356,628.4 L357,630.6 L358,633 L359,635.5 L360,638.2 L361,640.9 L362,643.7 L363,646.6 L364,649.6 L365,652.6 L366,655.6 L367,658.6 L368,661.6 L369,664.6 L370,667.6 L371,670.5 L372,673.4 L373,676.1 L374,678.9 L375,681.5 L376,684 L377,686.5 L378,688.8 L379,691.1 L380,693.2 L381,695.2 L382,697.2 L383,699 L384,700.7 L385,702.3 L386,703.9 L387,705.3 L388,706.6 L389,707.8 L390,709 L391,710.1 L392,711.1 L393,712 L394,712.8 L395,713.6 L396,714.3 L397,715 L398,715.6 L399,716.2 L400,716.7 L401,717.2 L402,717.7 L403,718.1 L404,718.5 L405,718.9 L406,719.2 L407,719.5 L408,719.8 L409,720.1 L410,720.4 L411,720.6 L412,720.8 L413,721.1 L414,721.3 L415,721.5 L416,721.7 L417,721.8 L418,722 L419,722.2 L420,722.3 L421,722.5 L422,722.6 L423,722.8 L424,722.9 L425,723.1 L426,723.2 L427,723.3 L428,723.4 L429,723.6 L430,723.7 L431,723.8 L432,723.9 L433,724 L434,724.1 L435,724.2 L436,724.3 L437,724.4 L438,724.5 L439,724.6 L440,724.7 L441,724.8 L442,724.9 L443,724.9 L444,725 L445,725.1 L446,725.2 L447,725.3 L448,725.3 L449,725.4 L450,725.5 L451,725.6 L452,725.6 L453,725.7 L454,725.8 L455,725.8 L456,725.9 L457,726 L458,726 L459,726.1 L460,726.2 L461,726.2 L462,726.3 L463,726.3 L464,726.4 L465,726.5 L466,726.5 L467,726.6 L468,726.6 L469,726.7 L470,726.7 L471,726.8 L472,726.8 L473,726.9 L474,726.9 L475,727 L476,727 L477,727.1 L478,727.1 L479,727.2 L480,727.2 L481,727.3 L482,727.3 L483,727.4 L484,727.4 L485,727.4 L486,727.5 L487,727.5 L488,727.6 L489,727.6 L490,727.6 L491,727.7 L492,727.7 L493,727.8 L494,727.8 L495,727.8 L496,727.9 L497,727.9 L498,727.9 L499,728 L500,728 L501,728 L502,728.1 L503,728.1 L504,728.2 L505,728.2 L506,728.2 L507,728.2 L508,728.3 L509,728.3 L510,728.3 L511,728.4 L512,728.4 L513,728.4 L514,728.5 L515,728.5 L516,728.5 L517,728.6 L518,728.6 L519,728.6 L520,728.6 L521,728.7 L522,728.7 L523,728.7 L524,728.7 L525,728.8 L526,728.8 L527,728.8 L528,728.9 L529,728.9 L530,728.9 L531,728.9 L532,728.9 L533,729 L534,729" fill="none" stroke="url(#eB2)" stroke-width="1.8"/>
</g>
<rect x="85" y="14" width="117.30000000000001" height="93.5" fill="#fff" stroke="none"/>
<g clip-path="url(#cIn)">
<path d="M85,101.6 L100,101.2 L115,100.4 L127.6,99.2 L140,97.6 L149.5,95.6 L157,93 L163.6,90.3 L170,87.9 L175.5,85.6 L181,82.8 L187.3,79.6 L195,75.5 L202.3,72 L202.3,107.4 L150,105.5 L85,102.6 Z" fill="#a2a2f0" fill-opacity="0.9"/>
<path d="M85,100.3 L95,99.2 L105.8,98.2 L117,97.1 L124,96.3 L130,95.9 L136,95.9 L142,96.4 L150,97.5 L160.4,99.4 L170,101.4 L182.2,103.9 L192,105.7 L202.3,107.3 L202.3,107.4 L150,105.5 L85,102.6 Z" fill="#f0889a" fill-opacity="0.7"/>
<path d="M85,98.2 L100,97.5 L115,96.6 L130,95.3 L140,94.8 L149.5,94.1 L157,92.6 L164,90.2 L170,87.9 L176,85.5" fill="none" stroke="#c4f6f6" stroke-width="1.6"/>
<path d="M85,95.5 L91.3,94 L98.5,92.5 L105.8,90.7 L113.1,88.9 L120.4,87 L131.8,83 L142.7,79.2 L153.6,75.8 L164.5,72.3 L173.1,68.8 L181.4,63.1 L189.6,54.8 L196.7,46.5 L202.3,38.6" fill="none" stroke="#3a3a3a" stroke-width="1.1"/>
<path d="M85,96 L88.3,92.9 L91.6,97.1 L94.9,92.8 L98.2,89.6 L101.5,92.8 L104.8,94.3 L108.1,89.1 L111.4,86.1 L114.7,89.3 L118,90.6 L121.3,85.9 L124.6,82.1 L127.9,85.9 L131.2,85.8 L134.5,79.7 L137.8,81.1 L141.1,83 L144.4,77.5 L147.7,74.6 L151,77.8 L154.3,78.6 L157.6,73.9 L160.9,70.9 L164.2,73.2 L167.5,73.5 L170.8,67.7 L174.1,68.7 L177.4,67.8 L180.7,62 L184,60.9 L187.3,58.7 L190.6,52.4 L193.9,50.4 L197.2,45 L200.5,41.6" fill="none" stroke="#707070" stroke-width="0.9"/>
<line x1="121.4" y1="75.5" x2="141.2" y2="103" stroke="#555" stroke-width="0.6"/>
<circle cx="121.4" cy="75.5" r="0.9" fill="#333"/>
<line x1="171.3" y1="59" x2="191.4" y2="90.9" stroke="#555" stroke-width="0.6"/>
<circle cx="171.3" cy="59" r="0.9" fill="#333"/>
</g>
<rect x="85" y="14" width="117.30000000000001" height="93.5" fill="none" stroke="#a0a0a0" stroke-width="1.3"/>
<line x1="85" y1="107.5" x2="85" y2="105.3" stroke="#888" stroke-width="0.8"/>
<line x1="96.7" y1="107.5" x2="96.7" y2="106.1" stroke="#888" stroke-width="0.8"/>
<line x1="108.5" y1="107.5" x2="108.5" y2="105.3" stroke="#888" stroke-width="0.8"/>
<line x1="120.2" y1="107.5" x2="120.2" y2="106.1" stroke="#888" stroke-width="0.8"/>
<line x1="131.9" y1="107.5" x2="131.9" y2="105.3" stroke="#888" stroke-width="0.8"/>
<line x1="143.7" y1="107.5" x2="143.7" y2="106.1" stroke="#888" stroke-width="0.8"/>
<line x1="155.4" y1="107.5" x2="155.4" y2="105.3" stroke="#888" stroke-width="0.8"/>
<line x1="167.1" y1="107.5" x2="167.1" y2="106.1" stroke="#888" stroke-width="0.8"/>
<line x1="178.8" y1="107.5" x2="178.8" y2="105.3" stroke="#888" stroke-width="0.8"/>
<line x1="190.6" y1="107.5" x2="190.6" y2="106.1" stroke="#888" stroke-width="0.8"/>
<line x1="202.3" y1="107.5" x2="202.3" y2="105.3" stroke="#888" stroke-width="0.8"/>
<text x="85" y="119.2" font-size="12" text-anchor="middle" textLength="14.9" lengthAdjust="spacingAndGlyphs" fill="#222">293</text>
<text x="108.5" y="119.2" font-size="12" text-anchor="middle" textLength="14.9" lengthAdjust="spacingAndGlyphs" fill="#222">292</text>
<text x="131.9" y="119.2" font-size="12" text-anchor="middle" textLength="14.9" lengthAdjust="spacingAndGlyphs" fill="#222">291</text>
<text x="155.4" y="119.2" font-size="12" text-anchor="middle" textLength="14.9" lengthAdjust="spacingAndGlyphs" fill="#222">290</text>
<text x="178.8" y="119.2" font-size="12" text-anchor="middle" textLength="14.9" lengthAdjust="spacingAndGlyphs" fill="#222">289</text>
<text x="202.3" y="119.2" font-size="12" text-anchor="middle" textLength="14.9" lengthAdjust="spacingAndGlyphs" fill="#222">288</text>
<text x="99.2" y="58" font-size="8.8" text-anchor="start" textLength="25.2" lengthAdjust="spacingAndGlyphs" fill="#222" stroke="#222" stroke-width="0.15">C &#960;/&#960;*</text>
<text x="99.2" y="71.5" font-size="8.8" text-anchor="start" textLength="37.3" lengthAdjust="spacingAndGlyphs" fill="#222" stroke="#222" stroke-width="0.15">290.60 eV</text>
<text x="147.9" y="40.7" font-size="8.8" text-anchor="start" textLength="17.7" lengthAdjust="spacingAndGlyphs" fill="#222" stroke="#222" stroke-width="0.15">C=O</text>
<text x="147.9" y="54.3" font-size="8.8" text-anchor="start" textLength="37.4" lengthAdjust="spacingAndGlyphs" fill="#222" stroke="#222" stroke-width="0.15">287.80 eV</text>
<g fill="none" stroke="#ee2222" stroke-width="1.5" stroke-dasharray="5,3">
<ellipse cx="213.9" cy="149.4" rx="70.6" ry="13.4"/>
<line x1="79" y1="121.8" x2="142.7" y2="149"/>
<line x1="213" y1="123" x2="282" y2="146.5"/>
</g>
<line x1="198.6" y1="153.2" x2="227.1" y2="133" stroke="#3a3a3a" stroke-width="0.9"/><path d="M234,128.1 L228.6,135.1 L225.6,130.9 Z" fill="#000"/>
<line x1="281.8" y1="146.4" x2="299.5" y2="122.4" stroke="#3a3a3a" stroke-width="0.9"/><path d="M304.5,115.5 L301.6,123.9 L297.4,120.8 Z" fill="#000"/>
<line x1="370.6" y1="94.2" x2="329.7" y2="70.1" stroke="#3a3a3a" stroke-width="0.9"/><path d="M322.4,65.8 L331,67.9 L328.4,72.4 Z" fill="#000"/>
<line x1="396.3" y1="111.8" x2="436.9" y2="85.1" stroke="#3a3a3a" stroke-width="0.9"/><path d="M444,80.4 L438.3,87.2 L435.5,82.9 Z" fill="#000"/>
<line x1="229.7" y1="333.1" x2="216.9" y2="318.4" stroke="#3a3a3a" stroke-width="0.9"/><path d="M211.3,312 L218.8,316.7 L214.9,320.1 Z" fill="#000"/>
<line x1="356.8" y1="292.7" x2="337.2" y2="264.5" stroke="#3a3a3a" stroke-width="0.9"/><path d="M332.3,257.5 L339.3,263 L335,266 Z" fill="#000"/>
<line x1="401.5" y1="275.1" x2="416" y2="264.9" stroke="#3a3a3a" stroke-width="0.9"/><path d="M423,260 L417.5,267 L414.5,262.8 Z" fill="#000"/>
<line x1="141.4" y1="537.5" x2="140.8" y2="533.4" stroke="#3a3a3a" stroke-width="0.9"/><path d="M139.6,525 L143.4,533 L138.2,533.8 Z" fill="#000"/>
<line x1="340" y1="481.8" x2="377.6" y2="475.3" stroke="#3a3a3a" stroke-width="0.9"/><path d="M386,473.8 L378.1,477.8 L377.2,472.7 Z" fill="#000"/>
<line x1="299" y1="674.4" x2="254.7" y2="664.8" stroke="#3a3a3a" stroke-width="0.9"/><path d="M246.4,663 L255.3,662.3 L254.2,667.3 Z" fill="#000"/>
<line x1="350.5" y1="670.6" x2="392.3" y2="657.1" stroke="#3a3a3a" stroke-width="0.9"/><path d="M400.4,654.5 L393.1,659.6 L391.5,654.6 Z" fill="#000"/>
<text x="223.5" y="105.3" font-size="14.6" text-anchor="start" textLength="43.1" lengthAdjust="spacingAndGlyphs">C <tspan stroke="#1a1a1a" stroke-width="0.3">&#960;</tspan>/<tspan stroke="#1a1a1a" stroke-width="0.3">&#960;</tspan>*</text>
<text x="223.2" y="127.1" font-size="14.6" text-anchor="start" textLength="62.6" lengthAdjust="spacingAndGlyphs">290.60 eV</text>
<text x="281.9" y="89.1" font-size="14.6" text-anchor="start" textLength="29.9" lengthAdjust="spacingAndGlyphs">C=O</text>
<text x="281.9" y="111" font-size="14.6" text-anchor="start" textLength="62.5" lengthAdjust="spacingAndGlyphs">287.80 eV</text>
<text x="290.1" y="39" font-size="14.6" text-anchor="start" textLength="54.7" lengthAdjust="spacingAndGlyphs">C HOPG</text>
<text x="290.1" y="60.9" font-size="14.6" text-anchor="start" textLength="62.0" lengthAdjust="spacingAndGlyphs">284.50 eV</text>
<text x="456.9" y="78.7" font-size="14.6" text-anchor="start" textLength="27.7" lengthAdjust="spacingAndGlyphs">C sp</text>
<text x="484.2" y="70.6" font-size="14.6" text-anchor="start" textLength="6.8" lengthAdjust="spacingAndGlyphs">2</text>
<text x="456.9" y="100.5" font-size="14.6" text-anchor="start" textLength="62.1" lengthAdjust="spacingAndGlyphs">284.00 eV</text>
<text x="279.6" y="227.3" font-size="14.6" text-anchor="start" textLength="55.2" lengthAdjust="spacingAndGlyphs">C HOPG</text>
<text x="279.6" y="249.5" font-size="14.6" text-anchor="start" textLength="62.1" lengthAdjust="spacingAndGlyphs">284.50 eV</text>
<text x="433.2" y="253.8" font-size="14.6" text-anchor="start" textLength="27.7" lengthAdjust="spacingAndGlyphs">C sp</text>
<text x="460.7" y="245.4" font-size="14.6" text-anchor="start" textLength="6.8" lengthAdjust="spacingAndGlyphs">2</text>
<text x="433.2" y="275.4" font-size="14.6" text-anchor="start" textLength="62.1" lengthAdjust="spacingAndGlyphs">284.00 eV</text>
<text x="193.8" y="289.1" font-size="14.6" text-anchor="start" textLength="42.0" lengthAdjust="spacingAndGlyphs">COOR</text>
<text x="193.8" y="310.9" font-size="14.6" text-anchor="start" textLength="62.8" lengthAdjust="spacingAndGlyphs">288.90 eV</text>
<text x="102.2" y="497.5" font-size="14.1" text-anchor="start" textLength="43.7" lengthAdjust="spacingAndGlyphs">N <tspan stroke="#1a1a1a" stroke-width="0.4">&#960;</tspan>/<tspan stroke="#1a1a1a" stroke-width="0.4">&#960;</tspan><tspan stroke="#1a1a1a" stroke-width="0.5">*</tspan></text>
<text x="149.4" y="497.5" font-size="14.1" text-anchor="start" textLength="45.9" lengthAdjust="spacingAndGlyphs" stroke="#1a1a1a" stroke-width="0.2">satellite</text>
<text x="102.2" y="519.1" font-size="14.1" text-anchor="start" textLength="58.6" lengthAdjust="spacingAndGlyphs">405.30 eV</text>
<text x="390.5" y="462.3" font-size="14.1" text-anchor="start" textLength="35.8" lengthAdjust="spacingAndGlyphs">O-NR</text>
<text x="390.5" y="484.1" font-size="14.1" text-anchor="start" textLength="60.3" lengthAdjust="spacingAndGlyphs">398.55 eV</text>
<text x="218" y="635.8" font-size="14.1" text-anchor="start" textLength="27.0" lengthAdjust="spacingAndGlyphs">N-H</text>
<text x="218" y="657.8" font-size="14.1" text-anchor="start" textLength="61.4" lengthAdjust="spacingAndGlyphs">399.49 eV</text>
<text x="405.8" y="647.1" font-size="14.1" text-anchor="start" textLength="35.8" lengthAdjust="spacingAndGlyphs">O-NR</text>
<text x="405.8" y="668.9" font-size="14.1" text-anchor="start" textLength="60.3" lengthAdjust="spacingAndGlyphs">398.55 eV</text>
<rect x="38.1" y="5.5" width="506.8" height="353.4" fill="none" stroke="#161616" stroke-width="1.75"/><line x1="38.1" y1="182.1" x2="544.9" y2="182.1" stroke="#161616" stroke-width="1.75"/><line x1="97.7" y1="182.1" x2="97.7" y2="175.8" stroke="#161616" stroke-width="1.3"/><line x1="97.7" y1="358.9" x2="97.7" y2="352.6" stroke="#161616" stroke-width="1.3"/><line x1="157.3" y1="182.1" x2="157.3" y2="175.8" stroke="#161616" stroke-width="1.3"/><line x1="157.3" y1="358.9" x2="157.3" y2="352.6" stroke="#161616" stroke-width="1.3"/><line x1="216.9" y1="182.1" x2="216.9" y2="175.8" stroke="#161616" stroke-width="1.3"/><line x1="216.9" y1="358.9" x2="216.9" y2="352.6" stroke="#161616" stroke-width="1.3"/><line x1="276.5" y1="182.1" x2="276.5" y2="175.8" stroke="#161616" stroke-width="1.3"/><line x1="276.5" y1="358.9" x2="276.5" y2="352.6" stroke="#161616" stroke-width="1.3"/><line x1="336.1" y1="182.1" x2="336.1" y2="175.8" stroke="#161616" stroke-width="1.3"/><line x1="336.1" y1="358.9" x2="336.1" y2="352.6" stroke="#161616" stroke-width="1.3"/><line x1="395.7" y1="182.1" x2="395.7" y2="175.8" stroke="#161616" stroke-width="1.3"/><line x1="395.7" y1="358.9" x2="395.7" y2="352.6" stroke="#161616" stroke-width="1.3"/><line x1="455.3" y1="182.1" x2="455.3" y2="175.8" stroke="#161616" stroke-width="1.3"/><line x1="455.3" y1="358.9" x2="455.3" y2="352.6" stroke="#161616" stroke-width="1.3"/><line x1="514.9" y1="182.1" x2="514.9" y2="175.8" stroke="#161616" stroke-width="1.3"/><line x1="514.9" y1="358.9" x2="514.9" y2="352.6" stroke="#161616" stroke-width="1.3"/><line x1="67.9" y1="182.1" x2="67.9" y2="178.8" stroke="#161616" stroke-width="1.3"/><line x1="67.9" y1="358.9" x2="67.9" y2="355.6" stroke="#161616" stroke-width="1.3"/><line x1="127.5" y1="182.1" x2="127.5" y2="178.8" stroke="#161616" stroke-width="1.3"/><line x1="127.5" y1="358.9" x2="127.5" y2="355.6" stroke="#161616" stroke-width="1.3"/><line x1="187.1" y1="182.1" x2="187.1" y2="178.8" stroke="#161616" stroke-width="1.3"/><line x1="187.1" y1="358.9" x2="187.1" y2="355.6" stroke="#161616" stroke-width="1.3"/><line x1="246.7" y1="182.1" x2="246.7" y2="178.8" stroke="#161616" stroke-width="1.3"/><line x1="246.7" y1="358.9" x2="246.7" y2="355.6" stroke="#161616" stroke-width="1.3"/><line x1="306.3" y1="182.1" x2="306.3" y2="178.8" stroke="#161616" stroke-width="1.3"/><line x1="306.3" y1="358.9" x2="306.3" y2="355.6" stroke="#161616" stroke-width="1.3"/><line x1="365.9" y1="182.1" x2="365.9" y2="178.8" stroke="#161616" stroke-width="1.3"/><line x1="365.9" y1="358.9" x2="365.9" y2="355.6" stroke="#161616" stroke-width="1.3"/><line x1="425.5" y1="182.1" x2="425.5" y2="178.8" stroke="#161616" stroke-width="1.3"/><line x1="425.5" y1="358.9" x2="425.5" y2="355.6" stroke="#161616" stroke-width="1.3"/><line x1="485.1" y1="182.1" x2="485.1" y2="178.8" stroke="#161616" stroke-width="1.3"/><line x1="485.1" y1="358.9" x2="485.1" y2="355.6" stroke="#161616" stroke-width="1.3"/><line x1="544.7" y1="182.1" x2="544.7" y2="178.8" stroke="#161616" stroke-width="1.3"/><line x1="544.7" y1="358.9" x2="544.7" y2="355.6" stroke="#161616" stroke-width="1.3"/>
<text x="38.1" y="378.3" font-size="14.5" text-anchor="middle" textLength="23.0" lengthAdjust="spacingAndGlyphs">296</text>
<text x="97.7" y="378.3" font-size="14.5" text-anchor="middle" textLength="23.0" lengthAdjust="spacingAndGlyphs">294</text>
<text x="157.3" y="378.3" font-size="14.5" text-anchor="middle" textLength="23.0" lengthAdjust="spacingAndGlyphs">292</text>
<text x="216.9" y="378.3" font-size="14.5" text-anchor="middle" textLength="23.0" lengthAdjust="spacingAndGlyphs">290</text>
<text x="276.5" y="378.3" font-size="14.5" text-anchor="middle" textLength="23.0" lengthAdjust="spacingAndGlyphs">288</text>
<text x="336.1" y="378.3" font-size="14.5" text-anchor="middle" textLength="23.0" lengthAdjust="spacingAndGlyphs">286</text>
<text x="395.7" y="378.3" font-size="14.5" text-anchor="middle" textLength="23.0" lengthAdjust="spacingAndGlyphs">284</text>
<text x="455.3" y="378.3" font-size="14.5" text-anchor="middle" textLength="23.0" lengthAdjust="spacingAndGlyphs">282</text>
<text x="514.9" y="378.3" font-size="14.5" text-anchor="middle" textLength="23.0" lengthAdjust="spacingAndGlyphs">280</text>
<rect x="37.4" y="415.3" width="496.4" height="346.4" fill="none" stroke="#161616" stroke-width="1.75"/><line x1="37.4" y1="588.5" x2="533.8" y2="588.5" stroke="#161616" stroke-width="1.75"/><line x1="66.6" y1="588.5" x2="66.6" y2="582.2" stroke="#161616" stroke-width="1.3"/><line x1="66.6" y1="761.7" x2="66.6" y2="755.4" stroke="#161616" stroke-width="1.3"/><line x1="125" y1="588.5" x2="125" y2="582.2" stroke="#161616" stroke-width="1.3"/><line x1="125" y1="761.7" x2="125" y2="755.4" stroke="#161616" stroke-width="1.3"/><line x1="183.4" y1="588.5" x2="183.4" y2="582.2" stroke="#161616" stroke-width="1.3"/><line x1="183.4" y1="761.7" x2="183.4" y2="755.4" stroke="#161616" stroke-width="1.3"/><line x1="241.8" y1="588.5" x2="241.8" y2="582.2" stroke="#161616" stroke-width="1.3"/><line x1="241.8" y1="761.7" x2="241.8" y2="755.4" stroke="#161616" stroke-width="1.3"/><line x1="300.2" y1="588.5" x2="300.2" y2="582.2" stroke="#161616" stroke-width="1.3"/><line x1="300.2" y1="761.7" x2="300.2" y2="755.4" stroke="#161616" stroke-width="1.3"/><line x1="358.6" y1="588.5" x2="358.6" y2="582.2" stroke="#161616" stroke-width="1.3"/><line x1="358.6" y1="761.7" x2="358.6" y2="755.4" stroke="#161616" stroke-width="1.3"/><line x1="417" y1="588.5" x2="417" y2="582.2" stroke="#161616" stroke-width="1.3"/><line x1="417" y1="761.7" x2="417" y2="755.4" stroke="#161616" stroke-width="1.3"/><line x1="475.4" y1="588.5" x2="475.4" y2="582.2" stroke="#161616" stroke-width="1.3"/><line x1="475.4" y1="761.7" x2="475.4" y2="755.4" stroke="#161616" stroke-width="1.3"/><line x1="95.8" y1="588.5" x2="95.8" y2="585.2" stroke="#161616" stroke-width="1.3"/><line x1="95.8" y1="761.7" x2="95.8" y2="758.4" stroke="#161616" stroke-width="1.3"/><line x1="154.2" y1="588.5" x2="154.2" y2="585.2" stroke="#161616" stroke-width="1.3"/><line x1="154.2" y1="761.7" x2="154.2" y2="758.4" stroke="#161616" stroke-width="1.3"/><line x1="212.6" y1="588.5" x2="212.6" y2="585.2" stroke="#161616" stroke-width="1.3"/><line x1="212.6" y1="761.7" x2="212.6" y2="758.4" stroke="#161616" stroke-width="1.3"/><line x1="271" y1="588.5" x2="271" y2="585.2" stroke="#161616" stroke-width="1.3"/><line x1="271" y1="761.7" x2="271" y2="758.4" stroke="#161616" stroke-width="1.3"/><line x1="329.4" y1="588.5" x2="329.4" y2="585.2" stroke="#161616" stroke-width="1.3"/><line x1="329.4" y1="761.7" x2="329.4" y2="758.4" stroke="#161616" stroke-width="1.3"/><line x1="387.8" y1="588.5" x2="387.8" y2="585.2" stroke="#161616" stroke-width="1.3"/><line x1="387.8" y1="761.7" x2="387.8" y2="758.4" stroke="#161616" stroke-width="1.3"/><line x1="446.2" y1="588.5" x2="446.2" y2="585.2" stroke="#161616" stroke-width="1.3"/><line x1="446.2" y1="761.7" x2="446.2" y2="758.4" stroke="#161616" stroke-width="1.3"/><line x1="504.6" y1="588.5" x2="504.6" y2="585.2" stroke="#161616" stroke-width="1.3"/><line x1="504.6" y1="761.7" x2="504.6" y2="758.4" stroke="#161616" stroke-width="1.3"/>
<text x="66.6" y="780.9" font-size="14.2" text-anchor="middle" textLength="22.5" lengthAdjust="spacingAndGlyphs">408</text>
<text x="125" y="780.9" font-size="14.2" text-anchor="middle" textLength="22.5" lengthAdjust="spacingAndGlyphs">406</text>
<text x="183.4" y="780.9" font-size="14.2" text-anchor="middle" textLength="22.5" lengthAdjust="spacingAndGlyphs">404</text>
<text x="241.8" y="780.9" font-size="14.2" text-anchor="middle" textLength="22.5" lengthAdjust="spacingAndGlyphs">402</text>
<text x="300.2" y="780.9" font-size="14.2" text-anchor="middle" textLength="22.5" lengthAdjust="spacingAndGlyphs">400</text>
<text x="358.6" y="780.9" font-size="14.2" text-anchor="middle" textLength="22.5" lengthAdjust="spacingAndGlyphs">398</text>
<text x="417" y="780.9" font-size="14.2" text-anchor="middle" textLength="22.5" lengthAdjust="spacingAndGlyphs">396</text>
<text x="475.4" y="780.9" font-size="14.2" text-anchor="middle" textLength="22.5" lengthAdjust="spacingAndGlyphs">394</text>
<text x="533.8" y="780.9" font-size="14.2" text-anchor="middle" textLength="22.5" lengthAdjust="spacingAndGlyphs">392</text>
<text x="214.9" y="406" font-size="18" text-anchor="start" textLength="153.9" lengthAdjust="spacingAndGlyphs">Binding Energy (eV)</text>
<text x="210.3" y="808.7" font-size="17.8" text-anchor="start" textLength="151.5" lengthAdjust="spacingAndGlyphs">Binding Energy (eV)</text>
<text transform="translate(18.7,178) rotate(-90)" font-size="17.8" text-anchor="middle" textLength="104.4" lengthAdjust="spacingAndGlyphs">Intensity (a.u.)</text>
<text transform="translate(23,584) rotate(-90)" font-size="16.5" text-anchor="middle" textLength="96.5" lengthAdjust="spacingAndGlyphs">Intensity (a.u.)</text>
<text x="7.6" y="21.1" font-size="14.4" text-anchor="start" textLength="17.2" lengthAdjust="spacingAndGlyphs">(a)</text>
<text x="7.8" y="431" font-size="13.6" text-anchor="start" textLength="16.6" lengthAdjust="spacingAndGlyphs">(b)</text>
<rect x="42.6" y="8.7" width="32.9" height="25.6" fill="#fff" stroke="#9a9a9a" stroke-width="1.2"/><text x="46" y="28" font-size="14.2" text-anchor="start" textLength="27.2" lengthAdjust="spacingAndGlyphs">Raw</text>
<rect x="44.1" y="189" width="23.7" height="25.2" fill="#fff" stroke="#9a9a9a" stroke-width="1.2"/><text x="46.8" y="207.8" font-size="14.6" text-anchor="start" textLength="18.6" lengthAdjust="spacingAndGlyphs">7.0</text>
<rect x="47.6" y="423.6" width="30.9" height="24.6" fill="#fff" stroke="#9a9a9a" stroke-width="1.2"/><text x="50.6" y="442.1" font-size="14" text-anchor="start" textLength="25.1" lengthAdjust="spacingAndGlyphs">Raw</text>
<rect x="46.4" y="599.6" width="23.9" height="25" fill="#fff" stroke="#9a9a9a" stroke-width="1.2"/><text x="49.9" y="618.7" font-size="14.3" text-anchor="start" textLength="17.8" lengthAdjust="spacingAndGlyphs">7.0</text>
<rect x="504.8" y="10.3" width="27.7" height="24.7" fill="#000"/><rect x="499.8" y="5.8" width="27.7" height="24.7" fill="#fff" stroke="#bbb" stroke-width="0.8"/><text x="501.9" y="24.2" font-size="14.8" text-anchor="start" textLength="24.2" lengthAdjust="spacingAndGlyphs" letter-spacing="0.5">C1s</text>
<rect x="494.7" y="420.5" width="28.6" height="23.8" fill="#000"/><rect x="490.4" y="415.7" width="28.6" height="23.8" fill="#fff" stroke="#bbb" stroke-width="0.8"/><text x="492.5" y="434" font-size="14.5" text-anchor="start" textLength="24.3" lengthAdjust="spacingAndGlyphs" letter-spacing="0.5">N1s</text>
</svg>
</body></html>
